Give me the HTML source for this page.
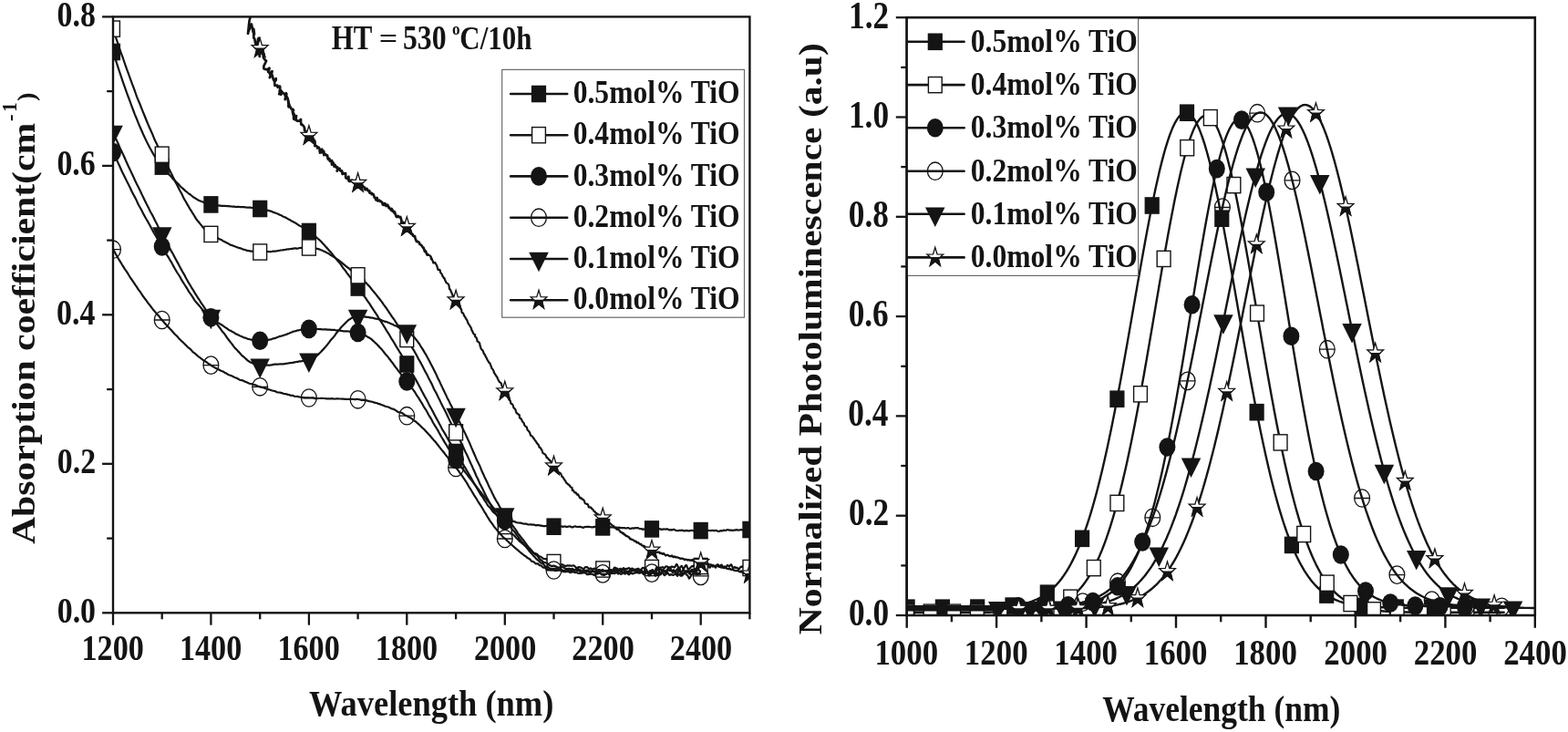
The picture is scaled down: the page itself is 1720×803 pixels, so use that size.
<!DOCTYPE html>
<html><head><meta charset="utf-8"><title>Absorption and photoluminescence spectra</title>
<style>html,body{margin:0;padding:0;background:#fff;}svg{display:block;filter:blur(0.45px);}
text{font-family:"Liberation Serif","Times New Roman",serif;font-weight:bold;fill:#141414;}</style></head>
<body><svg width="1720" height="803" viewBox="0 0 1720 803">
<rect width="1720" height="803" fill="#fff"/>
<clipPath id="clipL"><rect x="124.0" y="18.4" width="698.4" height="653.9"/></clipPath>
<g clip-path="url(#clipL)">
<polyline points="124.0,57.0 125.0,60.1 126.0,63.1 127.0,66.2 128.0,69.2 129.0,72.3 130.0,75.4 131.0,78.5 132.0,81.4 133.0,84.3 134.0,87.4 135.0,90.3 136.0,93.1 137.0,95.9 138.0,98.8 139.0,101.7 140.0,104.4 141.0,107.0 142.0,109.7 143.0,112.4 144.0,115.1 145.0,117.8 146.0,120.5 147.0,123.2 148.0,125.8 149.0,128.2 150.0,130.5 151.0,133.1 152.0,135.6 153.0,138.0 154.0,140.2 155.0,142.5 156.0,144.8 157.0,147.1 158.0,149.3 159.0,151.4 160.0,153.5 161.0,155.6 162.0,157.6 163.0,159.5 164.0,161.5 165.0,163.3 166.0,165.0 167.0,166.9 168.0,168.7 169.0,170.3 170.0,171.9 171.0,173.5 172.0,175.0 173.0,176.7 174.0,178.0 175.0,179.1 176.0,180.5 177.0,181.8 178.0,183.0 179.0,184.1 180.0,185.3 181.0,186.5 182.0,187.7 183.0,188.7 184.0,189.8 185.0,190.9 186.0,192.0 187.0,193.0 188.0,194.1 189.0,195.3 190.0,196.5 191.0,197.5 192.0,198.3 193.0,199.4 194.0,200.4 195.0,201.3 196.0,202.3 197.0,203.5 198.0,204.6 199.0,205.5 200.0,206.3 201.0,207.1 202.0,208.1 203.0,209.1 204.0,209.8 205.0,210.6 206.0,211.5 207.0,212.3 208.0,213.0 209.0,213.7 210.0,214.5 211.0,215.3 212.0,216.1 213.0,216.8 214.0,217.3 215.0,218.0 216.0,218.6 217.0,219.2 218.0,219.7 219.0,220.2 220.0,220.6 221.0,221.0 222.0,221.3 223.0,221.7 224.0,222.2 225.0,222.7 226.0,223.2 227.0,223.6 228.0,223.7 229.0,223.8 230.0,224.2 231.0,224.4 232.0,224.5 233.0,224.6 234.0,224.9 235.0,224.9 236.0,224.9 237.0,225.1 238.0,225.2 239.0,225.3 240.0,225.4 241.0,225.6 242.0,225.7 243.0,225.8 244.0,225.8 245.0,225.9 246.0,225.9 247.0,225.8 248.0,226.0 249.0,226.1 250.0,226.1 251.0,226.2 252.0,226.3 253.0,226.4 254.0,226.5 255.0,226.6 256.0,226.6 257.0,226.6 258.0,226.9 259.0,227.0 260.0,226.9 261.0,226.9 262.0,226.9 263.0,227.0 264.0,227.1 265.0,227.1 266.0,227.1 267.0,227.1 268.0,227.2 269.0,227.3 270.0,227.5 271.0,227.6 272.0,227.7 273.0,227.7 274.0,227.7 275.0,227.7 276.0,227.9 277.0,228.0 278.0,228.1 279.0,228.1 280.0,228.1 281.0,228.4 282.0,228.7 283.0,228.7 284.0,228.7 285.0,229.0 286.0,229.2 287.0,229.2 288.0,229.3 289.0,229.5 290.0,229.7 291.0,230.1 292.0,230.4 293.0,230.6 294.0,230.8 295.0,231.2 296.0,231.4 297.0,231.7 298.0,231.9 299.0,232.4 300.0,232.9 301.0,233.2 302.0,233.6 303.0,234.0 304.0,234.3 305.0,234.7 306.0,235.2 307.0,235.7 308.0,236.1 309.0,236.6 310.0,237.2 311.0,237.7 312.0,238.1 313.0,238.4 314.0,238.9 315.0,239.6 316.0,240.2 317.0,240.7 318.0,241.2 319.0,241.9 320.0,242.4 321.0,242.9 322.0,243.5 323.0,244.1 324.0,244.6 325.0,245.2 326.0,245.9 327.0,246.6 328.0,247.3 329.0,247.8 330.0,248.1 331.0,248.7 332.0,249.5 333.0,250.1 334.0,250.8 335.0,251.4 336.0,251.9 337.0,252.5 338.0,253.3 339.0,254.1 340.0,254.7 341.0,255.4 342.0,256.0 343.0,256.8 344.0,257.6 345.0,258.4 346.0,259.2 347.0,260.2 348.0,261.2 349.0,262.1 350.0,262.9 351.0,263.8 352.0,264.8 353.0,265.8 354.0,266.9 355.0,268.0 356.0,269.1 357.0,270.3 358.0,271.4 359.0,272.4 360.0,273.5 361.0,274.7 362.0,275.7 363.0,276.8 364.0,278.1 365.0,279.4 366.0,280.7 367.0,281.8 368.0,283.1 369.0,284.4 370.0,285.6 371.0,286.6 372.0,287.9 373.0,289.1 374.0,290.3 375.0,291.9 376.0,293.5 377.0,294.7 378.0,295.8 379.0,297.2 380.0,298.7 381.0,300.1 382.0,301.3 383.0,302.7 384.0,304.0 385.0,305.5 386.0,306.8 387.0,308.0 388.0,309.3 389.0,310.7 390.0,312.0 391.0,313.4 392.0,314.6 393.0,315.9 394.0,317.3 395.0,318.6 396.0,320.2 397.0,321.6 398.0,322.9 399.0,324.3 400.0,325.6 401.0,326.8 402.0,328.4 403.0,329.9 404.0,331.3 405.0,332.7 406.0,334.2 407.0,335.8 408.0,337.4 409.0,338.9 410.0,340.4 411.0,342.0 412.0,343.4 413.0,344.8 414.0,346.4 415.0,348.2 416.0,349.9 417.0,351.4 418.0,352.9 419.0,354.4 420.0,356.0 421.0,357.6 422.0,359.2 423.0,360.9 424.0,362.6 425.0,364.2 426.0,365.7 427.0,367.2 428.0,369.0 429.0,370.8 430.0,372.4 431.0,373.9 432.0,375.5 433.0,377.1 434.0,378.9 435.0,380.6 436.0,382.2 437.0,383.8 438.0,385.5 439.0,387.1 440.0,388.7 441.0,390.4 442.0,392.2 443.0,393.9 444.0,395.6 445.0,397.4 446.0,399.1 447.0,400.6 448.0,402.2 449.0,404.0 450.0,405.7 451.0,407.4 452.0,409.3 453.0,411.2 454.0,412.8 455.0,414.5 456.0,416.3 457.0,418.1 458.0,419.9 459.0,421.8 460.0,423.7 461.0,425.6 462.0,427.6 463.0,429.5 464.0,431.3 465.0,433.2 466.0,435.1 467.0,436.8 468.0,438.5 469.0,440.4 470.0,442.5 471.0,444.6 472.0,446.4 473.0,448.0 474.0,449.9 475.0,451.8 476.0,453.8 477.0,455.7 478.0,457.6 479.0,459.4 480.0,461.2 481.0,463.1 482.0,465.0 483.0,466.8 484.0,468.7 485.0,470.7 486.0,472.4 487.0,474.0 488.0,475.6 489.0,477.4 490.0,479.1 491.0,480.9 492.0,482.8 493.0,484.6 494.0,486.1 495.0,487.6 496.0,489.3 497.0,491.1 498.0,492.9 499.0,494.6 500.0,496.0 501.0,497.3 502.0,498.9 503.0,500.6 504.0,502.3 505.0,503.9 506.0,505.6 507.0,507.3 508.0,509.2 509.0,511.0 510.0,512.7 511.0,514.3 512.0,516.1 513.0,517.8 514.0,519.5 515.0,521.2 516.0,522.9 517.0,524.7 518.0,526.6 519.0,528.4 520.0,530.2 521.0,531.8 522.0,533.4 523.0,535.1 524.0,536.9 525.0,538.6 526.0,540.3 527.0,542.1 528.0,543.5 529.0,544.6 530.0,546.2 531.0,548.2 532.0,549.5 533.0,550.7 534.0,552.6 535.0,554.3 536.0,555.5 537.0,556.4 538.0,557.4 539.0,558.9 540.0,560.5 541.0,561.6 542.0,562.5 543.0,563.2 544.0,563.8 545.0,564.5 546.0,565.6 547.0,566.6 548.0,567.2 549.0,568.1 550.0,568.6 551.0,568.7 552.0,569.1 553.0,569.6 554.0,569.9 555.0,570.0 556.0,570.2 557.0,570.5 558.0,570.6 559.0,570.8 560.0,571.5 561.0,571.8 562.0,571.7 563.0,571.9 564.0,572.1 565.0,572.4 566.0,572.9 567.0,573.2 568.0,573.5 569.0,573.5 570.0,573.6 571.0,573.7 572.0,573.9 573.0,574.2 574.0,574.5 575.0,574.7 576.0,574.6 577.0,574.6 578.0,574.9 579.0,575.3 580.0,575.5 581.0,575.4 582.0,575.3 583.0,575.4 584.0,575.7 585.0,575.6 586.0,575.5 587.0,576.1 588.0,576.5 589.0,576.1 590.0,576.0 591.0,576.2 592.0,576.4 593.0,576.7 594.0,576.7 595.0,576.8 596.0,577.1 597.0,577.1 598.0,577.1 599.0,577.0 600.0,576.7 601.0,577.0 602.0,577.7 603.0,577.7 604.0,577.6 605.0,577.7 606.0,577.7 607.0,578.0 608.0,578.1 609.0,577.5 610.0,577.0 611.0,577.1 612.0,577.4 613.0,578.0 614.0,578.0 615.0,577.5 616.0,577.3 617.0,577.8 618.0,577.8 619.0,577.4 620.0,577.5 621.0,577.9 622.0,577.9 623.0,577.8 624.0,577.5 625.0,577.4 626.0,577.7 627.0,578.4 628.0,578.4 629.0,577.9 630.0,577.5 631.0,577.4 632.0,577.7 633.0,578.0 634.0,578.0 635.0,577.9 636.0,577.8 637.0,577.9 638.0,578.3 639.0,578.7 640.0,578.8 641.0,578.3 642.0,577.9 643.0,578.0 644.0,577.9 645.0,577.9 646.0,577.9 647.0,578.0 648.0,578.2 649.0,578.3 650.0,578.3 651.0,578.1 652.0,577.9 653.0,577.9 654.0,578.0 655.0,578.1 656.0,578.3 657.0,578.2 658.0,578.0 659.0,578.0 660.0,577.9 661.0,578.0 662.0,578.0 663.0,577.8 664.0,578.2 665.0,578.5 666.0,578.4 667.0,578.3 668.0,578.3 669.0,578.2 670.0,578.3 671.0,578.5 672.0,578.5 673.0,578.4 674.0,578.7 675.0,578.8 676.0,578.7 677.0,578.8 678.0,578.8 679.0,578.6 680.0,578.9 681.0,579.2 682.0,579.2 683.0,579.1 684.0,579.0 685.0,579.1 686.0,579.4 687.0,579.5 688.0,579.2 689.0,579.0 690.0,579.5 691.0,580.0 692.0,579.9 693.0,579.5 694.0,579.3 695.0,579.6 696.0,579.4 697.0,579.0 698.0,579.3 699.0,579.2 700.0,579.2 701.0,579.7 702.0,580.1 703.0,580.0 704.0,580.2 705.0,580.8 706.0,580.7 707.0,580.3 708.0,579.9 709.0,579.7 710.0,579.9 711.0,580.3 712.0,580.5 713.0,580.6 714.0,580.5 715.0,580.3 716.0,580.4 717.0,580.7 718.0,580.9 719.0,581.0 720.0,580.8 721.0,580.6 722.0,580.6 723.0,580.3 724.0,580.2 725.0,580.7 726.0,580.9 727.0,580.7 728.0,580.4 729.0,580.5 730.0,580.7 731.0,580.4 732.0,580.3 733.0,580.8 734.0,581.4 735.0,581.3 736.0,581.1 737.0,581.3 738.0,581.2 739.0,580.7 740.0,581.1 741.0,581.7 742.0,582.0 743.0,582.2 744.0,582.2 745.0,581.9 746.0,581.9 747.0,581.9 748.0,581.7 749.0,581.8 750.0,582.3 751.0,582.4 752.0,582.1 753.0,581.9 754.0,582.1 755.0,582.3 756.0,582.3 757.0,582.2 758.0,581.9 759.0,581.8 760.0,582.0 761.0,582.4 762.0,582.2 763.0,581.7 764.0,581.7 765.0,582.0 766.0,581.7 767.0,581.7 768.0,582.2 769.0,582.4 770.0,582.2 771.0,582.2 772.0,582.3 773.0,582.3 774.0,582.2 775.0,581.9 776.0,581.8 777.0,581.9 778.0,582.0 779.0,582.2 780.0,582.1 781.0,581.8 782.0,581.9 783.0,582.1 784.0,582.1 785.0,581.9 786.0,582.0 787.0,582.6 788.0,583.0 789.0,582.8 790.0,582.3 791.0,582.2 792.0,582.4 793.0,582.0 794.0,581.6 795.0,581.8 796.0,581.9 797.0,581.4 798.0,581.0 799.0,581.3 800.0,581.6 801.0,581.6 802.0,581.6 803.0,581.8 804.0,581.8 805.0,581.7 806.0,581.6 807.0,581.4 808.0,581.2 809.0,581.3 810.0,581.7 811.0,581.5 812.0,581.2 813.0,581.2 814.0,581.3 815.0,581.3 816.0,580.8 817.0,580.7 818.0,581.3 819.0,581.9 820.0,581.7 821.0,581.3 822.0,581.2" fill="none" stroke="#141414" stroke-width="2.2" stroke-linejoin="round" stroke-linecap="round" />
<rect x="115.9" y="47.7" width="16.2" height="18.6" fill="#141414"/>
<rect x="169.6" y="173.3" width="16.2" height="18.6" fill="#141414"/>
<rect x="223.3" y="215.1" width="16.2" height="18.6" fill="#141414"/>
<rect x="277.1" y="219.7" width="16.2" height="18.6" fill="#141414"/>
<rect x="330.8" y="244.7" width="16.2" height="18.6" fill="#141414"/>
<rect x="384.5" y="306.2" width="16.2" height="18.6" fill="#141414"/>
<rect x="438.2" y="390.2" width="16.2" height="18.6" fill="#141414"/>
<rect x="492.0" y="486.7" width="16.2" height="18.6" fill="#141414"/>
<rect x="545.7" y="560.7" width="16.2" height="18.6" fill="#141414"/>
<rect x="599.4" y="568.4" width="16.2" height="18.6" fill="#141414"/>
<rect x="653.1" y="569.1" width="16.2" height="18.6" fill="#141414"/>
<rect x="706.9" y="571.1" width="16.2" height="18.6" fill="#141414"/>
<rect x="760.6" y="572.8" width="16.2" height="18.6" fill="#141414"/>
<rect x="814.3" y="571.7" width="16.2" height="18.6" fill="#141414"/>
<polyline points="124.0,31.8 125.0,34.7 126.0,37.7 127.0,40.8 128.0,43.8 129.0,46.7 130.0,49.7 131.0,52.9 132.0,55.9 133.0,58.6 134.0,61.3 135.0,64.0 136.0,67.0 137.0,70.0 138.0,72.9 139.0,75.7 140.0,78.3 141.0,81.0 142.0,83.9 143.0,86.6 144.0,89.3 145.0,92.1 146.0,94.7 147.0,97.3 148.0,100.2 149.0,103.0 150.0,105.8 151.0,108.4 152.0,110.7 153.0,113.0 154.0,115.5 155.0,118.1 156.0,120.7 157.0,123.1 158.0,125.5 159.0,128.0 160.0,130.5 161.0,133.0 162.0,135.4 163.0,137.7 164.0,140.0 165.0,142.3 166.0,144.5 167.0,146.7 168.0,149.2 169.0,151.7 170.0,154.0 171.0,156.1 172.0,158.0 173.0,160.1 174.0,162.3 175.0,164.3 176.0,166.2 177.0,168.2 178.0,170.2 179.0,172.2 180.0,174.2 181.0,176.1 182.0,178.3 183.0,180.6 184.0,182.5 185.0,184.4 186.0,186.5 187.0,188.5 188.0,190.4 189.0,192.5 190.0,194.6 191.0,196.6 192.0,198.7 193.0,200.7 194.0,202.6 195.0,204.5 196.0,206.5 197.0,208.5 198.0,210.2 199.0,212.1 200.0,214.1 201.0,216.2 202.0,218.2 203.0,219.9 204.0,221.5 205.0,223.4 206.0,225.1 207.0,226.8 208.0,228.6 209.0,230.1 210.0,231.6 211.0,233.3 212.0,234.9 213.0,236.5 214.0,238.2 215.0,239.8 216.0,241.3 217.0,242.4 218.0,243.5 219.0,244.8 220.0,246.1 221.0,247.3 222.0,248.6 223.0,249.6 224.0,250.6 225.0,251.8 226.0,252.8 227.0,253.7 228.0,254.6 229.0,255.3 230.0,256.1 231.0,256.8 232.0,257.4 233.0,257.9 234.0,258.4 235.0,258.8 236.0,259.4 237.0,260.1 238.0,260.6 239.0,261.2 240.0,262.0 241.0,262.4 242.0,262.7 243.0,263.2 244.0,263.9 245.0,264.5 246.0,265.0 247.0,265.5 248.0,266.0 249.0,266.5 250.0,267.0 251.0,267.5 252.0,268.3 253.0,268.8 254.0,268.9 255.0,269.2 256.0,269.7 257.0,270.1 258.0,270.5 259.0,270.8 260.0,271.3 261.0,271.5 262.0,271.9 263.0,272.2 264.0,272.4 265.0,272.8 266.0,273.3 267.0,273.7 268.0,273.9 269.0,274.0 270.0,274.4 271.0,274.9 272.0,275.1 273.0,275.2 274.0,275.3 275.0,275.6 276.0,275.6 277.0,275.7 278.0,276.0 279.0,276.3 280.0,276.4 281.0,276.5 282.0,276.5 283.0,276.5 284.0,276.5 285.0,276.6 286.0,276.8 287.0,276.7 288.0,276.4 289.0,276.4 290.0,276.5 291.0,276.5 292.0,276.2 293.0,275.9 294.0,276.0 295.0,276.1 296.0,276.1 297.0,276.1 298.0,276.0 299.0,275.7 300.0,275.5 301.0,275.6 302.0,275.7 303.0,275.5 304.0,275.2 305.0,275.1 306.0,275.0 307.0,274.7 308.0,274.5 309.0,274.5 310.0,274.4 311.0,274.2 312.0,274.0 313.0,273.9 314.0,273.7 315.0,273.5 316.0,273.3 317.0,273.3 318.0,273.2 319.0,273.0 320.0,272.9 321.0,272.8 322.0,272.6 323.0,272.4 324.0,272.4 325.0,272.6 326.0,272.7 327.0,272.5 328.0,272.2 329.0,272.0 330.0,271.9 331.0,271.9 332.0,271.8 333.0,271.7 334.0,271.7 335.0,271.7 336.0,271.7 337.0,271.6 338.0,271.4 339.0,271.5 340.0,271.6 341.0,271.7 342.0,271.7 343.0,271.6 344.0,271.7 345.0,272.1 346.0,272.5 347.0,272.6 348.0,272.9 349.0,273.2 350.0,273.4 351.0,273.7 352.0,274.2 353.0,274.6 354.0,275.0 355.0,275.5 356.0,275.9 357.0,276.3 358.0,277.0 359.0,277.5 360.0,277.8 361.0,278.5 362.0,279.4 363.0,280.0 364.0,280.5 365.0,281.1 366.0,281.8 367.0,282.4 368.0,283.1 369.0,283.8 370.0,284.4 371.0,285.1 372.0,285.9 373.0,286.7 374.0,287.4 375.0,288.2 376.0,289.1 377.0,289.9 378.0,290.7 379.0,291.6 380.0,292.4 381.0,293.2 382.0,293.8 383.0,294.6 384.0,295.5 385.0,296.5 386.0,297.2 387.0,297.6 388.0,298.4 389.0,299.5 390.0,300.4 391.0,301.1 392.0,301.9 393.0,302.7 394.0,303.5 395.0,304.4 396.0,305.1 397.0,305.9 398.0,306.9 399.0,307.9 400.0,308.9 401.0,309.9 402.0,310.8 403.0,311.9 404.0,312.9 405.0,313.9 406.0,315.0 407.0,316.3 408.0,317.7 409.0,318.9 410.0,320.0 411.0,321.3 412.0,322.4 413.0,323.6 414.0,325.0 415.0,326.3 416.0,327.5 417.0,328.7 418.0,330.1 419.0,331.4 420.0,332.8 421.0,334.3 422.0,335.6 423.0,337.0 424.0,338.4 425.0,339.9 426.0,341.3 427.0,342.8 428.0,344.4 429.0,345.9 430.0,347.4 431.0,348.8 432.0,350.0 433.0,351.5 434.0,353.1 435.0,354.6 436.0,356.1 437.0,357.5 438.0,358.9 439.0,360.4 440.0,362.0 441.0,363.6 442.0,365.2 443.0,366.7 444.0,368.3 445.0,369.9 446.0,371.2 447.0,372.7 448.0,374.2 449.0,375.8 450.0,377.7 451.0,379.5 452.0,381.2 453.0,382.8 454.0,384.4 455.0,386.2 456.0,388.0 457.0,389.8 458.0,391.8 459.0,393.7 460.0,395.4 461.0,397.1 462.0,398.9 463.0,400.8 464.0,402.8 465.0,404.7 466.0,406.7 467.0,408.6 468.0,410.3 469.0,412.3 470.0,414.4 471.0,416.3 472.0,418.2 473.0,420.1 474.0,422.1 475.0,424.4 476.0,426.7 477.0,428.5 478.0,430.2 479.0,432.1 480.0,434.3 481.0,436.4 482.0,438.3 483.0,440.4 484.0,442.6 485.0,444.6 486.0,446.5 487.0,448.3 488.0,450.2 489.0,452.2 490.0,454.3 491.0,456.5 492.0,458.6 493.0,460.7 494.0,462.9 495.0,464.7 496.0,466.4 497.0,468.5 498.0,470.5 499.0,472.2 500.0,474.0 501.0,475.9 502.0,477.9 503.0,480.0 504.0,481.8 505.0,483.8 506.0,486.0 507.0,488.2 508.0,490.3 509.0,492.4 510.0,494.6 511.0,496.7 512.0,498.6 513.0,500.8 514.0,503.1 515.0,505.3 516.0,507.5 517.0,509.6 518.0,511.8 519.0,514.2 520.0,516.3 521.0,518.5 522.0,521.0 523.0,523.2 524.0,525.0 525.0,527.3 526.0,529.7 527.0,531.7 528.0,533.6 529.0,535.6 530.0,537.6 531.0,539.7 532.0,541.8 533.0,543.8 534.0,545.8 535.0,547.6 536.0,549.5 537.0,551.4 538.0,553.3 539.0,555.2 540.0,557.2 541.0,558.9 542.0,560.6 543.0,562.2 544.0,563.8 545.0,565.3 546.0,566.9 547.0,568.4 548.0,569.8 549.0,571.3 550.0,572.6 551.0,573.7 552.0,574.8 553.0,576.0 554.0,577.2 555.0,578.3 556.0,579.4 557.0,580.2 558.0,581.1 559.0,582.1 560.0,583.2 561.0,584.5 562.0,585.8 563.0,586.7 564.0,587.4 565.0,588.5 566.0,589.8 567.0,590.7 568.0,591.6 569.0,592.7 570.0,593.9 571.0,594.7 572.0,595.4 573.0,596.2 574.0,597.1 575.0,597.8 576.0,598.6 577.0,599.5 578.0,600.4 579.0,601.2 580.0,602.3 581.0,603.5 582.0,603.8 583.0,604.2 584.0,605.2 585.0,606.2 586.0,606.9 587.0,607.2 588.0,607.4 589.0,607.8 590.0,608.8 591.0,609.9 592.0,610.4 593.0,610.7 594.0,611.3 595.0,612.2 596.0,612.8 597.0,613.0 598.0,613.1 599.0,613.1 600.0,614.1 601.0,614.9 602.0,614.7 603.0,615.2 604.0,616.0 605.0,616.1 606.0,616.2 607.0,616.7 608.0,617.1 609.0,616.9 610.0,616.7 611.0,617.2 612.0,617.5 613.0,617.9 614.0,618.6 615.0,619.2 616.0,619.4 617.0,619.3 618.0,619.9 619.0,620.6 620.0,620.9 621.0,620.9 622.0,620.4 623.0,620.4 624.0,620.6 625.0,620.3 626.0,620.6 627.0,620.8 628.0,620.5 629.0,620.3 630.0,620.7 631.0,621.8 632.0,622.7 633.0,622.9 634.0,622.4 635.0,622.1 636.0,622.2 637.0,622.6 638.0,623.0 639.0,623.7 640.0,624.2 641.0,623.3 642.0,622.2 643.0,622.1 644.0,622.1 645.0,622.9 646.0,624.2 647.0,623.9 648.0,623.3 649.0,624.3 650.0,624.9 651.0,624.1 652.0,623.6 653.0,623.9 654.0,624.6 655.0,625.2 656.0,625.7 657.0,626.0 658.0,626.0 659.0,625.9 660.0,624.9 661.0,623.7 662.0,624.0 663.0,624.5 664.0,624.6 665.0,624.8 666.0,624.2 667.0,624.2 668.0,625.4 669.0,625.5 670.0,625.1 671.0,625.5 672.0,625.6 673.0,624.1 674.0,622.5 675.0,622.8 676.0,623.4 677.0,623.5 678.0,624.5 679.0,625.0 680.0,623.9 681.0,623.9 682.0,625.1 683.0,624.1 684.0,623.1 685.0,623.9 686.0,624.2 687.0,623.9 688.0,624.1 689.0,623.5 690.0,623.1 691.0,623.9 692.0,624.3 693.0,623.7 694.0,623.7 695.0,624.9 696.0,625.6 697.0,624.8 698.0,624.4 699.0,624.0 700.0,623.7 701.0,624.4 702.0,625.0 703.0,625.0 704.0,623.9 705.0,622.8 706.0,622.8 707.0,623.7 708.0,624.5 709.0,624.8 710.0,624.6 711.0,624.9 712.0,625.0 713.0,623.2 714.0,621.3 715.0,620.7 716.0,621.9 717.0,623.3 718.0,623.4 719.0,623.8 720.0,624.7 721.0,625.1 722.0,624.4 723.0,623.0 724.0,622.5 725.0,622.7 726.0,622.5 727.0,622.1 728.0,622.9 729.0,623.1 730.0,621.6 731.0,621.3 732.0,621.6 733.0,622.4 734.0,623.0 735.0,622.8 736.0,622.0 737.0,621.4 738.0,622.0 739.0,622.2 740.0,622.3 741.0,621.0 742.0,618.9 743.0,619.8 744.0,622.3 745.0,623.4 746.0,622.8 747.0,621.2 748.0,620.9 749.0,623.1 750.0,624.0 751.0,622.2 752.0,620.3 753.0,620.0 754.0,622.7 755.0,624.7 756.0,623.9 757.0,623.1 758.0,621.8 759.0,621.1 760.0,621.3 761.0,620.4 762.0,620.4 763.0,621.7 764.0,622.3 765.0,622.1 766.0,621.2 767.0,619.8 768.0,619.4 769.0,620.1 770.0,619.7 771.0,618.7 772.0,618.8 773.0,619.0 774.0,618.2 775.0,617.9 776.0,618.8 777.0,620.6 778.0,622.6 779.0,622.5 780.0,620.3 781.0,620.1 782.0,621.6 783.0,621.2 784.0,621.6 785.0,622.6 786.0,621.1 787.0,619.2 788.0,619.5 789.0,621.1 790.0,621.1 791.0,619.6 792.0,620.0 793.0,621.7 794.0,622.0 795.0,621.4 796.0,622.1 797.0,621.5 798.0,619.9 799.0,620.6 800.0,621.7 801.0,620.3 802.0,619.2 803.0,620.8 804.0,623.3 805.0,622.8 806.0,621.9 807.0,623.0 808.0,622.7 809.0,623.1 810.0,624.4 811.0,623.9 812.0,622.4 813.0,621.6 814.0,622.1 815.0,620.8 816.0,621.1 817.0,624.5 818.0,625.7 819.0,624.5 820.0,623.6 821.0,624.7 822.0,625.3" fill="none" stroke="#141414" stroke-width="2.2" stroke-linejoin="round" stroke-linecap="round" />
<rect x="116.6" y="23.0" width="14.8" height="17.2" fill="#fff" stroke="#141414" stroke-width="1.4"/>
<rect x="170.3" y="161.1" width="14.8" height="17.2" fill="#fff" stroke="#141414" stroke-width="1.4"/>
<rect x="224.0" y="248.3" width="14.8" height="17.2" fill="#fff" stroke="#141414" stroke-width="1.4"/>
<rect x="277.8" y="267.9" width="14.8" height="17.2" fill="#fff" stroke="#141414" stroke-width="1.4"/>
<rect x="331.5" y="262.9" width="14.8" height="17.2" fill="#fff" stroke="#141414" stroke-width="1.4"/>
<rect x="385.2" y="293.7" width="14.8" height="17.2" fill="#fff" stroke="#141414" stroke-width="1.4"/>
<rect x="438.9" y="363.4" width="14.8" height="17.2" fill="#fff" stroke="#141414" stroke-width="1.4"/>
<rect x="492.7" y="465.7" width="14.8" height="17.2" fill="#fff" stroke="#141414" stroke-width="1.4"/>
<rect x="546.4" y="568.4" width="14.8" height="17.2" fill="#fff" stroke="#141414" stroke-width="1.4"/>
<rect x="600.1" y="608.4" width="14.8" height="17.2" fill="#fff" stroke="#141414" stroke-width="1.4"/>
<rect x="653.8" y="615.9" width="14.8" height="17.2" fill="#fff" stroke="#141414" stroke-width="1.4"/>
<rect x="707.6" y="614.4" width="14.8" height="17.2" fill="#fff" stroke="#141414" stroke-width="1.4"/>
<rect x="761.3" y="612.4" width="14.8" height="17.2" fill="#fff" stroke="#141414" stroke-width="1.4"/>
<rect x="815.0" y="614.4" width="14.8" height="17.2" fill="#fff" stroke="#141414" stroke-width="1.4"/>
<polyline points="124.0,167.2 125.0,169.2 126.0,171.2 127.0,173.2 128.0,175.2 129.0,177.4 130.0,179.7 131.0,181.8 132.0,184.0 133.0,186.3 134.0,188.6 135.0,190.6 136.0,192.6 137.0,194.6 138.0,196.5 139.0,198.6 140.0,200.6 141.0,202.5 142.0,204.5 143.0,206.5 144.0,208.7 145.0,210.9 146.0,212.7 147.0,214.6 148.0,216.4 149.0,218.3 150.0,220.4 151.0,222.7 152.0,224.8 153.0,226.5 154.0,228.2 155.0,230.1 156.0,232.1 157.0,234.0 158.0,235.9 159.0,237.7 160.0,239.5 161.0,241.2 162.0,242.9 163.0,244.7 164.0,246.5 165.0,248.3 166.0,250.2 167.0,252.0 168.0,253.9 169.0,255.6 170.0,257.2 171.0,258.9 172.0,260.7 173.0,262.7 174.0,264.6 175.0,266.1 176.0,267.7 177.0,269.4 178.0,271.0 179.0,272.7 180.0,274.1 181.0,275.8 182.0,277.9 183.0,279.7 184.0,281.1 185.0,282.7 186.0,284.5 187.0,286.1 188.0,287.7 189.0,289.5 190.0,291.4 191.0,293.2 192.0,295.0 193.0,296.7 194.0,298.5 195.0,300.0 196.0,301.5 197.0,303.0 198.0,304.8 199.0,306.7 200.0,308.3 201.0,309.9 202.0,311.5 203.0,313.0 204.0,314.6 205.0,316.2 206.0,317.9 207.0,319.6 208.0,321.1 209.0,322.4 210.0,323.8 211.0,325.4 212.0,326.9 213.0,328.6 214.0,330.1 215.0,331.3 216.0,332.4 217.0,333.5 218.0,334.7 219.0,335.9 220.0,337.1 221.0,338.3 222.0,339.6 223.0,340.7 224.0,341.7 225.0,342.6 226.0,343.7 227.0,344.8 228.0,345.8 229.0,346.7 230.0,347.5 231.0,348.2 232.0,348.8 233.0,349.7 234.0,350.4 235.0,350.9 236.0,351.7 237.0,352.6 238.0,353.2 239.0,353.9 240.0,354.5 241.0,355.1 242.0,355.7 243.0,356.3 244.0,356.9 245.0,357.6 246.0,358.4 247.0,359.1 248.0,359.7 249.0,360.4 250.0,361.2 251.0,362.0 252.0,362.4 253.0,362.8 254.0,363.4 255.0,364.1 256.0,364.6 257.0,365.0 258.0,365.9 259.0,366.5 260.0,366.7 261.0,367.3 262.0,367.8 263.0,368.3 264.0,368.7 265.0,369.0 266.0,369.6 267.0,370.1 268.0,370.4 269.0,370.6 270.0,371.0 271.0,371.4 272.0,371.8 273.0,372.0 274.0,372.2 275.0,372.5 276.0,372.8 277.0,372.8 278.0,372.8 279.0,373.1 280.0,373.3 281.0,373.5 282.0,373.8 283.0,373.6 284.0,373.7 285.0,373.9 286.0,374.0 287.0,374.0 288.0,373.8 289.0,373.5 290.0,373.5 291.0,373.6 292.0,373.4 293.0,373.1 294.0,372.9 295.0,372.6 296.0,372.5 297.0,372.4 298.0,372.0 299.0,371.5 300.0,371.3 301.0,371.2 302.0,370.9 303.0,370.5 304.0,370.1 305.0,369.7 306.0,369.2 307.0,368.9 308.0,368.8 309.0,368.5 310.0,368.2 311.0,367.9 312.0,367.5 313.0,367.2 314.0,367.0 315.0,366.5 316.0,366.0 317.0,365.7 318.0,365.3 319.0,364.8 320.0,364.5 321.0,364.1 322.0,363.6 323.0,363.5 324.0,363.2 325.0,362.9 326.0,362.5 327.0,362.4 328.0,362.3 329.0,362.0 330.0,361.7 331.0,361.6 332.0,361.4 333.0,361.3 334.0,361.3 335.0,361.1 336.0,361.0 337.0,361.0 338.0,360.9 339.0,360.9 340.0,361.0 341.0,360.9 342.0,360.6 343.0,360.6 344.0,360.7 345.0,360.7 346.0,360.7 347.0,360.9 348.0,361.0 349.0,361.0 350.0,361.1 351.0,361.1 352.0,361.1 353.0,361.3 354.0,361.5 355.0,361.4 356.0,361.3 357.0,361.3 358.0,361.4 359.0,361.6 360.0,361.7 361.0,361.6 362.0,361.7 363.0,361.9 364.0,361.9 365.0,361.9 366.0,361.8 367.0,361.9 368.0,362.2 369.0,362.5 370.0,362.4 371.0,362.3 372.0,362.4 373.0,362.6 374.0,362.8 375.0,363.0 376.0,363.2 377.0,363.3 378.0,363.4 379.0,363.4 380.0,363.4 381.0,363.3 382.0,363.5 383.0,363.7 384.0,363.7 385.0,363.8 386.0,364.1 387.0,364.2 388.0,364.3 389.0,364.4 390.0,364.6 391.0,364.7 392.0,364.7 393.0,364.9 394.0,365.2 395.0,365.5 396.0,365.7 397.0,366.0 398.0,366.4 399.0,367.0 400.0,367.5 401.0,368.0 402.0,368.8 403.0,369.4 404.0,369.9 405.0,370.5 406.0,371.1 407.0,371.7 408.0,372.6 409.0,373.6 410.0,374.5 411.0,375.5 412.0,376.4 413.0,377.3 414.0,378.3 415.0,379.4 416.0,380.4 417.0,381.5 418.0,382.5 419.0,383.6 420.0,384.9 421.0,386.2 422.0,387.6 423.0,388.7 424.0,389.7 425.0,390.9 426.0,392.2 427.0,393.5 428.0,394.7 429.0,396.2 430.0,397.4 431.0,398.7 432.0,400.1 433.0,401.5 434.0,402.8 435.0,404.1 436.0,405.4 437.0,406.8 438.0,408.1 439.0,409.4 440.0,410.7 441.0,411.9 442.0,413.0 443.0,414.2 444.0,415.6 445.0,416.8 446.0,418.0 447.0,419.3 448.0,420.7 449.0,421.8 450.0,422.9 451.0,424.5 452.0,426.0 453.0,427.3 454.0,428.6 455.0,430.0 456.0,431.7 457.0,433.3 458.0,434.8 459.0,436.2 460.0,437.9 461.0,439.6 462.0,441.2 463.0,442.7 464.0,444.5 465.0,446.3 466.0,447.8 467.0,449.3 468.0,451.0 469.0,452.8 470.0,454.8 471.0,456.5 472.0,457.9 473.0,459.6 474.0,461.6 475.0,463.5 476.0,465.2 477.0,466.8 478.0,468.4 479.0,470.0 480.0,471.6 481.0,473.4 482.0,475.3 483.0,477.1 484.0,479.0 485.0,480.5 486.0,482.1 487.0,483.9 488.0,485.7 489.0,487.2 490.0,488.6 491.0,490.4 492.0,492.1 493.0,493.5 494.0,495.0 495.0,496.7 496.0,498.1 497.0,499.4 498.0,500.9 499.0,502.4 500.0,503.9 501.0,505.4 502.0,506.9 503.0,508.1 504.0,509.3 505.0,510.8 506.0,512.4 507.0,513.7 508.0,515.0 509.0,516.2 510.0,517.5 511.0,518.9 512.0,520.1 513.0,521.3 514.0,522.9 515.0,524.2 516.0,525.4 517.0,526.6 518.0,527.8 519.0,529.2 520.0,530.6 521.0,531.9 522.0,533.1 523.0,534.4 524.0,535.7 525.0,536.9 526.0,538.4 527.0,539.5 528.0,540.7 529.0,542.1 530.0,543.3 531.0,544.5 532.0,545.9 533.0,547.1 534.0,548.3 535.0,549.4 536.0,550.6 537.0,551.8 538.0,552.9 539.0,554.2 540.0,555.5 541.0,556.7 542.0,557.8 543.0,559.1 544.0,560.1 545.0,561.1 546.0,562.2 547.0,563.4 548.0,564.7 549.0,565.9 550.0,566.8 551.0,567.8 552.0,569.0 553.0,570.1 554.0,571.2 555.0,572.2 556.0,573.3 557.0,574.5 558.0,575.7 559.0,577.0 560.0,578.2 561.0,579.4 562.0,580.7 563.0,581.9 564.0,583.1 565.0,584.2 566.0,585.6 567.0,587.0 568.0,588.3 569.0,589.6 570.0,591.1 571.0,592.5 572.0,593.7 573.0,594.8 574.0,595.9 575.0,597.4 576.0,598.7 577.0,599.9 578.0,601.2 579.0,602.4 580.0,603.6 581.0,605.0 582.0,606.1 583.0,607.1 584.0,608.2 585.0,609.4 586.0,610.5 587.0,611.5 588.0,612.7 589.0,613.6 590.0,614.5 591.0,615.2 592.0,616.2 593.0,617.4 594.0,617.7 595.0,617.8 596.0,618.6 597.0,620.0 598.0,621.2 599.0,621.7 600.0,621.8 601.0,621.9 602.0,622.6 603.0,623.6 604.0,624.0 605.0,623.8 606.0,623.9 607.0,624.0 608.0,623.7 609.0,623.9 610.0,623.6 611.0,623.4 612.0,624.3 613.0,624.8 614.0,624.3 615.0,624.4 616.0,625.3 617.0,625.6 618.0,625.9 619.0,625.9 620.0,625.5 621.0,625.5 622.0,625.4 623.0,625.3 624.0,625.5 625.0,625.8 626.0,626.2 627.0,626.0 628.0,625.7 629.0,625.8 630.0,625.8 631.0,625.5 632.0,625.6 633.0,625.8 634.0,625.8 635.0,625.9 636.0,626.5 637.0,627.6 638.0,627.8 639.0,627.1 640.0,627.2 641.0,627.9 642.0,627.4 643.0,626.8 644.0,626.9 645.0,627.4 646.0,627.6 647.0,627.8 648.0,627.8 649.0,627.1 650.0,626.7 651.0,627.0 652.0,627.6 653.0,627.3 654.0,627.1 655.0,627.9 656.0,627.7 657.0,626.6 658.0,626.0 659.0,626.0 660.0,626.6 661.0,626.9 662.0,626.5 663.0,626.3 664.0,626.3 665.0,626.6 666.0,627.6 667.0,627.6 668.0,626.2 669.0,626.1 670.0,626.8 671.0,626.9 672.0,626.5 673.0,626.2 674.0,626.5 675.0,627.2 676.0,627.3 677.0,627.1 678.0,627.1 679.0,626.4 680.0,626.0 681.0,627.0 682.0,627.4 683.0,627.4 684.0,628.1 685.0,627.9 686.0,626.3 687.0,626.6 688.0,628.4 689.0,628.4 690.0,626.5 691.0,625.5 692.0,625.8 693.0,625.7 694.0,625.6 695.0,625.9 696.0,625.5 697.0,625.9 698.0,627.0 699.0,626.8 700.0,626.9 701.0,627.8 702.0,627.8 703.0,627.1 704.0,626.6 705.0,627.1 706.0,629.6 707.0,628.6 708.0,625.8 709.0,626.7 710.0,628.5 711.0,629.8 712.0,631.5 713.0,630.3 714.0,627.2 715.0,625.4 716.0,625.0 717.0,626.5 718.0,629.7 719.0,631.7 720.0,627.7 721.0,623.1 722.0,624.3 723.0,625.6 724.0,624.3 725.0,624.2 726.0,626.0 727.0,627.2 728.0,626.3 729.0,626.1 730.0,627.2 731.0,626.4 732.0,624.6 733.0,623.7 734.0,625.2 735.0,626.2 736.0,624.9 737.0,626.3 738.0,628.1 739.0,627.4 740.0,626.4 741.0,626.7 742.0,629.6 743.0,630.6 744.0,627.2 745.0,623.6 746.0,624.9 747.0,629.7 748.0,631.6 749.0,630.6 750.0,629.4 751.0,627.4 752.0,626.7 753.0,627.8 754.0,627.0 755.0,626.1 756.0,629.1 757.0,629.8 758.0,625.7 759.0,624.7 760.0,626.6 761.0,624.9 762.0,623.8 763.0,627.3 764.0,628.2 765.0,628.6 766.0,629.9 767.0,628.8 768.0,627.3" fill="none" stroke="#141414" stroke-width="2.2" stroke-linejoin="round" stroke-linecap="round" />
<ellipse cx="124.0" cy="167.0" rx="9" ry="10.3" fill="#141414"/>
<ellipse cx="177.7" cy="270.5" rx="9" ry="10.3" fill="#141414"/>
<ellipse cx="231.4" cy="348.3" rx="9" ry="10.3" fill="#141414"/>
<ellipse cx="285.2" cy="373.8" rx="9" ry="10.3" fill="#141414"/>
<ellipse cx="338.9" cy="360.9" rx="9" ry="10.3" fill="#141414"/>
<ellipse cx="392.6" cy="365.0" rx="9" ry="10.3" fill="#141414"/>
<ellipse cx="446.3" cy="418.5" rx="9" ry="10.3" fill="#141414"/>
<ellipse cx="500.1" cy="504.0" rx="9" ry="10.3" fill="#141414"/>
<ellipse cx="553.8" cy="571.0" rx="9" ry="10.3" fill="#141414"/>
<polyline points="124.0,273.6 125.0,275.2 126.0,276.9 127.0,278.7 128.0,280.4 129.0,282.1 130.0,284.0 131.0,285.6 132.0,287.2 133.0,288.8 134.0,290.5 135.0,292.1 136.0,293.7 137.0,295.3 138.0,296.6 139.0,298.1 140.0,299.6 141.0,301.3 142.0,303.0 143.0,304.6 144.0,306.0 145.0,307.4 146.0,308.9 147.0,310.3 148.0,311.8 149.0,313.3 150.0,314.7 151.0,316.3 152.0,317.8 153.0,319.1 154.0,320.4 155.0,322.0 156.0,323.6 157.0,325.0 158.0,326.4 159.0,327.8 160.0,328.9 161.0,330.3 162.0,331.9 163.0,333.2 164.0,334.3 165.0,335.6 166.0,337.0 167.0,338.4 168.0,339.7 169.0,340.8 170.0,341.9 171.0,343.1 172.0,344.5 173.0,345.4 174.0,346.4 175.0,347.7 176.0,349.1 177.0,350.4 178.0,351.4 179.0,352.4 180.0,353.7 181.0,354.9 182.0,355.9 183.0,357.0 184.0,358.1 185.0,359.1 186.0,360.2 187.0,361.2 188.0,362.3 189.0,363.4 190.0,364.5 191.0,365.7 192.0,366.8 193.0,367.7 194.0,368.6 195.0,369.7 196.0,370.9 197.0,372.0 198.0,373.0 199.0,374.0 200.0,374.9 201.0,375.8 202.0,376.7 203.0,377.8 204.0,378.8 205.0,379.8 206.0,380.8 207.0,381.6 208.0,382.2 209.0,383.2 210.0,384.2 211.0,385.5 212.0,386.5 213.0,387.1 214.0,387.8 215.0,388.7 216.0,389.6 217.0,390.5 218.0,391.3 219.0,392.0 220.0,392.8 221.0,393.5 222.0,394.3 223.0,395.2 224.0,395.8 225.0,396.3 226.0,396.9 227.0,397.7 228.0,398.5 229.0,399.1 230.0,399.7 231.0,400.3 232.0,401.1 233.0,401.7 234.0,402.3 235.0,402.9 236.0,403.5 237.0,404.0 238.0,404.6 239.0,405.1 240.0,405.4 241.0,406.0 242.0,406.6 243.0,407.0 244.0,407.3 245.0,407.8 246.0,408.4 247.0,409.1 248.0,409.6 249.0,410.1 250.0,410.7 251.0,411.2 252.0,411.5 253.0,411.9 254.0,412.3 255.0,412.7 256.0,413.3 257.0,413.8 258.0,414.2 259.0,414.5 260.0,415.0 261.0,415.5 262.0,416.1 263.0,416.7 264.0,417.0 265.0,417.1 266.0,417.3 267.0,417.7 268.0,418.2 269.0,418.8 270.0,419.1 271.0,419.5 272.0,419.9 273.0,420.4 274.0,420.8 275.0,421.0 276.0,421.2 277.0,421.6 278.0,422.0 279.0,422.2 280.0,422.4 281.0,422.7 282.0,423.1 283.0,423.8 284.0,424.2 285.0,424.3 286.0,424.6 287.0,424.9 288.0,425.0 289.0,425.3 290.0,425.7 291.0,426.1 292.0,426.4 293.0,426.6 294.0,426.9 295.0,427.3 296.0,427.5 297.0,427.9 298.0,428.3 299.0,428.5 300.0,428.8 301.0,429.0 302.0,429.2 303.0,429.8 304.0,430.3 305.0,430.5 306.0,430.5 307.0,430.6 308.0,430.8 309.0,431.1 310.0,431.4 311.0,431.8 312.0,432.0 313.0,432.1 314.0,432.3 315.0,432.6 316.0,432.9 317.0,433.1 318.0,433.4 319.0,433.8 320.0,433.8 321.0,433.8 322.0,434.2 323.0,434.7 324.0,435.0 325.0,435.0 326.0,434.9 327.0,435.1 328.0,435.4 329.0,435.5 330.0,435.8 331.0,436.0 332.0,436.0 333.0,436.1 334.0,436.3 335.0,436.4 336.0,436.3 337.0,436.4 338.0,436.4 339.0,436.4 340.0,436.5 341.0,436.5 342.0,436.4 343.0,436.4 344.0,436.6 345.0,437.1 346.0,437.2 347.0,437.2 348.0,437.1 349.0,437.0 350.0,437.0 351.0,437.0 352.0,436.9 353.0,436.9 354.0,437.0 355.0,437.0 356.0,437.0 357.0,437.2 358.0,437.3 359.0,437.4 360.0,437.3 361.0,437.3 362.0,437.3 363.0,437.3 364.0,437.2 365.0,437.3 366.0,437.5 367.0,437.6 368.0,437.5 369.0,437.3 370.0,437.3 371.0,437.4 372.0,437.5 373.0,437.5 374.0,437.5 375.0,437.7 376.0,437.6 377.0,437.6 378.0,437.8 379.0,437.9 380.0,437.8 381.0,437.8 382.0,437.8 383.0,437.9 384.0,437.9 385.0,437.8 386.0,437.8 387.0,437.9 388.0,438.0 389.0,438.1 390.0,438.1 391.0,437.9 392.0,437.8 393.0,438.0 394.0,438.2 395.0,438.5 396.0,438.8 397.0,438.8 398.0,438.8 399.0,438.9 400.0,439.1 401.0,439.2 402.0,439.3 403.0,439.6 404.0,439.9 405.0,440.2 406.0,440.4 407.0,440.5 408.0,440.7 409.0,441.0 410.0,441.4 411.0,441.7 412.0,441.9 413.0,442.0 414.0,442.4 415.0,442.9 416.0,443.1 417.0,443.4 418.0,444.0 419.0,444.3 420.0,444.6 421.0,444.9 422.0,445.5 423.0,445.8 424.0,446.0 425.0,446.3 426.0,446.5 427.0,446.9 428.0,447.6 429.0,448.1 430.0,448.4 431.0,448.6 432.0,449.0 433.0,449.5 434.0,450.1 435.0,450.8 436.0,451.5 437.0,452.1 438.0,452.3 439.0,452.5 440.0,452.7 441.0,453.0 442.0,453.7 443.0,454.5 444.0,455.2 445.0,455.7 446.0,456.2 447.0,456.6 448.0,457.3 449.0,457.8 450.0,458.2 451.0,458.7 452.0,459.5 453.0,460.5 454.0,461.4 455.0,461.9 456.0,462.5 457.0,463.4 458.0,464.3 459.0,465.1 460.0,466.0 461.0,467.0 462.0,467.9 463.0,469.0 464.0,469.9 465.0,470.8 466.0,471.8 467.0,472.9 468.0,474.0 469.0,475.1 470.0,476.2 471.0,477.2 472.0,478.3 473.0,479.5 474.0,480.7 475.0,481.9 476.0,483.1 477.0,484.0 478.0,485.2 479.0,486.5 480.0,487.7 481.0,489.0 482.0,490.4 483.0,491.6 484.0,492.9 485.0,494.1 486.0,495.3 487.0,496.5 488.0,497.9 489.0,499.2 490.0,500.4 491.0,501.6 492.0,502.8 493.0,504.2 494.0,505.5 495.0,506.7 496.0,507.9 497.0,509.4 498.0,510.8 499.0,511.8 500.0,513.0 501.0,514.1 502.0,515.2 503.0,516.6 504.0,518.1 505.0,519.6 506.0,520.9 507.0,522.2 508.0,523.7 509.0,525.2 510.0,526.7 511.0,528.2 512.0,529.7 513.0,531.3 514.0,533.2 515.0,534.9 516.0,536.4 517.0,538.0 518.0,539.7 519.0,541.4 520.0,543.1 521.0,544.6 522.0,546.1 523.0,547.8 524.0,549.5 525.0,551.1 526.0,552.7 527.0,554.1 528.0,555.7 529.0,557.3 530.0,559.0 531.0,560.8 532.0,562.4 533.0,563.9 534.0,565.7 535.0,567.4 536.0,568.9 537.0,570.6 538.0,572.0 539.0,573.3 540.0,574.7 541.0,576.2 542.0,577.6 543.0,578.9 544.0,580.1 545.0,581.3 546.0,582.5 547.0,583.7 548.0,584.9 549.0,585.9 550.0,587.1 551.0,588.3 552.0,589.4 553.0,590.2 554.0,590.9 555.0,591.8 556.0,592.9 557.0,593.8 558.0,594.7 559.0,595.7 560.0,596.6 561.0,597.4 562.0,598.3 563.0,599.2 564.0,600.1 565.0,601.0 566.0,601.9 567.0,602.7 568.0,603.5 569.0,604.4 570.0,605.3 571.0,606.2 572.0,606.9 573.0,607.7 574.0,608.5 575.0,609.3 576.0,609.9 577.0,610.5 578.0,611.5 579.0,612.2 580.0,612.7 581.0,613.2 582.0,614.3 583.0,615.6 584.0,615.9 585.0,616.0 586.0,616.8 587.0,617.8 588.0,618.5 589.0,618.3 590.0,618.3 591.0,619.4 592.0,620.2 593.0,620.3 594.0,620.6 595.0,621.9 596.0,622.6 597.0,622.5 598.0,623.0 599.0,623.9 600.0,624.6 601.0,624.7 602.0,624.6 603.0,625.1 604.0,625.2 605.0,625.1 606.0,625.3 607.0,625.0 608.0,625.1 609.0,626.1 610.0,626.0 611.0,625.7 612.0,625.7 613.0,625.3 614.0,625.3 615.0,625.8 616.0,626.2 617.0,626.8 618.0,627.2 619.0,627.0 620.0,627.3 621.0,627.2 622.0,626.9 623.0,626.9 624.0,627.3 625.0,627.9 626.0,628.1 627.0,627.5 628.0,627.1 629.0,627.4 630.0,627.8 631.0,628.2 632.0,628.0 633.0,628.0 634.0,628.8 635.0,628.8 636.0,628.6 637.0,628.9 638.0,628.7 639.0,628.4 640.0,628.5 641.0,628.3 642.0,628.3 643.0,629.1 644.0,630.2 645.0,630.2 646.0,629.8 647.0,629.9 648.0,629.7 649.0,629.6 650.0,629.9 651.0,630.4 652.0,630.9 653.0,629.8 654.0,629.1 655.0,629.6 656.0,629.4 657.0,628.1 658.0,627.7 659.0,629.3 660.0,630.5 661.0,630.5 662.0,630.9 663.0,630.8 664.0,630.2 665.0,629.8 666.0,629.1 667.0,629.2 668.0,630.1 669.0,629.5 670.0,628.7 671.0,629.1 672.0,629.0 673.0,628.8 674.0,629.2 675.0,628.6 676.0,627.6 677.0,628.5 678.0,629.5 679.0,628.8 680.0,629.0 681.0,629.9 682.0,629.4 683.0,628.3 684.0,628.4 685.0,629.4 686.0,629.5 687.0,628.4 688.0,628.2 689.0,629.7 690.0,630.3 691.0,629.4 692.0,628.7 693.0,629.0 694.0,629.4 695.0,629.1 696.0,628.2 697.0,628.3 698.0,628.3 699.0,627.9 700.0,628.5 701.0,628.7 702.0,628.6 703.0,628.3 704.0,627.6 705.0,628.2 706.0,629.1 707.0,629.5 708.0,629.2 709.0,627.4 710.0,626.9 711.0,628.4 712.0,630.0 713.0,630.9 714.0,629.7 715.0,628.5 716.0,628.6 717.0,627.5 718.0,628.1 719.0,630.5 720.0,630.4 721.0,629.7 722.0,630.3 723.0,630.8 724.0,630.4 725.0,629.5 726.0,627.7 727.0,627.7 728.0,630.2 729.0,631.2 730.0,630.2 731.0,629.5 732.0,629.0 733.0,629.2 734.0,630.6 735.0,630.8 736.0,630.2 737.0,630.4 738.0,630.8 739.0,630.8 740.0,629.9 741.0,629.0 742.0,630.6 743.0,631.8 744.0,630.2 745.0,629.9 746.0,631.2 747.0,631.7 748.0,630.3 749.0,629.1 750.0,629.3 751.0,628.9 752.0,629.2 753.0,630.4 754.0,630.9 755.0,632.8 756.0,634.6 757.0,633.5 758.0,631.5 759.0,630.1 760.0,629.4 761.0,629.5 762.0,629.6 763.0,629.7 764.0,630.1 765.0,630.5 766.0,629.8 767.0,629.1 768.0,629.8" fill="none" stroke="#141414" stroke-width="2.2" stroke-linejoin="round" stroke-linecap="round" />
<ellipse cx="124.0" cy="273.7" rx="8.4" ry="9.7" fill="none" stroke="#141414" stroke-width="1.3"/>
<line x1="115.6" y1="273.7" x2="132.4" y2="273.7" stroke="#141414" stroke-width="1.3"/>
<ellipse cx="177.7" cy="351.0" rx="8.4" ry="9.7" fill="none" stroke="#141414" stroke-width="1.3"/>
<line x1="169.3" y1="351.0" x2="186.1" y2="351.0" stroke="#141414" stroke-width="1.3"/>
<ellipse cx="231.4" cy="400.6" rx="8.4" ry="9.7" fill="none" stroke="#141414" stroke-width="1.3"/>
<line x1="223.0" y1="400.6" x2="239.8" y2="400.6" stroke="#141414" stroke-width="1.3"/>
<ellipse cx="285.2" cy="424.3" rx="8.4" ry="9.7" fill="none" stroke="#141414" stroke-width="1.3"/>
<line x1="276.8" y1="424.3" x2="293.6" y2="424.3" stroke="#141414" stroke-width="1.3"/>
<ellipse cx="338.9" cy="436.5" rx="8.4" ry="9.7" fill="none" stroke="#141414" stroke-width="1.3"/>
<line x1="330.5" y1="436.5" x2="347.3" y2="436.5" stroke="#141414" stroke-width="1.3"/>
<ellipse cx="392.6" cy="438.3" rx="8.4" ry="9.7" fill="none" stroke="#141414" stroke-width="1.3"/>
<line x1="384.2" y1="438.3" x2="401.0" y2="438.3" stroke="#141414" stroke-width="1.3"/>
<ellipse cx="446.3" cy="456.2" rx="8.4" ry="9.7" fill="none" stroke="#141414" stroke-width="1.3"/>
<line x1="437.9" y1="456.2" x2="454.7" y2="456.2" stroke="#141414" stroke-width="1.3"/>
<ellipse cx="500.1" cy="513.0" rx="8.4" ry="9.7" fill="none" stroke="#141414" stroke-width="1.3"/>
<line x1="491.7" y1="513.0" x2="508.5" y2="513.0" stroke="#141414" stroke-width="1.3"/>
<ellipse cx="553.8" cy="591.0" rx="8.4" ry="9.7" fill="none" stroke="#141414" stroke-width="1.3"/>
<line x1="545.4" y1="591.0" x2="562.2" y2="591.0" stroke="#141414" stroke-width="1.3"/>
<ellipse cx="607.5" cy="625.5" rx="8.4" ry="9.7" fill="none" stroke="#141414" stroke-width="1.3"/>
<line x1="599.1" y1="625.5" x2="615.9" y2="625.5" stroke="#141414" stroke-width="1.3"/>
<ellipse cx="661.2" cy="629.4" rx="8.4" ry="9.7" fill="none" stroke="#141414" stroke-width="1.3"/>
<line x1="652.8" y1="629.4" x2="669.6" y2="629.4" stroke="#141414" stroke-width="1.3"/>
<ellipse cx="715.0" cy="628.6" rx="8.4" ry="9.7" fill="none" stroke="#141414" stroke-width="1.3"/>
<line x1="706.6" y1="628.6" x2="723.4" y2="628.6" stroke="#141414" stroke-width="1.3"/>
<ellipse cx="768.7" cy="631.9" rx="8.4" ry="9.7" fill="none" stroke="#141414" stroke-width="1.3"/>
<line x1="760.3" y1="631.9" x2="777.1" y2="631.9" stroke="#141414" stroke-width="1.3"/>
<polyline points="124.0,145.1 125.0,147.4 126.0,149.7 127.0,152.0 128.0,154.1 129.0,156.2 130.0,158.5 131.0,161.0 132.0,163.2 133.0,165.1 134.0,167.2 135.0,169.4 136.0,171.5 137.0,173.8 138.0,176.2 139.0,178.3 140.0,180.5 141.0,182.7 142.0,184.7 143.0,186.9 144.0,189.0 145.0,191.1 146.0,193.3 147.0,195.4 148.0,197.7 149.0,199.8 150.0,201.9 151.0,203.8 152.0,205.8 153.0,207.7 154.0,209.8 155.0,212.0 156.0,214.1 157.0,216.1 158.0,218.2 159.0,220.2 160.0,222.2 161.0,224.3 162.0,226.2 163.0,228.1 164.0,230.3 165.0,232.3 166.0,234.0 167.0,235.8 168.0,237.6 169.0,239.7 170.0,241.8 171.0,243.7 172.0,245.5 173.0,247.6 174.0,249.7 175.0,251.4 176.0,253.3 177.0,255.3 178.0,257.2 179.0,258.9 180.0,260.6 181.0,262.3 182.0,264.2 183.0,266.2 184.0,268.2 185.0,270.1 186.0,272.1 187.0,273.9 188.0,275.7 189.0,277.3 190.0,279.0 191.0,281.0 192.0,282.9 193.0,284.8 194.0,286.6 195.0,288.4 196.0,290.2 197.0,292.2 198.0,294.1 199.0,295.9 200.0,297.7 201.0,299.4 202.0,301.1 203.0,303.1 204.0,305.0 205.0,306.7 206.0,308.5 207.0,310.4 208.0,311.9 209.0,313.5 210.0,315.3 211.0,316.9 212.0,318.4 213.0,320.1 214.0,321.8 215.0,323.4 216.0,325.0 217.0,326.6 218.0,328.0 219.0,329.5 220.0,331.2 221.0,332.8 222.0,334.2 223.0,335.6 224.0,337.1 225.0,338.7 226.0,340.0 227.0,341.2 228.0,342.5 229.0,343.7 230.0,344.9 231.0,346.3 232.0,347.8 233.0,348.9 234.0,350.2 235.0,351.7 236.0,353.1 237.0,354.3 238.0,355.5 239.0,356.9 240.0,358.3 241.0,359.5 242.0,360.8 243.0,362.4 244.0,363.8 245.0,364.8 246.0,365.9 247.0,367.3 248.0,368.8 249.0,370.4 250.0,371.8 251.0,373.0 252.0,374.3 253.0,375.6 254.0,376.8 255.0,378.1 256.0,379.5 257.0,381.0 258.0,382.1 259.0,382.9 260.0,384.0 261.0,385.1 262.0,386.1 263.0,387.2 264.0,388.4 265.0,389.6 266.0,390.5 267.0,391.2 268.0,392.1 269.0,393.0 270.0,393.9 271.0,394.9 272.0,395.7 273.0,396.3 274.0,397.0 275.0,397.6 276.0,398.0 277.0,398.2 278.0,398.8 279.0,399.5 280.0,400.0 281.0,400.2 282.0,400.4 283.0,400.4 284.0,400.4 285.0,400.6 286.0,400.7 287.0,400.7 288.0,400.6 289.0,400.5 290.0,400.6 291.0,400.5 292.0,400.5 293.0,400.6 294.0,400.6 295.0,400.5 296.0,400.6 297.0,400.5 298.0,400.3 299.0,400.1 300.0,399.9 301.0,399.7 302.0,399.7 303.0,399.7 304.0,399.7 305.0,399.6 306.0,399.5 307.0,399.3 308.0,399.3 309.0,399.4 310.0,399.4 311.0,399.4 312.0,399.2 313.0,398.9 314.0,398.8 315.0,398.7 316.0,398.5 317.0,398.3 318.0,398.2 319.0,398.1 320.0,398.0 321.0,397.8 322.0,397.6 323.0,397.4 324.0,397.3 325.0,397.0 326.0,396.9 327.0,396.8 328.0,396.4 329.0,396.3 330.0,396.3 331.0,396.2 332.0,396.0 333.0,395.7 334.0,395.7 335.0,395.8 336.0,395.5 337.0,395.1 338.0,394.8 339.0,394.6 340.0,394.4 341.0,394.0 342.0,393.7 343.0,393.3 344.0,392.6 345.0,391.9 346.0,391.3 347.0,390.5 348.0,389.9 349.0,389.0 350.0,387.9 351.0,387.0 352.0,386.0 353.0,384.9 354.0,383.9 355.0,382.8 356.0,381.7 357.0,380.6 358.0,379.4 359.0,378.2 360.0,376.9 361.0,375.6 362.0,374.2 363.0,372.9 364.0,371.8 365.0,370.8 366.0,369.6 367.0,368.3 368.0,366.8 369.0,365.4 370.0,364.2 371.0,363.0 372.0,362.0 373.0,360.7 374.0,359.3 375.0,358.2 376.0,357.3 377.0,356.2 378.0,355.2 379.0,354.2 380.0,353.2 381.0,352.3 382.0,351.3 383.0,350.5 384.0,350.0 385.0,349.3 386.0,348.7 387.0,348.3 388.0,348.0 389.0,347.6 390.0,347.2 391.0,346.9 392.0,346.8 393.0,346.8 394.0,347.0 395.0,347.1 396.0,347.2 397.0,347.4 398.0,347.4 399.0,347.4 400.0,347.4 401.0,347.6 402.0,347.8 403.0,347.9 404.0,347.9 405.0,348.2 406.0,348.4 407.0,348.6 408.0,348.7 409.0,348.7 410.0,349.0 411.0,349.5 412.0,349.6 413.0,349.7 414.0,350.0 415.0,350.2 416.0,350.3 417.0,350.5 418.0,351.0 419.0,351.5 420.0,351.9 421.0,352.3 422.0,352.7 423.0,352.9 424.0,353.1 425.0,353.5 426.0,353.9 427.0,354.3 428.0,354.8 429.0,355.2 430.0,355.6 431.0,355.9 432.0,356.6 433.0,357.2 434.0,357.4 435.0,357.7 436.0,358.4 437.0,359.0 438.0,359.4 439.0,359.8 440.0,360.3 441.0,360.7 442.0,361.1 443.0,361.6 444.0,362.3 445.0,362.9 446.0,363.4 447.0,364.0 448.0,364.6 449.0,365.3 450.0,366.0 451.0,366.6 452.0,367.5 453.0,368.6 454.0,369.6 455.0,370.7 456.0,372.0 457.0,373.2 458.0,374.6 459.0,376.0 460.0,377.2 461.0,379.0 462.0,380.7 463.0,382.1 464.0,383.6 465.0,385.4 466.0,387.1 467.0,388.7 468.0,390.4 469.0,392.3 470.0,394.2 471.0,396.1 472.0,398.0 473.0,399.9 474.0,401.8 475.0,403.7 476.0,405.7 477.0,407.8 478.0,409.8 479.0,411.9 480.0,414.2 481.0,416.2 482.0,418.1 483.0,420.4 484.0,422.5 485.0,424.6 486.0,426.7 487.0,428.8 488.0,430.9 489.0,432.9 490.0,435.1 491.0,437.2 492.0,439.0 493.0,441.1 494.0,443.2 495.0,445.0 496.0,447.1 497.0,449.3 498.0,451.3 499.0,453.3 500.0,455.1 501.0,456.8 502.0,458.8 503.0,460.8 504.0,462.8 505.0,464.7 506.0,466.7 507.0,468.8 508.0,471.0 509.0,473.0 510.0,474.9 511.0,477.1 512.0,479.3 513.0,481.5 514.0,483.6 515.0,485.8 516.0,488.1 517.0,490.6 518.0,492.9 519.0,495.2 520.0,497.5 521.0,499.8 522.0,502.2 523.0,504.4 524.0,506.4 525.0,508.4 526.0,510.4 527.0,512.9 528.0,515.4 529.0,517.7 530.0,519.8 531.0,522.1 532.0,524.3 533.0,526.2 534.0,528.2 535.0,530.4 536.0,532.7 537.0,534.9 538.0,536.8 539.0,538.8 540.0,541.0 541.0,543.0 542.0,545.0 543.0,546.9 544.0,548.7 545.0,550.4 546.0,551.9 547.0,553.7 548.0,555.7 549.0,557.4 550.0,558.9 551.0,560.4 552.0,561.9 553.0,563.4 554.0,564.7 555.0,566.2 556.0,567.8 557.0,569.1 558.0,570.3 559.0,571.6 560.0,573.1 561.0,574.7 562.0,576.2 563.0,577.5 564.0,578.9 565.0,580.2 566.0,581.6 567.0,583.2 568.0,584.8 569.0,586.1 570.0,587.3 571.0,588.6 572.0,590.0 573.0,591.2 574.0,592.3 575.0,593.7 576.0,595.1 577.0,596.5 578.0,597.8 579.0,599.1 580.0,600.4 581.0,601.6 582.0,602.5 583.0,603.7 584.0,605.0 585.0,606.3 586.0,607.2 587.0,608.1 588.0,608.7 589.0,609.2 590.0,610.4 591.0,612.0 592.0,613.2 593.0,614.2 594.0,614.8 595.0,615.6 596.0,616.6 597.0,617.0 598.0,617.1 599.0,617.6 600.0,618.1 601.0,618.5 602.0,619.5 603.0,620.1 604.0,620.5 605.0,621.1 606.0,620.9 607.0,620.7 608.0,620.8 609.0,621.0 610.0,621.4 611.0,622.0 612.0,622.6 613.0,622.6 614.0,622.4 615.0,621.9 616.0,621.6 617.0,621.9 618.0,622.4 619.0,623.0 620.0,623.5 621.0,624.0 622.0,624.1 623.0,623.9 624.0,623.8 625.0,623.9 626.0,624.3 627.0,624.2 628.0,623.9 629.0,624.7 630.0,625.6 631.0,624.8 632.0,624.0 633.0,623.6 634.0,623.9 635.0,624.9 636.0,625.1 637.0,625.5 638.0,626.6 639.0,626.6 640.0,625.5 641.0,625.6 642.0,625.9 643.0,625.8 644.0,625.7 645.0,625.9 646.0,626.5 647.0,626.4 648.0,626.3 649.0,626.7 650.0,626.7 651.0,626.3 652.0,626.6 653.0,627.1 654.0,626.6 655.0,625.7 656.0,625.2 657.0,625.1 658.0,625.2 659.0,625.8 660.0,625.5 661.0,624.8 662.0,625.6 663.0,626.5 664.0,626.1 665.0,625.9 666.0,626.4 667.0,625.6 668.0,624.7 669.0,625.0 670.0,626.1 671.0,627.2 672.0,627.4 673.0,626.3 674.0,625.2 675.0,625.0 676.0,625.3 677.0,625.1 678.0,624.9 679.0,625.9 680.0,626.7 681.0,626.5 682.0,626.2 683.0,625.2 684.0,624.6 685.0,625.7 686.0,627.3 687.0,627.3 688.0,626.8 689.0,626.9 690.0,627.1 691.0,627.6 692.0,627.1 693.0,626.5 694.0,626.5 695.0,625.7 696.0,624.7 697.0,624.9 698.0,626.0 699.0,626.4 700.0,626.1 701.0,626.6 702.0,627.2 703.0,626.3 704.0,626.2 705.0,629.0 706.0,630.0 707.0,626.7 708.0,623.4 709.0,624.6 710.0,627.0 711.0,628.2 712.0,627.9 713.0,626.1 714.0,626.0 715.0,627.1 716.0,628.1 717.0,628.3 718.0,627.6 719.0,625.2 720.0,622.8 721.0,623.0 722.0,623.8 723.0,625.4 724.0,628.9 725.0,630.1 726.0,627.3 727.0,625.0 728.0,625.0 729.0,626.6 730.0,628.8 731.0,628.8 732.0,627.4 733.0,624.7 734.0,622.2 735.0,622.7 736.0,624.4 737.0,626.5 738.0,626.5 739.0,625.1 740.0,626.7 741.0,628.3 742.0,625.6 743.0,624.1 744.0,625.0 745.0,625.0 746.0,625.9 747.0,628.9 748.0,628.7 749.0,625.2 750.0,625.3 751.0,626.8 752.0,626.6 753.0,626.2 754.0,627.0 755.0,627.9 756.0,626.8 757.0,626.3 758.0,626.9 759.0,626.9 760.0,627.6 761.0,628.5 762.0,627.9 763.0,627.2 764.0,626.5 765.0,625.5 766.0,625.1 767.0,625.6 768.0,626.7" fill="none" stroke="#141414" stroke-width="2.2" stroke-linejoin="round" stroke-linecap="round" />
<polygon points="113.2,137.8 134.8,137.8 124.0,159.3" fill="#141414"/>
<polygon points="167.0,249.3 188.5,249.3 177.7,270.8" fill="#141414"/>
<polygon points="220.7,339.8 242.2,339.8 231.4,361.3" fill="#141414"/>
<polygon points="274.4,393.4 295.9,393.4 285.2,414.9" fill="#141414"/>
<polygon points="328.1,387.5 349.6,387.5 338.9,409.0" fill="#141414"/>
<polygon points="381.9,339.8 403.4,339.8 392.6,361.3" fill="#141414"/>
<polygon points="435.6,356.3 457.1,356.3 446.3,377.8" fill="#141414"/>
<polygon points="489.3,447.8 510.8,447.8 500.1,469.3" fill="#141414"/>
<polygon points="543.0,557.3 564.5,557.3 553.8,578.8" fill="#141414"/>
<polyline points="265.5,-15.4 265.4,-18.7 266.2,-12.1 267.4,-2.7 267.1,-10.3 267.2,-2.6 268.7,7.5 270.7,0.5 271.2,7.2 273.2,9.5 273.3,3.8 272.6,15.7 272.6,15.5 274.0,7.0 274.6,17.5 275.7,15.2 275.8,13.5 273.5,23.0 272.0,36.9 272.6,34.4 275.9,26.5 277.7,35.3 279.0,37.5 278.3,31.8 278.3,34.8 278.3,41.5 279.3,42.6 280.1,47.4 281.7,49.8 282.0,48.1 282.4,46.6 283.2,42.4 284.2,41.7 284.0,47.1 283.8,47.7 283.2,48.9 282.9,49.1 283.7,53.8 284.8,62.0 284.9,58.4 286.5,54.8 287.5,56.3 288.6,59.5 289.0,62.5 289.8,60.9 289.6,61.0 289.1,62.9 288.7,62.8 290.2,65.1 292.1,66.7 291.4,68.2 289.4,72.4 289.3,75.3 290.8,75.9 293.0,76.3 295.5,74.7 295.5,75.2 294.1,78.7 294.3,79.0 295.8,80.1 296.6,82.5 297.5,78.8 298.6,78.2 298.0,80.8 295.8,85.0 296.1,85.1 297.0,81.2 298.5,82.1 300.0,87.7 302.7,87.9 302.7,86.0 302.2,88.8 300.7,87.2 300.9,88.6 301.6,94.0 304.2,93.7 304.6,95.1 304.6,95.8 304.7,95.1 307.0,94.6 307.3,96.2 306.5,102.0 306.2,103.3 307.5,100.4 308.1,99.3 307.8,98.9 308.2,103.4 308.3,103.8 309.0,100.1 310.2,102.1 311.8,102.8 313.4,106.3 314.4,103.3 313.8,102.1 312.7,109.1 313.3,107.3 314.3,105.4 315.7,108.2 316.4,112.6 316.5,111.4 315.5,108.0 316.2,111.8 316.8,117.5 316.4,116.8 316.5,112.1 317.6,115.8 319.6,119.5 321.3,119.8 322.0,121.3 321.1,120.9 320.7,122.0 321.7,125.8 322.5,129.6 322.7,125.6 321.9,123.9 322.2,130.6 324.2,131.2 325.1,127.1 324.8,128.8 324.6,131.8 325.5,131.8 325.5,132.3 326.0,132.6 326.7,132.8 328.4,132.4 329.3,131.6 330.0,130.9 330.0,132.9 330.2,135.8 330.6,136.9 330.7,136.0 331.3,136.6 332.2,137.4 333.1,138.4 333.6,139.2 334.0,141.0 334.0,143.0 334.1,142.1 334.2,141.2 334.5,143.4 335.1,145.4 336.8,144.7 338.2,143.1 339.2,142.0 339.2,145.1 339.2,149.0 339.1,150.5 340.2,148.8 341.4,149.2 342.7,150.2 341.9,151.1 341.7,153.2 342.1,152.8 343.4,151.9 343.5,151.6 343.6,152.2 343.9,153.3 345.3,154.6 345.6,157.2 345.5,158.7 345.3,160.1 345.8,159.3 346.4,159.8 347.3,160.2 348.0,160.9 348.2,162.5 348.7,161.4 349.5,161.5 350.3,162.8 350.5,163.3 350.6,165.0 351.0,167.7 351.2,167.2 352.2,165.4 353.2,163.7 353.6,164.6 353.5,167.4 354.7,165.5 355.4,166.5 355.3,170.2 355.8,169.8 356.7,169.2 357.3,169.3 358.1,170.7 358.9,170.5 359.1,170.4 359.6,174.1 360.2,174.9 360.7,174.1 361.0,174.6 361.3,173.9 361.3,174.9 361.9,176.9 362.9,176.1 364.0,176.0 364.4,178.6 364.1,180.6 363.8,179.2 364.5,177.8 365.3,178.0 366.2,180.0 366.5,182.7 367.1,182.7 367.2,182.2 367.7,181.1 368.2,182.5 368.9,183.9 369.7,183.2 370.3,183.6 370.6,185.7 369.7,187.6 369.8,187.1 370.8,185.0 372.6,184.9 373.1,187.3 373.8,187.6 374.5,187.4 375.1,187.4 375.4,189.1 375.5,190.6 375.6,191.0 376.0,190.8 377.1,190.0 378.1,190.8 378.9,190.7 379.1,190.1 379.1,191.8 379.2,194.8 379.7,195.5 380.5,195.9 381.1,195.9 381.8,194.5 382.4,193.8 382.5,194.3 382.4,197.9 383.0,198.8 384.0,197.9 384.5,198.5 384.5,199.0 385.2,198.3 386.1,197.7 386.7,198.3 386.9,199.7 387.4,199.7 387.9,199.5 388.5,198.5 388.7,199.1 389.1,199.4 389.7,200.4 390.5,198.9 391.0,198.3 391.3,202.4 391.9,202.3 392.6,199.4 393.3,199.5 393.9,201.6 394.6,201.5 395.2,201.3 395.7,201.9 396.1,201.7 396.3,204.8 396.4,206.0 396.8,203.8 397.7,203.4 398.2,204.5 398.9,205.4 399.8,205.7 400.3,206.0 400.1,205.6 400.0,207.0 400.7,208.2 401.7,207.6 402.5,206.9 402.8,207.4 403.1,208.6 403.8,209.4 404.7,209.0 405.3,209.4 405.5,211.4 405.4,211.6 406.0,211.5 407.0,211.6 407.6,213.0 407.8,212.7 408.2,212.3 408.8,213.3 409.6,213.2 410.3,215.1 410.6,215.6 410.5,216.3 410.9,216.6 411.8,217.7 412.3,219.3 412.5,219.4 413.1,218.2 413.6,216.9 414.0,219.1 414.2,220.4 414.7,220.0 415.3,220.4 416.0,219.7 416.6,220.1 417.2,221.1 417.9,220.9 418.3,221.1 418.7,221.5 419.1,222.0 419.5,222.7 419.8,224.4 420.4,224.6 420.9,224.6 421.2,225.0 421.8,223.1 422.5,223.3 423.2,224.9 423.3,225.2 423.5,226.0 424.2,225.1 425.1,224.7 425.8,226.1 426.2,227.8 426.6,227.5 426.6,227.1 427.3,228.6 427.9,228.8 428.5,229.4 428.9,230.6 429.6,228.9 430.2,229.8 430.7,231.9 430.9,231.1 431.5,231.4 432.0,232.6 432.5,233.0 432.6,233.8 433.1,232.6 433.4,233.8 434.0,235.7 434.5,237.2 435.1,238.1 436.0,237.5 436.6,236.9 436.9,237.0 436.9,237.9 437.7,238.1 438.7,238.3 439.2,237.9 439.5,239.0 440.2,240.8 440.4,243.0 440.3,244.5 441.0,243.3 441.7,243.6 442.1,244.0 442.3,244.2 443.1,244.3 443.8,245.9 444.5,247.5 445.3,246.6 445.7,247.0 445.9,248.9 446.1,250.1 446.6,250.4 447.7,249.8 448.7,249.6 449.0,250.9 448.9,252.7 449.4,252.9 450.1,252.4 450.5,254.1 450.9,254.9 451.3,255.6 452.0,256.7 452.7,257.2 453.1,258.6 453.8,259.1 454.5,259.1 455.1,259.0 455.1,259.3 455.4,260.8 455.9,262.6 456.5,263.6 456.8,264.8 457.1,265.1 457.7,264.6 458.8,265.3 459.4,265.7 459.8,266.0 459.9,266.5 460.3,267.7 461.0,268.2 461.6,268.6 462.2,269.0 462.9,269.9 463.4,270.7 463.8,271.3 464.2,271.8 464.7,271.9 465.3,273.7 465.5,274.4 465.6,274.9 465.9,275.8 466.6,275.2 467.2,276.1 467.7,278.0 468.0,278.1 468.2,279.0 468.8,279.7 469.6,279.3" fill="none" stroke="#141414" stroke-width="2.7" stroke-linejoin="round" stroke-linecap="round" />
<polyline points="469.6,279.3 470.5,280.0 471.5,280.3 472.5,281.5 472.9,281.8 472.6,282.4 472.9,284.2 473.4,283.8 473.6,283.5 474.1,285.2 474.7,286.3 475.0,287.0 475.3,288.4 476.3,288.4 476.9,288.1 477.3,287.9 477.9,289.1 478.6,290.3 479.1,291.1 479.4,292.4 479.7,292.6 479.9,294.2 480.5,295.9 481.3,296.1 482.1,295.8 482.5,296.2 482.9,297.4 482.9,298.5 483.4,299.1 484.2,300.2 485.0,301.4 485.2,302.4 485.6,303.0 486.4,304.1 487.0,305.2 487.3,304.8 487.6,305.5 488.2,307.3 488.9,308.7 489.3,309.6 489.6,310.3 490.7,310.7 491.8,311.7 492.4,312.7 492.4,313.5 492.7,314.4 492.8,316.0 493.1,317.1 493.7,317.3 494.4,318.5 494.7,319.9 495.2,320.8 495.8,322.0 496.3,323.3 496.5,324.6 497.5,324.7 498.4,325.0 498.8,325.8 499.1,327.5 499.4,329.0 499.7,330.0 500.2,330.6 500.8,330.4 501.3,332.0 501.7,333.6 502.3,334.0 502.9,334.9 503.4,335.9 504.1,336.9 504.7,337.1 505.2,338.2 505.9,339.4 506.2,339.9 506.4,341.7 506.8,343.1 507.6,343.3 508.0,343.5 508.5,344.6 509.0,346.2 509.6,347.0 510.0,347.5 510.5,348.2 510.8,349.3 511.7,350.3 512.5,351.7 512.9,352.9 513.0,353.6 513.5,354.4 514.1,355.6 514.7,356.3 515.2,357.1 516.0,358.5 516.6,359.5 517.1,360.1 517.1,361.1 517.3,362.0 517.8,362.6 518.3,363.6 518.9,365.2 519.7,366.5 521.0,367.1 521.2,367.8 521.0,368.8 521.4,369.5 522.3,370.2 523.0,371.3 523.2,372.3 523.4,373.4 523.5,374.5 524.1,374.7 525.1,375.4 526.0,376.2 526.3,377.1 526.5,378.9 526.9,380.2 527.2,381.0 527.6,382.3 528.3,383.4 528.9,383.8 529.6,384.7 530.1,385.8 530.4,386.6 530.7,387.6 531.1,388.3 531.7,388.8 532.3,390.1 532.8,391.3 533.3,392.2 533.9,392.9 534.3,394.2 535.0,395.4 535.6,396.3 536.1,397.2 536.5,397.9 537.2,398.3 537.8,399.4 538.1,400.4 538.5,401.2 539.0,402.6 539.3,403.7 539.5,404.2 540.4,405.0 541.3,406.5 541.6,407.4 541.8,408.3 542.2,409.2 542.7,409.7 543.1,410.6 543.8,411.5 544.6,412.9 545.2,413.5 545.6,414.4 545.9,415.4 546.3,416.0 546.9,417.3 547.5,418.4 548.0,419.1 548.7,419.4 549.4,420.2 550.1,421.1 550.3,422.7 550.7,423.8 551.1,424.2 551.7,424.8 552.1,425.6 552.4,426.5 553.1,427.7 553.8,428.7 554.4,429.4 554.5,430.4 554.9,431.1 555.4,432.5 556.1,433.1 556.6,433.2 557.0,434.5 557.3,435.6 557.6,436.4 558.1,437.8 558.6,438.6 559.3,439.3 559.8,440.2 560.2,441.3 560.4,442.8 561.3,443.0 561.9,443.4 562.4,444.2 562.9,445.2 563.2,446.6 563.5,447.2 564.1,447.9 564.9,448.6 565.3,449.1 565.6,450.0 566.0,451.6 566.5,452.8 566.9,453.3 567.7,453.8 568.6,454.6 569.4,454.9 569.8,455.6 569.9,457.6 570.1,458.6 570.8,458.7 571.7,459.6 572.1,460.3 572.4,461.0 573.0,462.2 573.5,463.0 574.2,463.6 574.7,464.3 575.0,465.2 575.2,466.3 576.0,467.2 576.7,467.9 577.4,468.2 577.7,468.4 578.0,469.5 578.4,471.1 578.7,471.6 578.9,471.9 579.6,472.5 580.5,473.7 581.0,474.5 581.3,475.1 581.6,476.2 582.0,477.4 582.5,478.1 583.4,478.3 584.1,478.8 584.6,479.9 585.3,480.9 585.9,481.2 586.1,481.5 586.4,482.2 587.0,483.4 587.7,484.0 588.3,484.7 588.6,485.8 589.2,486.3 589.8,487.0 590.4,487.7 590.7,488.2 591.1,488.8 591.4,490.4 591.8,491.0 592.5,490.9 593.2,491.9 593.6,492.8 594.0,493.1 594.4,493.6 594.7,494.7 595.1,496.0 595.5,497.0 596.1,497.4 596.8,497.8 597.6,498.1 598.0,498.6 598.6,499.3 599.0,500.0 599.4,501.1 599.7,502.1 600.5,502.2 601.1,502.8 601.6,503.7 602.0,503.9 602.5,504.6 603.3,504.9 603.7,505.7 604.2,506.8 604.8,507.3 605.7,507.7 606.1,508.4 606.2,509.2 606.6,509.6 607.1,510.4 607.7,511.0 607.8,511.8 608.1,512.8 608.3,513.8 609.2,513.8 609.8,514.0 610.6,514.7 611.0,515.9 611.4,516.7 612.0,517.4 612.8,518.0 613.6,518.3 614.0,518.7 614.5,519.0 614.9,519.5 615.4,520.2 615.9,521.2 616.1,522.2 616.5,522.8 617.2,523.2 617.8,523.9 618.1,524.7 618.6,525.2 619.0,525.9 619.3,526.5 619.7,527.0 620.3,527.7 620.7,528.7 621.0,529.4 621.5,529.8 622.4,530.6 622.9,531.1 623.4,531.1 623.9,531.9 624.5,532.2 625.0,532.8 625.6,533.9 626.3,534.5 626.9,534.8 627.5,535.1 627.6,535.9 627.7,537.0 627.8,537.8 628.6,537.8 629.2,538.4 629.6,539.2 630.0,539.9 630.6,540.4 631.3,540.2 632.0,540.7 632.6,542.1 633.2,542.6 633.9,542.3 634.3,542.5 634.4,543.5 634.9,543.9 635.4,544.6 635.7,545.4 636.1,546.1 636.9,546.7 637.6,546.3 638.0,546.8 638.4,547.6 639.1,547.6 639.7,548.0 640.3,548.6 640.8,549.5 641.1,549.9 641.3,550.7 641.7,552.0 642.3,552.4 642.8,552.6 643.3,552.9 644.0,552.8 644.6,553.2 645.1,554.0 645.4,554.8 645.6,556.0 646.1,556.6 646.8,556.3 647.6,556.6 648.2,556.6 648.5,556.8 648.8,557.6 649.3,558.2 650.1,558.6 650.5,559.1 650.9,559.9 651.4,560.8 652.0,561.0 652.3,561.2 652.8,561.6 653.2,562.4 653.6,562.6 654.1,562.9 654.8,563.6 655.4,563.8 656.0,564.3 656.7,564.8 657.2,564.6 657.6,565.0 658.0,565.5 658.4,566.1 658.8,566.6 659.6,566.8 660.3,567.2 660.9,567.5 661.2,568.1 661.7,567.9 662.1,568.9 662.4,569.8 663.0,570.1 663.6,570.5 664.1,570.7 664.7,571.3 665.2,571.6 665.6,572.1 666.0,572.2 666.6,572.3 666.8,573.3 667.2,573.7 667.9,573.8 668.9,573.8 669.3,574.5 669.7,574.7 670.1,574.8 670.6,575.3 671.1,576.0 671.6,576.5 672.1,576.6 672.8,576.8 673.3,577.3 673.5,578.2 673.9,578.6 674.4,578.7 675.0,578.7 675.5,579.1 675.8,580.3 676.3,580.5 676.9,580.8 677.4,580.7 678.0,580.4 678.5,580.8 679.0,581.5 679.5,582.2 680.0,582.6 680.4,583.1 680.7,583.8 681.3,584.0 681.9,583.8 682.3,584.1 682.8,585.2 683.4,585.1 684.0,584.8 684.4,586.2 684.9,586.6 685.4,586.4 685.9,586.7 686.3,587.5 686.8,588.1 687.4,587.9 688.0,588.0 688.5,588.5 689.1,588.9 689.6,589.3 690.1,589.4 690.4,589.5 690.6,590.3 691.1,591.4 691.8,591.4 692.4,591.3 693.0,591.9 693.5,591.9 693.9,592.0 694.4,592.5 694.9,592.6 695.5,593.0 695.9,593.7 696.6,593.6 697.1,593.5 697.6,593.7 697.9,594.4 698.3,595.1 698.9,595.3 699.6,595.2 700.2,595.2 700.7,596.0 701.2,596.2 701.7,596.5 702.1,597.1 702.6,597.2 703.2,596.9 703.6,597.6 704.1,598.4 704.6,598.5 705.1,598.5 705.3,598.7 705.9,598.8 706.7,598.8 707.2,599.6 707.6,600.3 708.1,600.4 708.6,600.5 709.0,601.2 709.6,601.1 710.3,600.9 710.9,601.0 711.2,601.2 711.5,601.7 712.1,602.6 712.6,602.6 713.0,602.8 713.4,603.2 714.0,603.1 714.5,603.7 714.9,604.1 715.4,604.0 715.9,603.6 716.5,603.7 717.0,604.0 717.6,603.8 718.1,604.5 718.5,605.3 719.0,604.9 719.5,605.2 719.9,606.0 720.4,606.0 721.0,605.9 721.5,605.8 722.1,605.5 722.5,605.7 723.1,605.7 723.5,606.5 723.9,607.0 724.4,606.7 725.0,606.6 725.6,606.8 726.1,607.2 726.5,607.8 727.0,607.8 727.6,607.2 728.2,607.1 728.6,607.8 729.0,608.1 729.5,608.4 729.9,609.4 730.4,609.3 731.0,608.8 731.6,608.8 732.1,608.8 732.5,608.8 733.0,609.1 733.4,609.5 734.0,609.9 734.4,610.1 734.9,610.1 735.5,610.3 736.1,610.2 736.6,609.6 737.1,609.4 737.6,610.0 738.0,610.6 738.4,611.2 738.9,611.1 739.5,610.9 740.0,610.4 740.5,610.7 741.0,611.2 741.5,611.5 742.0,611.4 742.5,611.4 743.0,611.4 743.5,611.3 744.0,611.8 744.5,612.2 745.0,612.1 745.5,612.3 745.9,612.6 746.3,612.9 746.9,612.6 747.5,612.5 748.0,612.7 748.5,613.0 749.0,612.8 749.6,612.8 750.0,613.3 750.5,613.7 750.9,614.2 751.5,613.9 752.0,613.6 752.5,613.7 753.0,613.8 753.5,613.9 754.0,614.4 754.5,614.6 755.0,614.3 755.5,614.0 756.0,614.3 756.5,614.7 757.0,614.8 757.6,614.6 758.1,614.3 758.6,614.7 759.0,615.0 759.5,614.8 760.1,615.1 760.6,615.4 761.0,615.7 761.5,615.8 762.0,615.4 762.5,615.5 763.0,615.8 763.5,615.8 764.1,615.6 764.5,615.8 765.0,616.1 765.5,616.4 766.0,616.8 766.5,617.0 767.0,616.4 767.6,615.9 768.1,615.9 768.6,616.2 769.0,616.9 769.6,617.1 770.0,617.0 770.5,617.3 771.0,617.6 771.5,617.1 772.1,616.9 772.5,617.2 773.0,618.0 773.5,618.1 774.0,618.3 774.5,618.8 775.0,618.8 775.5,618.4 776.1,618.1 776.6,618.2 777.0,618.7 777.5,619.0 778.0,619.0 778.5,619.5 779.1,619.3 779.5,619.3 780.0,619.4 780.5,619.6 781.0,619.6 781.5,619.9 781.9,620.4 782.5,620.1 783.0,620.4 783.5,620.7 783.9,620.5 784.4,620.9 784.9,620.7 785.5,620.4 786.0,620.7 786.4,620.8 787.0,621.1 787.6,621.0 788.1,621.1 788.6,621.6 789.0,622.0 789.5,621.9 790.1,621.6 790.5,622.1 790.9,622.5 791.5,622.1 792.0,622.4 792.5,622.7 793.0,622.7 793.5,622.7 794.0,623.1 794.4,623.2 794.9,623.2 795.5,622.8 796.1,622.7 796.6,623.0 797.0,623.6 797.5,623.9 797.9,623.9 798.4,624.1 799.0,623.9 799.5,623.7 800.0,624.2 800.5,624.4 801.0,624.0 801.5,624.1 802.0,624.8 802.5,624.9 803.0,624.9 803.5,624.8 804.0,625.0 804.5,625.3 805.0,625.4 805.5,625.7 806.0,625.7 806.5,625.9 806.9,626.2 807.4,626.2 807.9,625.8 808.5,626.1 809.0,626.2 809.6,625.9 810.0,626.0 810.5,626.6 811.0,627.1 811.5,627.4 812.0,627.3 812.5,626.9 813.0,627.0 813.5,627.6 814.0,627.8 814.5,627.7 815.1,627.5 815.5,627.9 815.9,628.8 816.4,628.7 816.9,628.2 817.5,628.4 818.0,628.5 818.5,628.7 819.0,629.2 819.5,628.9 820.0,628.8 820.5,629.2 821.0,629.2 821.5,629.3 822.0,629.7" fill="none" stroke="#141414" stroke-width="2.2" stroke-linejoin="round" stroke-linecap="round" />
<clipPath id="sc1"><rect x="270.2" y="52.6" width="30" height="20"/></clipPath>
<polygon points="285.2,42.1 287.4,49.5 294.1,49.7 288.7,54.4 290.7,62.0 285.2,57.5 279.6,62.0 281.6,54.4 276.2,49.7 283.0,49.5" fill="#fff" stroke="#141414" stroke-width="1.3" stroke-linejoin="miter"/>
<polygon points="285.2,42.1 287.4,49.5 294.1,49.7 288.7,54.4 290.7,62.0 285.2,57.5 279.6,62.0 281.6,54.4 276.2,49.7 283.0,49.5" fill="#141414" stroke="#141414" stroke-width="1.3" clip-path="url(#sc1)"/>
<clipPath id="sc2"><rect x="323.9" y="148.3" width="30" height="20"/></clipPath>
<polygon points="338.9,137.8 341.1,145.2 347.8,145.4 342.5,150.2 344.4,157.7 338.9,153.2 333.4,157.7 335.3,150.2 330.0,145.4 336.7,145.2" fill="#fff" stroke="#141414" stroke-width="1.3" stroke-linejoin="miter"/>
<polygon points="338.9,137.8 341.1,145.2 347.8,145.4 342.5,150.2 344.4,157.7 338.9,153.2 333.4,157.7 335.3,150.2 330.0,145.4 336.7,145.2" fill="#141414" stroke="#141414" stroke-width="1.3" clip-path="url(#sc2)"/>
<clipPath id="sc3"><rect x="377.6" y="200.3" width="30" height="20"/></clipPath>
<polygon points="392.6,189.8 394.8,197.3 401.6,197.4 396.2,202.2 398.1,209.7 392.6,205.2 387.1,209.7 389.0,202.2 383.7,197.4 390.4,197.3" fill="#fff" stroke="#141414" stroke-width="1.3" stroke-linejoin="miter"/>
<polygon points="392.6,189.8 394.8,197.3 401.6,197.4 396.2,202.2 398.1,209.7 392.6,205.2 387.1,209.7 389.0,202.2 383.7,197.4 390.4,197.3" fill="#141414" stroke="#141414" stroke-width="1.3" clip-path="url(#sc3)"/>
<clipPath id="sc4"><rect x="431.3" y="248.3" width="30" height="20"/></clipPath>
<polygon points="446.3,237.8 448.5,245.3 455.3,245.4 449.9,250.2 451.9,257.7 446.3,253.2 440.8,257.7 442.8,250.2 437.4,245.4 444.1,245.3" fill="#fff" stroke="#141414" stroke-width="1.3" stroke-linejoin="miter"/>
<polygon points="446.3,237.8 448.5,245.3 455.3,245.4 449.9,250.2 451.9,257.7 446.3,253.2 440.8,257.7 442.8,250.2 437.4,245.4 444.1,245.3" fill="#141414" stroke="#141414" stroke-width="1.3" clip-path="url(#sc4)"/>
<clipPath id="sc5"><rect x="485.1" y="328.8" width="30" height="20"/></clipPath>
<polygon points="500.1,318.3 502.3,325.8 509.0,325.9 503.6,330.7 505.6,338.2 500.1,333.7 494.5,338.2 496.5,330.7 491.1,325.9 497.9,325.8" fill="#fff" stroke="#141414" stroke-width="1.3" stroke-linejoin="miter"/>
<polygon points="500.1,318.3 502.3,325.8 509.0,325.9 503.6,330.7 505.6,338.2 500.1,333.7 494.5,338.2 496.5,330.7 491.1,325.9 497.9,325.8" fill="#141414" stroke="#141414" stroke-width="1.3" clip-path="url(#sc5)"/>
<clipPath id="sc6"><rect x="538.8" y="428.7" width="30" height="20"/></clipPath>
<polygon points="553.8,418.2 556.0,425.6 562.7,425.8 557.4,430.5 559.3,438.1 553.8,433.6 548.3,438.1 550.2,430.5 544.8,425.8 551.6,425.6" fill="#fff" stroke="#141414" stroke-width="1.3" stroke-linejoin="miter"/>
<polygon points="553.8,418.2 556.0,425.6 562.7,425.8 557.4,430.5 559.3,438.1 553.8,433.6 548.3,438.1 550.2,430.5 544.8,425.8 551.6,425.6" fill="#141414" stroke="#141414" stroke-width="1.3" clip-path="url(#sc6)"/>
<clipPath id="sc7"><rect x="592.5" y="510.8" width="30" height="20"/></clipPath>
<polygon points="607.5,500.3 609.7,507.8 616.4,507.9 611.1,512.7 613.0,520.2 607.5,515.7 602.0,520.2 603.9,512.7 598.6,507.9 605.3,507.8" fill="#fff" stroke="#141414" stroke-width="1.3" stroke-linejoin="miter"/>
<polygon points="607.5,500.3 609.7,507.8 616.4,507.9 611.1,512.7 613.0,520.2 607.5,515.7 602.0,520.2 603.9,512.7 598.6,507.9 605.3,507.8" fill="#141414" stroke="#141414" stroke-width="1.3" clip-path="url(#sc7)"/>
<clipPath id="sc8"><rect x="646.2" y="567.8" width="30" height="20"/></clipPath>
<polygon points="661.2,557.3 663.4,564.8 670.2,564.9 664.8,569.7 666.8,577.2 661.2,572.7 655.7,577.2 657.7,569.7 652.3,564.9 659.0,564.8" fill="#fff" stroke="#141414" stroke-width="1.3" stroke-linejoin="miter"/>
<polygon points="661.2,557.3 663.4,564.8 670.2,564.9 664.8,569.7 666.8,577.2 661.2,572.7 655.7,577.2 657.7,569.7 652.3,564.9 659.0,564.8" fill="#141414" stroke="#141414" stroke-width="1.3" clip-path="url(#sc8)"/>
<clipPath id="sc9"><rect x="700.0" y="603.1" width="30" height="20"/></clipPath>
<polygon points="715.0,592.6 717.2,600.1 723.9,600.2 718.5,605.0 720.5,612.5 715.0,608.0 709.4,612.5 711.4,605.0 706.0,600.2 712.7,600.1" fill="#fff" stroke="#141414" stroke-width="1.3" stroke-linejoin="miter"/>
<polygon points="715.0,592.6 717.2,600.1 723.9,600.2 718.5,605.0 720.5,612.5 715.0,608.0 709.4,612.5 711.4,605.0 706.0,600.2 712.7,600.1" fill="#141414" stroke="#141414" stroke-width="1.3" clip-path="url(#sc9)"/>
<clipPath id="sc10"><rect x="753.7" y="616.5" width="30" height="20"/></clipPath>
<polygon points="768.7,606.0 770.9,613.4 777.6,613.6 772.3,618.4 774.2,625.9 768.7,621.4 763.2,625.9 765.1,618.4 759.7,613.6 766.5,613.4" fill="#fff" stroke="#141414" stroke-width="1.3" stroke-linejoin="miter"/>
<polygon points="768.7,606.0 770.9,613.4 777.6,613.6 772.3,618.4 774.2,625.9 768.7,621.4 763.2,625.9 765.1,618.4 759.7,613.6 766.5,613.4" fill="#141414" stroke="#141414" stroke-width="1.3" clip-path="url(#sc10)"/>
<clipPath id="sc11"><rect x="807.4" y="629.0" width="30" height="20"/></clipPath>
<polygon points="822.4,618.5 824.6,625.9 831.3,626.1 826.0,630.9 827.9,638.4 822.4,633.9 816.9,638.4 818.8,630.9 813.5,626.1 820.2,625.9" fill="#fff" stroke="#141414" stroke-width="1.3" stroke-linejoin="miter"/>
<polygon points="822.4,618.5 824.6,625.9 831.3,626.1 826.0,630.9 827.9,638.4 822.4,633.9 816.9,638.4 818.8,630.9 813.5,626.1 820.2,625.9" fill="#141414" stroke="#141414" stroke-width="1.3" clip-path="url(#sc11)"/>
</g>
<rect x="124.0" y="18.4" width="698.4" height="653.9" fill="none" stroke="#141414" stroke-width="2.4"/>
<line x1="124.0" y1="672.3" x2="124.0" y2="685.7" stroke="#141414" stroke-width="2.3"/>
<line x1="177.7" y1="672.3" x2="177.7" y2="679.3" stroke="#141414" stroke-width="2.3"/>
<line x1="231.4" y1="672.3" x2="231.4" y2="685.7" stroke="#141414" stroke-width="2.3"/>
<line x1="285.2" y1="672.3" x2="285.2" y2="679.3" stroke="#141414" stroke-width="2.3"/>
<line x1="338.9" y1="672.3" x2="338.9" y2="685.7" stroke="#141414" stroke-width="2.3"/>
<line x1="392.6" y1="672.3" x2="392.6" y2="679.3" stroke="#141414" stroke-width="2.3"/>
<line x1="446.3" y1="672.3" x2="446.3" y2="685.7" stroke="#141414" stroke-width="2.3"/>
<line x1="500.1" y1="672.3" x2="500.1" y2="679.3" stroke="#141414" stroke-width="2.3"/>
<line x1="553.8" y1="672.3" x2="553.8" y2="685.7" stroke="#141414" stroke-width="2.3"/>
<line x1="607.5" y1="672.3" x2="607.5" y2="679.3" stroke="#141414" stroke-width="2.3"/>
<line x1="661.2" y1="672.3" x2="661.2" y2="685.7" stroke="#141414" stroke-width="2.3"/>
<line x1="715.0" y1="672.3" x2="715.0" y2="679.3" stroke="#141414" stroke-width="2.3"/>
<line x1="768.7" y1="672.3" x2="768.7" y2="685.7" stroke="#141414" stroke-width="2.3"/>
<line x1="822.4" y1="672.3" x2="822.4" y2="679.3" stroke="#141414" stroke-width="2.3"/>
<line x1="112.1" y1="672.3" x2="124.0" y2="672.3" stroke="#141414" stroke-width="2.3"/>
<line x1="117.2" y1="590.6" x2="124.0" y2="590.6" stroke="#141414" stroke-width="2.3"/>
<line x1="112.1" y1="508.8" x2="124.0" y2="508.8" stroke="#141414" stroke-width="2.3"/>
<line x1="117.2" y1="427.1" x2="124.0" y2="427.1" stroke="#141414" stroke-width="2.3"/>
<line x1="112.1" y1="345.3" x2="124.0" y2="345.3" stroke="#141414" stroke-width="2.3"/>
<line x1="117.2" y1="263.6" x2="124.0" y2="263.6" stroke="#141414" stroke-width="2.3"/>
<line x1="112.1" y1="181.9" x2="124.0" y2="181.9" stroke="#141414" stroke-width="2.3"/>
<line x1="117.2" y1="100.1" x2="124.0" y2="100.1" stroke="#141414" stroke-width="2.3"/>
<line x1="112.1" y1="18.4" x2="124.0" y2="18.4" stroke="#141414" stroke-width="2.3"/>
<text x="89.49" y="724.40" font-size="39.90" textLength="68.39" lengthAdjust="spacingAndGlyphs" >1200</text>
<text x="196.93" y="724.40" font-size="39.90" textLength="68.39" lengthAdjust="spacingAndGlyphs" >1400</text>
<text x="304.38" y="724.40" font-size="39.90" textLength="68.39" lengthAdjust="spacingAndGlyphs" >1600</text>
<text x="411.83" y="724.40" font-size="39.90" textLength="68.39" lengthAdjust="spacingAndGlyphs" >1800</text>
<text x="519.92" y="724.40" font-size="39.90" textLength="68.39" lengthAdjust="spacingAndGlyphs" >2000</text>
<text x="627.37" y="724.40" font-size="39.90" textLength="68.39" lengthAdjust="spacingAndGlyphs" >2200</text>
<text x="734.81" y="724.40" font-size="39.90" textLength="68.39" lengthAdjust="spacingAndGlyphs" >2400</text>
<text x="62.70" y="682.70" font-size="39.90" textLength="42.39" lengthAdjust="spacingAndGlyphs" >0.0</text>
<text x="62.83" y="519.22" font-size="39.90" textLength="42.39" lengthAdjust="spacingAndGlyphs" >0.2</text>
<text x="62.02" y="355.75" font-size="39.90" textLength="42.39" lengthAdjust="spacingAndGlyphs" >0.4</text>
<text x="62.42" y="192.27" font-size="39.90" textLength="42.39" lengthAdjust="spacingAndGlyphs" >0.6</text>
<text x="62.56" y="28.80" font-size="39.90" textLength="42.39" lengthAdjust="spacingAndGlyphs" >0.8</text>
<clipPath id="clipR"><rect x="994.7" y="19.2" width="689.1" height="655.8"/></clipPath>
<g clip-path="url(#clipR)">
<polyline points="991.7,666.7 992.7,666.7 993.7,666.7 994.7,666.7 995.7,666.7 996.7,666.7 997.7,666.7 998.7,666.7 999.7,666.7 1000.7,666.7 1001.7,666.7 1002.7,666.7 1003.7,666.7 1004.7,666.7 1005.7,666.7 1006.7,666.7 1007.7,666.7 1008.7,666.7 1009.7,666.7 1010.7,666.7 1011.7,666.7 1012.7,666.7 1013.7,666.7 1014.7,666.7 1015.7,666.7 1016.7,666.7 1017.7,666.7 1018.7,666.7 1019.7,666.7 1020.7,666.7 1021.7,666.7 1022.7,666.7 1023.7,666.7 1024.7,666.7 1025.7,666.7 1026.7,666.7 1027.7,666.7 1028.7,666.7 1029.7,666.7 1030.7,666.7 1031.7,666.7 1032.7,666.7 1033.7,666.7 1034.7,666.7 1035.7,666.7 1036.7,666.7 1037.7,666.7 1038.7,666.7 1039.7,666.7 1040.7,666.7 1041.7,666.7 1042.7,666.7 1043.7,666.7 1044.7,666.7 1045.7,666.7 1046.7,666.7 1047.7,666.7 1048.7,666.7 1049.7,666.7 1050.7,666.7 1051.7,666.7 1052.7,666.7 1053.7,666.7 1054.7,666.7 1055.7,666.7 1056.7,666.7 1057.7,666.7 1058.7,666.7 1059.7,666.7 1060.7,666.7 1061.7,666.7 1062.7,666.7 1063.7,666.6 1064.7,666.6 1065.7,666.6 1066.7,666.6 1067.7,666.6 1068.7,666.6 1069.7,666.6 1070.7,666.6 1071.7,666.6 1072.7,666.6 1073.7,666.5 1074.7,666.5 1075.7,666.5 1076.7,666.5 1077.7,666.5 1078.7,666.5 1079.7,666.4 1080.7,666.4 1081.7,666.4 1082.7,666.4 1083.7,666.3 1084.7,666.3 1085.7,666.3 1086.7,666.2 1087.7,666.2 1088.7,666.2 1089.7,666.1 1090.7,666.1 1091.7,666.1 1092.7,666.0 1093.7,666.0 1094.7,665.9 1095.7,665.9 1096.7,665.8 1097.7,665.7 1098.7,665.7 1099.7,665.6 1100.7,665.5 1101.7,665.5 1102.7,665.4 1103.7,665.3 1104.7,665.2 1105.7,665.1 1106.7,665.0 1107.7,664.9 1108.7,664.8 1109.7,664.7 1110.7,664.5 1111.7,664.4 1112.7,664.3 1113.7,664.1 1114.7,664.0 1115.7,663.8 1116.7,663.6 1117.7,663.5 1118.7,663.3 1119.7,663.1 1120.7,662.9 1121.7,662.7 1122.7,662.4 1123.7,662.2 1124.7,661.9 1125.7,661.7 1126.7,661.4 1127.7,661.1 1128.7,660.8 1129.7,660.5 1130.7,660.1 1131.7,659.8 1132.7,659.4 1133.7,659.0 1134.7,658.6 1135.7,658.2 1136.7,657.8 1137.7,657.3 1138.7,656.8 1139.7,656.3 1140.7,655.8 1141.7,655.3 1142.7,654.7 1143.7,654.1 1144.7,653.5 1145.7,652.8 1146.7,652.2 1147.7,651.5 1148.7,650.7 1149.7,650.0 1150.7,649.2 1151.7,648.4 1152.7,647.5 1153.7,646.6 1154.7,645.7 1155.7,644.7 1156.7,643.8 1157.7,642.7 1158.7,641.7 1159.7,640.5 1160.7,639.4 1161.7,638.2 1162.7,637.0 1163.7,635.7 1164.7,634.4 1165.7,633.0 1166.7,631.6 1167.7,630.1 1168.7,628.6 1169.7,627.1 1170.7,625.5 1171.7,623.8 1172.7,622.1 1173.7,620.3 1174.7,618.5 1175.7,616.6 1176.7,614.6 1177.7,612.6 1178.7,610.6 1179.7,608.5 1180.7,606.3 1181.7,604.0 1182.7,601.7 1183.7,599.4 1184.7,596.9 1185.7,594.4 1186.7,591.8 1187.7,589.2 1188.7,586.5 1189.7,583.7 1190.7,580.9 1191.7,577.9 1192.7,575.0 1193.7,571.9 1194.7,568.8 1195.7,565.6 1196.7,562.3 1197.7,558.9 1198.7,555.5 1199.7,552.0 1200.7,548.4 1201.7,544.8 1202.7,541.1 1203.7,537.3 1204.7,533.4 1205.7,529.4 1206.7,525.4 1207.7,521.3 1208.7,517.2 1209.7,512.9 1210.7,508.6 1211.7,504.3 1212.7,499.8 1213.7,495.3 1214.7,490.7 1215.7,486.1 1216.7,481.3 1217.7,476.6 1218.7,471.7 1219.7,466.8 1220.7,461.8 1221.7,456.8 1222.7,451.7 1223.7,446.6 1224.7,441.4 1225.7,436.1 1226.7,430.8 1227.7,425.5 1228.7,420.1 1229.7,414.6 1230.7,409.2 1231.7,403.6 1232.7,398.1 1233.7,392.5 1234.7,386.9 1235.7,381.2 1236.7,375.6 1237.7,369.9 1238.7,364.2 1239.7,358.4 1240.7,352.7 1241.7,346.9 1242.7,341.2 1243.7,335.4 1244.7,329.7 1245.7,323.9 1246.7,318.2 1247.7,312.4 1248.7,306.7 1249.7,301.0 1250.7,295.4 1251.7,289.7 1252.7,284.1 1253.7,278.5 1254.7,273.0 1255.7,267.5 1256.7,262.0 1257.7,256.6 1258.7,251.3 1259.7,246.0 1260.7,240.8 1261.7,235.6 1262.7,230.5 1263.7,225.5 1264.7,220.6 1265.7,215.7 1266.7,211.0 1267.7,206.3 1268.7,201.7 1269.7,197.2 1270.7,192.9 1271.7,188.6 1272.7,184.4 1273.7,180.4 1274.7,176.4 1275.7,172.6 1276.7,168.9 1277.7,165.3 1278.7,161.9 1279.7,158.6 1280.7,155.4 1281.7,152.4 1282.7,149.5 1283.7,146.7 1284.7,144.1 1285.7,141.6 1286.7,139.3 1287.7,137.2 1288.7,135.1 1289.7,133.3 1290.7,131.6 1291.7,130.1 1292.7,128.7 1293.7,127.5 1294.7,126.4 1295.7,125.5 1296.7,124.8 1297.7,124.2 1298.7,123.8 1299.7,123.6 1300.7,123.5 1301.7,123.6 1302.7,123.9 1303.7,124.3 1304.7,124.9 1305.7,125.7 1306.7,126.6 1307.7,127.7 1308.7,128.9 1309.7,130.4 1310.7,131.9 1311.7,133.7 1312.7,135.5 1313.7,137.6 1314.7,139.8 1315.7,142.1 1316.7,144.6 1317.7,147.3 1318.7,150.0 1319.7,153.0 1320.7,156.0 1321.7,159.2 1322.7,162.6 1323.7,166.0 1324.7,169.6 1325.7,173.4 1326.7,177.2 1327.7,181.2 1328.7,185.2 1329.7,189.4 1330.7,193.7 1331.7,198.1 1332.7,202.6 1333.7,207.2 1334.7,211.9 1335.7,216.7 1336.7,221.6 1337.7,226.5 1338.7,231.5 1339.7,236.6 1340.7,241.8 1341.7,247.0 1342.7,252.3 1343.7,257.7 1344.7,263.1 1345.7,268.6 1346.7,274.1 1347.7,279.6 1348.7,285.2 1349.7,290.8 1350.7,296.5 1351.7,302.2 1352.7,307.9 1353.7,313.6 1354.7,319.3 1355.7,325.1 1356.7,330.8 1357.7,336.6 1358.7,342.3 1359.7,348.1 1360.7,353.8 1361.7,359.6 1362.7,365.3 1363.7,371.0 1364.7,376.7 1365.7,382.4 1366.7,388.0 1367.7,393.6 1368.7,399.2 1369.7,404.7 1370.7,410.3 1371.7,415.7 1372.7,421.2 1373.7,426.5 1374.7,431.9 1375.7,437.2 1376.7,442.4 1377.7,447.6 1378.7,452.7 1379.7,457.8 1380.7,462.8 1381.7,467.8 1382.7,472.7 1383.7,477.5 1384.7,482.3 1385.7,487.0 1386.7,491.6 1387.7,496.2 1388.7,500.7 1389.7,505.1 1390.7,509.5 1391.7,513.8 1392.7,518.0 1393.7,522.2 1394.7,526.2 1395.7,530.2 1396.7,534.2 1397.7,538.0 1398.7,541.8 1399.7,545.5 1400.7,549.1 1401.7,552.7 1402.7,556.2 1403.7,559.6 1404.7,562.9 1405.7,566.2 1406.7,569.4 1407.7,572.5 1408.7,575.6 1409.7,578.5 1410.7,581.4 1411.7,584.3 1412.7,587.0 1413.7,589.7 1414.7,592.4 1415.7,594.9 1416.7,597.4 1417.7,599.8 1418.7,602.2 1419.7,604.5 1420.7,606.7 1421.7,608.9 1422.7,611.0 1423.7,613.1 1424.7,615.0 1425.7,617.0 1426.7,618.8 1427.7,620.7 1428.7,622.4 1429.7,624.1 1430.7,625.8 1431.7,627.4 1432.7,628.9 1433.7,630.4 1434.7,631.9 1435.7,633.3 1436.7,634.6 1437.7,636.0 1438.7,637.2 1439.7,638.5 1440.7,639.6 1441.7,640.8 1442.7,641.9 1443.7,642.9 1444.7,644.0 1445.7,644.9 1446.7,645.9 1447.7,646.8 1448.7,647.7 1449.7,648.5 1450.7,649.3 1451.7,650.1 1452.7,650.9 1453.7,651.6 1454.7,652.3 1455.7,653.0 1456.7,653.6 1457.7,654.2 1458.7,654.8 1459.7,655.4 1460.7,655.9 1461.7,656.4 1462.7,656.9 1463.7,657.4 1464.7,657.9 1465.7,658.3 1466.7,658.7 1467.7,659.1 1468.7,659.5 1469.7,659.9 1470.7,660.2 1471.7,660.5 1472.7,660.9 1473.7,661.2 1474.7,661.4 1475.7,661.7 1476.7,662.0 1477.7,662.2 1478.7,662.5 1479.7,662.7 1480.7,662.9 1481.7,663.1 1482.7,663.3 1483.7,663.5 1484.7,663.7 1485.7,663.8 1486.7,664.0 1487.7,664.2 1488.7,664.3 1489.7,664.4 1490.7,664.6 1491.7,664.7 1492.7,664.8 1493.7,664.9 1494.7,665.0 1495.7,665.1 1496.7,665.2 1497.7,665.3 1498.7,665.4 1499.7,665.5 1500.7,665.5 1501.7,665.6 1502.7,665.7 1503.7,665.7 1504.7,665.8 1505.7,665.9 1506.7,665.9 1507.7,666.0 1508.7,666.0 1509.7,666.1 1510.7,666.1 1511.7,666.1 1512.7,666.2 1513.7,666.2 1514.7,666.3 1515.7,666.3 1516.7,666.3 1517.7,666.3 1518.7,666.4 1519.7,666.4 1520.7,666.4 1521.7,666.4 1522.7,666.5 1523.7,666.5 1524.7,666.5 1525.7,666.5 1526.7,666.5 1527.7,666.5 1528.7,666.6 1529.7,666.6 1530.7,666.6 1531.7,666.6 1532.7,666.6 1533.7,666.6 1534.7,666.6 1535.7,666.6 1536.7,666.6 1537.7,666.6 1538.7,666.7 1539.7,666.7 1540.7,666.7 1541.7,666.7 1542.7,666.7 1543.7,666.7 1544.7,666.7 1545.7,666.7 1546.7,666.7 1547.7,666.7 1548.7,666.7 1549.7,666.7 1550.7,666.7 1551.7,666.7 1552.7,666.7 1553.7,666.7 1554.7,666.7 1555.7,666.7 1556.7,666.7 1557.7,666.7 1558.7,666.7 1559.7,666.7 1560.7,666.7 1561.7,666.7 1562.7,666.7 1563.7,666.7 1564.7,666.7 1565.7,666.7 1566.7,666.7 1567.7,666.7 1568.7,666.7 1569.7,666.7 1570.7,666.7 1571.7,666.7 1572.7,666.7 1573.7,666.7 1574.7,666.7 1575.7,666.7 1576.7,666.7 1577.7,666.7 1578.7,666.7 1579.7,666.7 1580.7,666.7 1581.7,666.7 1582.7,666.7 1583.7,666.7 1584.7,666.7 1585.7,666.7 1586.7,666.7 1587.7,666.7 1588.7,666.7 1589.7,666.7 1590.7,666.7 1591.7,666.7 1592.7,666.7 1593.7,666.7 1594.7,666.7 1595.7,666.7 1596.7,666.7 1597.7,666.7 1598.7,666.7 1599.7,666.7 1600.7,666.7 1601.7,666.7 1602.7,666.7 1603.7,666.7 1604.7,666.7 1605.7,666.7 1606.7,666.7 1607.7,666.7 1608.7,666.7 1609.7,666.7 1610.7,666.7 1611.7,666.7 1612.7,666.7 1613.7,666.7 1614.7,666.7 1615.7,666.7 1616.7,666.7 1617.7,666.7 1618.7,666.7 1619.7,666.7 1620.7,666.7 1621.7,666.7 1622.7,666.7 1623.7,666.7 1624.7,666.7 1625.7,666.7 1626.7,666.7 1627.7,666.7 1628.7,666.7 1629.7,666.7 1630.7,666.7 1631.7,666.7 1632.7,666.7 1633.7,666.7 1634.7,666.7 1635.7,666.7 1636.7,666.7 1637.7,666.7 1638.7,666.7 1639.7,666.7 1640.7,666.7 1641.7,666.7 1642.7,666.7 1643.7,666.7 1644.7,666.7 1645.7,666.7 1646.7,666.7 1647.7,666.7 1648.7,666.7 1649.7,666.7" fill="none" stroke="#141414" stroke-width="2.4" stroke-linejoin="round" stroke-linecap="round" />
<rect x="987.5" y="657.4" width="16.2" height="18.6" fill="#141414"/>
<rect x="1025.8" y="657.4" width="16.2" height="18.6" fill="#141414"/>
<rect x="1064.1" y="657.3" width="16.2" height="18.6" fill="#141414"/>
<rect x="1102.4" y="655.3" width="16.2" height="18.6" fill="#141414"/>
<rect x="1140.7" y="641.4" width="16.2" height="18.6" fill="#141414"/>
<rect x="1179.0" y="581.5" width="16.2" height="18.6" fill="#141414"/>
<rect x="1217.3" y="428.4" width="16.2" height="18.6" fill="#141414"/>
<rect x="1255.6" y="216.2" width="16.2" height="18.6" fill="#141414"/>
<rect x="1293.9" y="114.4" width="16.2" height="18.6" fill="#141414"/>
<rect x="1332.2" y="230.4" width="16.2" height="18.6" fill="#141414"/>
<rect x="1370.5" y="442.9" width="16.2" height="18.6" fill="#141414"/>
<rect x="1408.8" y="588.6" width="16.2" height="18.6" fill="#141414"/>
<rect x="1447.1" y="643.3" width="16.2" height="18.6" fill="#141414"/>
<rect x="1485.4" y="655.6" width="16.2" height="18.6" fill="#141414"/>
<rect x="1523.7" y="657.3" width="16.2" height="18.6" fill="#141414"/>
<rect x="1562.0" y="657.4" width="16.2" height="18.6" fill="#141414"/>
<rect x="1600.3" y="657.4" width="16.2" height="18.6" fill="#141414"/>
<polyline points="991.7,671.7 992.7,671.7 993.7,671.7 994.7,671.7 995.7,671.7 996.7,671.7 997.7,671.7 998.7,671.7 999.7,671.7 1000.7,671.7 1001.7,671.7 1002.7,671.7 1003.7,671.7 1004.7,671.7 1005.7,671.7 1006.7,671.7 1007.7,671.7 1008.7,671.7 1009.7,671.7 1010.7,671.7 1011.7,671.7 1012.7,671.7 1013.7,671.7 1014.7,671.7 1015.7,671.7 1016.7,671.7 1017.7,671.7 1018.7,671.7 1019.7,671.7 1020.7,671.7 1021.7,671.7 1022.7,671.7 1023.7,671.7 1024.7,671.7 1025.7,671.7 1026.7,671.7 1027.7,671.7 1028.7,671.7 1029.7,671.7 1030.7,671.7 1031.7,671.7 1032.7,671.7 1033.7,671.7 1034.7,671.7 1035.7,671.7 1036.7,671.7 1037.7,671.7 1038.7,671.7 1039.7,671.7 1040.7,671.7 1041.7,671.7 1042.7,671.7 1043.7,671.7 1044.7,671.7 1045.7,671.7 1046.7,671.7 1047.7,671.7 1048.7,671.7 1049.7,671.7 1050.7,671.7 1051.7,671.7 1052.7,671.7 1053.7,671.7 1054.7,671.7 1055.7,671.7 1056.7,671.7 1057.7,671.7 1058.7,671.7 1059.7,671.7 1060.7,671.7 1061.7,671.7 1062.7,671.7 1063.7,671.7 1064.7,671.7 1065.7,671.7 1066.7,671.7 1067.7,671.7 1068.7,671.7 1069.7,671.7 1070.7,671.7 1071.7,671.7 1072.7,671.7 1073.7,671.7 1074.7,671.7 1075.7,671.7 1076.7,671.7 1077.7,671.7 1078.7,671.7 1079.7,671.7 1080.7,671.7 1081.7,671.7 1082.7,671.7 1083.7,671.7 1084.7,671.7 1085.7,671.7 1086.7,671.6 1087.7,671.6 1088.7,671.6 1089.7,671.6 1090.7,671.6 1091.7,671.6 1092.7,671.6 1093.7,671.6 1094.7,671.6 1095.7,671.6 1096.7,671.6 1097.7,671.6 1098.7,671.5 1099.7,671.5 1100.7,671.5 1101.7,671.5 1102.7,671.5 1103.7,671.5 1104.7,671.4 1105.7,671.4 1106.7,671.4 1107.7,671.4 1108.7,671.4 1109.7,671.3 1110.7,671.3 1111.7,671.3 1112.7,671.3 1113.7,671.2 1114.7,671.2 1115.7,671.1 1116.7,671.1 1117.7,671.1 1118.7,671.0 1119.7,671.0 1120.7,670.9 1121.7,670.9 1122.7,670.8 1123.7,670.8 1124.7,670.7 1125.7,670.6 1126.7,670.6 1127.7,670.5 1128.7,670.4 1129.7,670.3 1130.7,670.2 1131.7,670.1 1132.7,670.0 1133.7,669.9 1134.7,669.8 1135.7,669.7 1136.7,669.6 1137.7,669.4 1138.7,669.3 1139.7,669.2 1140.7,669.0 1141.7,668.8 1142.7,668.7 1143.7,668.5 1144.7,668.3 1145.7,668.1 1146.7,667.9 1147.7,667.7 1148.7,667.4 1149.7,667.2 1150.7,666.9 1151.7,666.7 1152.7,666.4 1153.7,666.1 1154.7,665.8 1155.7,665.4 1156.7,665.1 1157.7,664.7 1158.7,664.4 1159.7,664.0 1160.7,663.5 1161.7,663.1 1162.7,662.7 1163.7,662.2 1164.7,661.7 1165.7,661.2 1166.7,660.6 1167.7,660.1 1168.7,659.5 1169.7,658.9 1170.7,658.2 1171.7,657.5 1172.7,656.8 1173.7,656.1 1174.7,655.3 1175.7,654.6 1176.7,653.7 1177.7,652.9 1178.7,652.0 1179.7,651.1 1180.7,650.1 1181.7,649.1 1182.7,648.0 1183.7,647.0 1184.7,645.8 1185.7,644.7 1186.7,643.5 1187.7,642.2 1188.7,640.9 1189.7,639.6 1190.7,638.2 1191.7,636.7 1192.7,635.3 1193.7,633.7 1194.7,632.1 1195.7,630.5 1196.7,628.8 1197.7,627.0 1198.7,625.2 1199.7,623.3 1200.7,621.4 1201.7,619.4 1202.7,617.3 1203.7,615.2 1204.7,613.0 1205.7,610.8 1206.7,608.4 1207.7,606.1 1208.7,603.6 1209.7,601.1 1210.7,598.5 1211.7,595.8 1212.7,593.1 1213.7,590.3 1214.7,587.4 1215.7,584.5 1216.7,581.5 1217.7,578.4 1218.7,575.2 1219.7,571.9 1220.7,568.6 1221.7,565.2 1222.7,561.7 1223.7,558.2 1224.7,554.5 1225.7,550.8 1226.7,547.0 1227.7,543.1 1228.7,539.2 1229.7,535.2 1230.7,531.1 1231.7,526.9 1232.7,522.6 1233.7,518.3 1234.7,513.9 1235.7,509.4 1236.7,504.9 1237.7,500.2 1238.7,495.5 1239.7,490.8 1240.7,485.9 1241.7,481.0 1242.7,476.0 1243.7,471.0 1244.7,465.9 1245.7,460.7 1246.7,455.5 1247.7,450.2 1248.7,444.8 1249.7,439.4 1250.7,434.0 1251.7,428.5 1252.7,422.9 1253.7,417.3 1254.7,411.7 1255.7,406.0 1256.7,400.3 1257.7,394.6 1258.7,388.8 1259.7,383.0 1260.7,377.1 1261.7,371.3 1262.7,365.4 1263.7,359.5 1264.7,353.6 1265.7,347.7 1266.7,341.8 1267.7,335.9 1268.7,330.0 1269.7,324.1 1270.7,318.2 1271.7,312.3 1272.7,306.5 1273.7,300.6 1274.7,294.8 1275.7,289.1 1276.7,283.3 1277.7,277.6 1278.7,272.0 1279.7,266.4 1280.7,260.8 1281.7,255.3 1282.7,249.9 1283.7,244.5 1284.7,239.2 1285.7,234.0 1286.7,228.9 1287.7,223.8 1288.7,218.8 1289.7,213.9 1290.7,209.2 1291.7,204.5 1292.7,199.9 1293.7,195.4 1294.7,191.1 1295.7,186.8 1296.7,182.7 1297.7,178.7 1298.7,174.8 1299.7,171.0 1300.7,167.4 1301.7,163.9 1302.7,160.6 1303.7,157.4 1304.7,154.3 1305.7,151.4 1306.7,148.7 1307.7,146.1 1308.7,143.6 1309.7,141.3 1310.7,139.2 1311.7,137.3 1312.7,135.5 1313.7,133.8 1314.7,132.4 1315.7,131.1 1316.7,129.9 1317.7,129.0 1318.7,128.2 1319.7,127.6 1320.7,127.2 1321.7,126.9 1322.7,126.8 1323.7,126.9 1324.7,127.2 1325.7,127.6 1326.7,128.2 1327.7,129.0 1328.7,129.9 1329.7,131.1 1330.7,132.4 1331.7,133.8 1332.7,135.5 1333.7,137.3 1334.7,139.2 1335.7,141.3 1336.7,143.6 1337.7,146.1 1338.7,148.7 1339.7,151.4 1340.7,154.3 1341.7,157.4 1342.7,160.6 1343.7,163.9 1344.7,167.4 1345.7,171.0 1346.7,174.8 1347.7,178.7 1348.7,182.7 1349.7,186.8 1350.7,191.1 1351.7,195.4 1352.7,199.9 1353.7,204.5 1354.7,209.2 1355.7,213.9 1356.7,218.8 1357.7,223.8 1358.7,228.9 1359.7,234.0 1360.7,239.2 1361.7,244.5 1362.7,249.9 1363.7,255.3 1364.7,260.8 1365.7,266.4 1366.7,272.0 1367.7,277.6 1368.7,283.3 1369.7,289.1 1370.7,294.8 1371.7,300.6 1372.7,306.5 1373.7,312.3 1374.7,318.2 1375.7,324.1 1376.7,330.0 1377.7,335.9 1378.7,341.8 1379.7,347.7 1380.7,353.6 1381.7,359.5 1382.7,365.4 1383.7,371.3 1384.7,377.1 1385.7,383.0 1386.7,388.8 1387.7,394.6 1388.7,400.3 1389.7,406.0 1390.7,411.7 1391.7,417.3 1392.7,422.9 1393.7,428.5 1394.7,434.0 1395.7,439.4 1396.7,444.8 1397.7,450.2 1398.7,455.5 1399.7,460.7 1400.7,465.9 1401.7,471.0 1402.7,476.0 1403.7,481.0 1404.7,485.9 1405.7,490.8 1406.7,495.5 1407.7,500.2 1408.7,504.9 1409.7,509.4 1410.7,513.9 1411.7,518.3 1412.7,522.6 1413.7,526.9 1414.7,531.1 1415.7,535.2 1416.7,539.2 1417.7,543.1 1418.7,547.0 1419.7,550.8 1420.7,554.5 1421.7,558.2 1422.7,561.7 1423.7,565.2 1424.7,568.6 1425.7,571.9 1426.7,575.2 1427.7,578.4 1428.7,581.5 1429.7,584.5 1430.7,587.4 1431.7,590.3 1432.7,593.1 1433.7,595.8 1434.7,598.5 1435.7,601.1 1436.7,603.6 1437.7,606.1 1438.7,608.4 1439.7,610.8 1440.7,613.0 1441.7,615.2 1442.7,617.3 1443.7,619.4 1444.7,621.4 1445.7,623.3 1446.7,625.2 1447.7,627.0 1448.7,628.8 1449.7,630.5 1450.7,632.1 1451.7,633.7 1452.7,635.3 1453.7,636.7 1454.7,638.2 1455.7,639.6 1456.7,640.9 1457.7,642.2 1458.7,643.5 1459.7,644.7 1460.7,645.8 1461.7,647.0 1462.7,648.0 1463.7,649.1 1464.7,650.1 1465.7,651.1 1466.7,652.0 1467.7,652.9 1468.7,653.7 1469.7,654.6 1470.7,655.3 1471.7,656.1 1472.7,656.8 1473.7,657.5 1474.7,658.2 1475.7,658.9 1476.7,659.5 1477.7,660.1 1478.7,660.6 1479.7,661.2 1480.7,661.7 1481.7,662.2 1482.7,662.7 1483.7,663.1 1484.7,663.5 1485.7,664.0 1486.7,664.4 1487.7,664.7 1488.7,665.1 1489.7,665.4 1490.7,665.8 1491.7,666.1 1492.7,666.4 1493.7,666.7 1494.7,666.9 1495.7,667.2 1496.7,667.4 1497.7,667.7 1498.7,667.9 1499.7,668.1 1500.7,668.3 1501.7,668.5 1502.7,668.7 1503.7,668.8 1504.7,669.0 1505.7,669.2 1506.7,669.3 1507.7,669.4 1508.7,669.6 1509.7,669.7 1510.7,669.8 1511.7,669.9 1512.7,670.0 1513.7,670.1 1514.7,670.2 1515.7,670.3 1516.7,670.4 1517.7,670.5 1518.7,670.6 1519.7,670.6 1520.7,670.7 1521.7,670.8 1522.7,670.8 1523.7,670.9 1524.7,670.9 1525.7,671.0 1526.7,671.0 1527.7,671.1 1528.7,671.1 1529.7,671.1 1530.7,671.2 1531.7,671.2 1532.7,671.3 1533.7,671.3 1534.7,671.3 1535.7,671.3 1536.7,671.4 1537.7,671.4 1538.7,671.4 1539.7,671.4 1540.7,671.4 1541.7,671.5 1542.7,671.5 1543.7,671.5 1544.7,671.5 1545.7,671.5 1546.7,671.5 1547.7,671.6 1548.7,671.6 1549.7,671.6 1550.7,671.6 1551.7,671.6 1552.7,671.6 1553.7,671.6 1554.7,671.6 1555.7,671.6 1556.7,671.6 1557.7,671.6 1558.7,671.6 1559.7,671.7 1560.7,671.7 1561.7,671.7 1562.7,671.7 1563.7,671.7 1564.7,671.7 1565.7,671.7 1566.7,671.7 1567.7,671.7 1568.7,671.7 1569.7,671.7 1570.7,671.7 1571.7,671.7 1572.7,671.7 1573.7,671.7 1574.7,671.7 1575.7,671.7 1576.7,671.7 1577.7,671.7 1578.7,671.7 1579.7,671.7 1580.7,671.7 1581.7,671.7 1582.7,671.7 1583.7,671.7 1584.7,671.7 1585.7,671.7 1586.7,671.7 1587.7,671.7 1588.7,671.7 1589.7,671.7 1590.7,671.7 1591.7,671.7 1592.7,671.7 1593.7,671.7 1594.7,671.7 1595.7,671.7 1596.7,671.7 1597.7,671.7 1598.7,671.7 1599.7,671.7 1600.7,671.7 1601.7,671.7 1602.7,671.7 1603.7,671.7 1604.7,671.7 1605.7,671.7 1606.7,671.7 1607.7,671.7 1608.7,671.7 1609.7,671.7 1610.7,671.7 1611.7,671.7 1612.7,671.7 1613.7,671.7 1614.7,671.7 1615.7,671.7 1616.7,671.7 1617.7,671.7 1618.7,671.7 1619.7,671.7 1620.7,671.7 1621.7,671.7 1622.7,671.7 1623.7,671.7 1624.7,671.7 1625.7,671.7 1626.7,671.7 1627.7,671.7 1628.7,671.7 1629.7,671.7 1630.7,671.7 1631.7,671.7 1632.7,671.7 1633.7,671.7 1634.7,671.7 1635.7,671.7 1636.7,671.7 1637.7,671.7 1638.7,671.7 1639.7,671.7 1640.7,671.7 1641.7,671.7 1642.7,671.7 1643.7,671.7 1644.7,671.7 1645.7,671.7 1646.7,671.7 1647.7,671.7 1648.7,671.7 1649.7,671.7" fill="none" stroke="#141414" stroke-width="2.4" stroke-linejoin="round" stroke-linecap="round" />
<rect x="987.6" y="663.1" width="14.8" height="17.2" fill="#fff" stroke="#141414" stroke-width="1.4"/>
<rect x="1013.2" y="663.1" width="14.8" height="17.2" fill="#fff" stroke="#141414" stroke-width="1.4"/>
<rect x="1038.8" y="663.1" width="14.8" height="17.2" fill="#fff" stroke="#141414" stroke-width="1.4"/>
<rect x="1064.4" y="663.1" width="14.8" height="17.2" fill="#fff" stroke="#141414" stroke-width="1.4"/>
<rect x="1090.0" y="663.0" width="14.8" height="17.2" fill="#fff" stroke="#141414" stroke-width="1.4"/>
<rect x="1115.6" y="662.2" width="14.8" height="17.2" fill="#fff" stroke="#141414" stroke-width="1.4"/>
<rect x="1141.2" y="658.9" width="14.8" height="17.2" fill="#fff" stroke="#141414" stroke-width="1.4"/>
<rect x="1166.8" y="647.1" width="14.8" height="17.2" fill="#fff" stroke="#141414" stroke-width="1.4"/>
<rect x="1192.4" y="614.5" width="14.8" height="17.2" fill="#fff" stroke="#141414" stroke-width="1.4"/>
<rect x="1218.0" y="543.3" width="14.8" height="17.2" fill="#fff" stroke="#141414" stroke-width="1.4"/>
<rect x="1243.6" y="423.7" width="14.8" height="17.2" fill="#fff" stroke="#141414" stroke-width="1.4"/>
<rect x="1269.2" y="275.3" width="14.8" height="17.2" fill="#fff" stroke="#141414" stroke-width="1.4"/>
<rect x="1294.8" y="153.6" width="14.8" height="17.2" fill="#fff" stroke="#141414" stroke-width="1.4"/>
<rect x="1320.4" y="120.5" width="14.8" height="17.2" fill="#fff" stroke="#141414" stroke-width="1.4"/>
<rect x="1346.0" y="194.5" width="14.8" height="17.2" fill="#fff" stroke="#141414" stroke-width="1.4"/>
<rect x="1371.6" y="335.0" width="14.8" height="17.2" fill="#fff" stroke="#141414" stroke-width="1.4"/>
<rect x="1397.2" y="476.8" width="14.8" height="17.2" fill="#fff" stroke="#141414" stroke-width="1.4"/>
<rect x="1422.8" y="577.4" width="14.8" height="17.2" fill="#fff" stroke="#141414" stroke-width="1.4"/>
<rect x="1448.4" y="631.1" width="14.8" height="17.2" fill="#fff" stroke="#141414" stroke-width="1.4"/>
<rect x="1474.0" y="653.4" width="14.8" height="17.2" fill="#fff" stroke="#141414" stroke-width="1.4"/>
<rect x="1499.6" y="660.7" width="14.8" height="17.2" fill="#fff" stroke="#141414" stroke-width="1.4"/>
<rect x="1525.2" y="662.6" width="14.8" height="17.2" fill="#fff" stroke="#141414" stroke-width="1.4"/>
<rect x="1550.8" y="663.0" width="14.8" height="17.2" fill="#fff" stroke="#141414" stroke-width="1.4"/>
<rect x="1576.4" y="663.1" width="14.8" height="17.2" fill="#fff" stroke="#141414" stroke-width="1.4"/>
<rect x="1602.0" y="663.1" width="14.8" height="17.2" fill="#fff" stroke="#141414" stroke-width="1.4"/>
<polyline points="991.7,665.3 992.7,665.3 993.7,665.3 994.7,665.3 995.7,665.3 996.7,665.3 997.7,665.3 998.7,665.3 999.7,665.3 1000.7,665.3 1001.7,665.3 1002.7,665.3 1003.7,665.3 1004.7,665.3 1005.7,665.3 1006.7,665.3 1007.7,665.3 1008.7,665.3 1009.7,665.3 1010.7,665.3 1011.7,665.3 1012.7,665.3 1013.7,665.3 1014.7,665.3 1015.7,665.3 1016.7,665.3 1017.7,665.3 1018.7,665.3 1019.7,665.3 1020.7,665.3 1021.7,665.3 1022.7,665.3 1023.7,665.3 1024.7,665.3 1025.7,665.3 1026.7,665.3 1027.7,665.3 1028.7,665.3 1029.7,665.3 1030.7,665.3 1031.7,665.3 1032.7,665.3 1033.7,665.3 1034.7,665.3 1035.7,665.3 1036.7,665.3 1037.7,665.3 1038.7,665.3 1039.7,665.3 1040.7,665.3 1041.7,665.3 1042.7,665.3 1043.7,665.3 1044.7,665.3 1045.7,665.3 1046.7,665.3 1047.7,665.3 1048.7,665.3 1049.7,665.3 1050.7,665.3 1051.7,665.3 1052.7,665.3 1053.7,665.3 1054.7,665.3 1055.7,665.3 1056.7,665.3 1057.7,665.3 1058.7,665.3 1059.7,665.3 1060.7,665.3 1061.7,665.3 1062.7,665.3 1063.7,665.3 1064.7,665.3 1065.7,665.3 1066.7,665.3 1067.7,665.3 1068.7,665.3 1069.7,665.3 1070.7,665.3 1071.7,665.3 1072.7,665.3 1073.7,665.3 1074.7,665.3 1075.7,665.3 1076.7,665.3 1077.7,665.3 1078.7,665.3 1079.7,665.3 1080.7,665.3 1081.7,665.3 1082.7,665.3 1083.7,665.3 1084.7,665.3 1085.7,665.3 1086.7,665.3 1087.7,665.3 1088.7,665.3 1089.7,665.3 1090.7,665.3 1091.7,665.3 1092.7,665.3 1093.7,665.3 1094.7,665.3 1095.7,665.3 1096.7,665.3 1097.7,665.3 1098.7,665.3 1099.7,665.3 1100.7,665.3 1101.7,665.3 1102.7,665.3 1103.7,665.3 1104.7,665.3 1105.7,665.3 1106.7,665.3 1107.7,665.3 1108.7,665.3 1109.7,665.3 1110.7,665.3 1111.7,665.3 1112.7,665.3 1113.7,665.3 1114.7,665.3 1115.7,665.3 1116.7,665.3 1117.7,665.3 1118.7,665.3 1119.7,665.3 1120.7,665.3 1121.7,665.3 1122.7,665.2 1123.7,665.2 1124.7,665.2 1125.7,665.2 1126.7,665.2 1127.7,665.2 1128.7,665.2 1129.7,665.2 1130.7,665.2 1131.7,665.2 1132.7,665.2 1133.7,665.2 1134.7,665.2 1135.7,665.2 1136.7,665.2 1137.7,665.2 1138.7,665.2 1139.7,665.2 1140.7,665.2 1141.7,665.2 1142.7,665.2 1143.7,665.1 1144.7,665.1 1145.7,665.1 1146.7,665.1 1147.7,665.1 1148.7,665.1 1149.7,665.1 1150.7,665.1 1151.7,665.0 1152.7,665.0 1153.7,665.0 1154.7,665.0 1155.7,665.0 1156.7,664.9 1157.7,664.9 1158.7,664.9 1159.7,664.9 1160.7,664.8 1161.7,664.8 1162.7,664.8 1163.7,664.7 1164.7,664.7 1165.7,664.6 1166.7,664.6 1167.7,664.5 1168.7,664.5 1169.7,664.4 1170.7,664.4 1171.7,664.3 1172.7,664.3 1173.7,664.2 1174.7,664.1 1175.7,664.0 1176.7,663.9 1177.7,663.8 1178.7,663.8 1179.7,663.7 1180.7,663.5 1181.7,663.4 1182.7,663.3 1183.7,663.2 1184.7,663.0 1185.7,662.9 1186.7,662.7 1187.7,662.6 1188.7,662.4 1189.7,662.2 1190.7,662.0 1191.7,661.8 1192.7,661.6 1193.7,661.4 1194.7,661.2 1195.7,660.9 1196.7,660.7 1197.7,660.4 1198.7,660.1 1199.7,659.8 1200.7,659.5 1201.7,659.1 1202.7,658.8 1203.7,658.4 1204.7,658.0 1205.7,657.6 1206.7,657.1 1207.7,656.7 1208.7,656.2 1209.7,655.7 1210.7,655.2 1211.7,654.6 1212.7,654.0 1213.7,653.4 1214.7,652.8 1215.7,652.1 1216.7,651.4 1217.7,650.7 1218.7,650.0 1219.7,649.2 1220.7,648.3 1221.7,647.5 1222.7,646.6 1223.7,645.6 1224.7,644.7 1225.7,643.6 1226.7,642.6 1227.7,641.5 1228.7,640.3 1229.7,639.1 1230.7,637.9 1231.7,636.6 1232.7,635.3 1233.7,633.9 1234.7,632.4 1235.7,630.9 1236.7,629.4 1237.7,627.8 1238.7,626.1 1239.7,624.4 1240.7,622.6 1241.7,620.7 1242.7,618.8 1243.7,616.8 1244.7,614.8 1245.7,612.7 1246.7,610.5 1247.7,608.2 1248.7,605.9 1249.7,603.5 1250.7,601.0 1251.7,598.5 1252.7,595.9 1253.7,593.2 1254.7,590.4 1255.7,587.5 1256.7,584.6 1257.7,581.6 1258.7,578.5 1259.7,575.3 1260.7,572.0 1261.7,568.7 1262.7,565.3 1263.7,561.7 1264.7,558.1 1265.7,554.5 1266.7,550.7 1267.7,546.8 1268.7,542.9 1269.7,538.8 1270.7,534.7 1271.7,530.5 1272.7,526.2 1273.7,521.9 1274.7,517.4 1275.7,512.9 1276.7,508.3 1277.7,503.6 1278.7,498.8 1279.7,493.9 1280.7,489.0 1281.7,483.9 1282.7,478.9 1283.7,473.7 1284.7,468.4 1285.7,463.1 1286.7,457.7 1287.7,452.3 1288.7,446.8 1289.7,441.2 1290.7,435.6 1291.7,429.9 1292.7,424.1 1293.7,418.3 1294.7,412.5 1295.7,406.6 1296.7,400.7 1297.7,394.7 1298.7,388.7 1299.7,382.7 1300.7,376.6 1301.7,370.5 1302.7,364.4 1303.7,358.3 1304.7,352.1 1305.7,346.0 1306.7,339.8 1307.7,333.7 1308.7,327.5 1309.7,321.4 1310.7,315.3 1311.7,309.2 1312.7,303.1 1313.7,297.1 1314.7,291.1 1315.7,285.1 1316.7,279.2 1317.7,273.3 1318.7,267.5 1319.7,261.7 1320.7,256.0 1321.7,250.3 1322.7,244.8 1323.7,239.3 1324.7,233.9 1325.7,228.6 1326.7,223.4 1327.7,218.2 1328.7,213.2 1329.7,208.3 1330.7,203.5 1331.7,198.9 1332.7,194.3 1333.7,189.9 1334.7,185.6 1335.7,181.4 1336.7,177.4 1337.7,173.5 1338.7,169.8 1339.7,166.2 1340.7,162.8 1341.7,159.5 1342.7,156.4 1343.7,153.5 1344.7,150.7 1345.7,148.1 1346.7,145.7 1347.7,143.4 1348.7,141.3 1349.7,139.5 1350.7,137.8 1351.7,136.2 1352.7,134.9 1353.7,133.8 1354.7,132.8 1355.7,132.0 1356.7,131.5 1357.7,131.1 1358.7,130.9 1359.7,130.9 1360.7,131.1 1361.7,131.5 1362.7,132.0 1363.7,132.8 1364.7,133.8 1365.7,134.9 1366.7,136.2 1367.7,137.8 1368.7,139.5 1369.7,141.3 1370.7,143.4 1371.7,145.7 1372.7,148.1 1373.7,150.7 1374.7,153.5 1375.7,156.4 1376.7,159.5 1377.7,162.8 1378.7,166.2 1379.7,169.8 1380.7,173.5 1381.7,177.4 1382.7,181.4 1383.7,185.6 1384.7,189.9 1385.7,194.3 1386.7,198.9 1387.7,203.5 1388.7,208.3 1389.7,213.2 1390.7,218.2 1391.7,223.4 1392.7,228.6 1393.7,233.9 1394.7,239.3 1395.7,244.8 1396.7,250.3 1397.7,256.0 1398.7,261.7 1399.7,267.5 1400.7,273.3 1401.7,279.2 1402.7,285.1 1403.7,291.1 1404.7,297.1 1405.7,303.1 1406.7,309.2 1407.7,315.3 1408.7,321.4 1409.7,327.5 1410.7,333.7 1411.7,339.8 1412.7,346.0 1413.7,352.1 1414.7,358.3 1415.7,364.4 1416.7,370.5 1417.7,376.6 1418.7,382.7 1419.7,388.7 1420.7,394.7 1421.7,400.7 1422.7,406.6 1423.7,412.5 1424.7,418.3 1425.7,424.1 1426.7,429.9 1427.7,435.6 1428.7,441.2 1429.7,446.8 1430.7,452.3 1431.7,457.7 1432.7,463.1 1433.7,468.4 1434.7,473.7 1435.7,478.9 1436.7,483.9 1437.7,489.0 1438.7,493.9 1439.7,498.8 1440.7,503.6 1441.7,508.3 1442.7,512.9 1443.7,517.4 1444.7,521.9 1445.7,526.2 1446.7,530.5 1447.7,534.7 1448.7,538.8 1449.7,542.9 1450.7,546.8 1451.7,550.7 1452.7,554.5 1453.7,558.1 1454.7,561.7 1455.7,565.3 1456.7,568.7 1457.7,572.0 1458.7,575.3 1459.7,578.5 1460.7,581.6 1461.7,584.6 1462.7,587.5 1463.7,590.4 1464.7,593.2 1465.7,595.9 1466.7,598.5 1467.7,601.0 1468.7,603.5 1469.7,605.9 1470.7,608.2 1471.7,610.5 1472.7,612.7 1473.7,614.8 1474.7,616.8 1475.7,618.8 1476.7,620.7 1477.7,622.6 1478.7,624.4 1479.7,626.1 1480.7,627.8 1481.7,629.4 1482.7,630.9 1483.7,632.4 1484.7,633.9 1485.7,635.3 1486.7,636.6 1487.7,637.9 1488.7,639.1 1489.7,640.3 1490.7,641.5 1491.7,642.6 1492.7,643.6 1493.7,644.7 1494.7,645.6 1495.7,646.6 1496.7,647.5 1497.7,648.3 1498.7,649.2 1499.7,650.0 1500.7,650.7 1501.7,651.4 1502.7,652.1 1503.7,652.8 1504.7,653.4 1505.7,654.0 1506.7,654.6 1507.7,655.2 1508.7,655.7 1509.7,656.2 1510.7,656.7 1511.7,657.1 1512.7,657.6 1513.7,658.0 1514.7,658.4 1515.7,658.8 1516.7,659.1 1517.7,659.5 1518.7,659.8 1519.7,660.1 1520.7,660.4 1521.7,660.7 1522.7,660.9 1523.7,661.2 1524.7,661.4 1525.7,661.6 1526.7,661.8 1527.7,662.0 1528.7,662.2 1529.7,662.4 1530.7,662.6 1531.7,662.7 1532.7,662.9 1533.7,663.0 1534.7,663.2 1535.7,663.3 1536.7,663.4 1537.7,663.5 1538.7,663.7 1539.7,663.8 1540.7,663.8 1541.7,663.9 1542.7,664.0 1543.7,664.1 1544.7,664.2 1545.7,664.3 1546.7,664.3 1547.7,664.4 1548.7,664.4 1549.7,664.5 1550.7,664.5 1551.7,664.6 1552.7,664.6 1553.7,664.7 1554.7,664.7 1555.7,664.8 1556.7,664.8 1557.7,664.8 1558.7,664.9 1559.7,664.9 1560.7,664.9 1561.7,664.9 1562.7,665.0 1563.7,665.0 1564.7,665.0 1565.7,665.0 1566.7,665.0 1567.7,665.1 1568.7,665.1 1569.7,665.1 1570.7,665.1 1571.7,665.1 1572.7,665.1 1573.7,665.1 1574.7,665.1 1575.7,665.2 1576.7,665.2 1577.7,665.2 1578.7,665.2 1579.7,665.2 1580.7,665.2 1581.7,665.2 1582.7,665.2 1583.7,665.2 1584.7,665.2 1585.7,665.2 1586.7,665.2 1587.7,665.2 1588.7,665.2 1589.7,665.2 1590.7,665.2 1591.7,665.2 1592.7,665.2 1593.7,665.2 1594.7,665.2 1595.7,665.2 1596.7,665.3 1597.7,665.3 1598.7,665.3 1599.7,665.3 1600.7,665.3 1601.7,665.3 1602.7,665.3 1603.7,665.3 1604.7,665.3 1605.7,665.3 1606.7,665.3 1607.7,665.3 1608.7,665.3 1609.7,665.3 1610.7,665.3 1611.7,665.3 1612.7,665.3 1613.7,665.3 1614.7,665.3 1615.7,665.3 1616.7,665.3 1617.7,665.3 1618.7,665.3 1619.7,665.3 1620.7,665.3 1621.7,665.3 1622.7,665.3 1623.7,665.3 1624.7,665.3 1625.7,665.3 1626.7,665.3 1627.7,665.3 1628.7,665.3 1629.7,665.3 1630.7,665.3 1631.7,665.3 1632.7,665.3 1633.7,665.3 1634.7,665.3 1635.7,665.3 1636.7,665.3 1637.7,665.3 1638.7,665.3 1639.7,665.3 1640.7,665.3 1641.7,665.3 1642.7,665.3 1643.7,665.3 1644.7,665.3 1645.7,665.3 1646.7,665.3 1647.7,665.3 1648.7,665.3 1649.7,665.3" fill="none" stroke="#141414" stroke-width="2.4" stroke-linejoin="round" stroke-linecap="round" />
<ellipse cx="1117.2" cy="665.3" rx="9" ry="10.3" fill="#141414"/>
<ellipse cx="1144.4" cy="665.1" rx="9" ry="10.3" fill="#141414"/>
<ellipse cx="1171.6" cy="664.3" rx="9" ry="10.3" fill="#141414"/>
<ellipse cx="1198.8" cy="660.1" rx="9" ry="10.3" fill="#141414"/>
<ellipse cx="1226.0" cy="643.3" rx="9" ry="10.3" fill="#141414"/>
<ellipse cx="1253.2" cy="594.5" rx="9" ry="10.3" fill="#141414"/>
<ellipse cx="1280.4" cy="490.5" rx="9" ry="10.3" fill="#141414"/>
<ellipse cx="1307.6" cy="334.3" rx="9" ry="10.3" fill="#141414"/>
<ellipse cx="1334.8" cy="185.1" rx="9" ry="10.3" fill="#141414"/>
<ellipse cx="1362.0" cy="131.6" rx="9" ry="10.3" fill="#141414"/>
<ellipse cx="1389.2" cy="210.8" rx="9" ry="10.3" fill="#141414"/>
<ellipse cx="1416.4" cy="368.7" rx="9" ry="10.3" fill="#141414"/>
<ellipse cx="1443.6" cy="517.0" rx="9" ry="10.3" fill="#141414"/>
<ellipse cx="1470.8" cy="608.5" rx="9" ry="10.3" fill="#141414"/>
<ellipse cx="1498.0" cy="648.6" rx="9" ry="10.3" fill="#141414"/>
<ellipse cx="1525.2" cy="661.5" rx="9" ry="10.3" fill="#141414"/>
<ellipse cx="1552.4" cy="664.6" rx="9" ry="10.3" fill="#141414"/>
<ellipse cx="1579.6" cy="665.2" rx="9" ry="10.3" fill="#141414"/>
<ellipse cx="1606.8" cy="665.3" rx="9" ry="10.3" fill="#141414"/>
<polyline points="991.7,665.9 992.7,665.9 993.7,665.9 994.7,665.9 995.7,665.9 996.7,665.9 997.7,665.9 998.7,665.9 999.7,665.9 1000.7,665.9 1001.7,665.9 1002.7,665.9 1003.7,665.9 1004.7,665.9 1005.7,665.9 1006.7,665.9 1007.7,665.9 1008.7,665.9 1009.7,665.9 1010.7,665.9 1011.7,665.9 1012.7,665.9 1013.7,665.9 1014.7,665.9 1015.7,665.9 1016.7,665.9 1017.7,665.9 1018.7,665.9 1019.7,665.9 1020.7,665.9 1021.7,665.9 1022.7,665.9 1023.7,665.9 1024.7,665.9 1025.7,665.9 1026.7,665.9 1027.7,665.9 1028.7,665.9 1029.7,665.9 1030.7,665.9 1031.7,665.9 1032.7,665.9 1033.7,665.9 1034.7,665.9 1035.7,665.9 1036.7,665.9 1037.7,665.9 1038.7,665.9 1039.7,665.9 1040.7,665.9 1041.7,665.9 1042.7,665.9 1043.7,665.9 1044.7,665.9 1045.7,665.9 1046.7,665.9 1047.7,665.9 1048.7,665.9 1049.7,665.9 1050.7,665.9 1051.7,665.9 1052.7,665.9 1053.7,665.9 1054.7,665.9 1055.7,665.9 1056.7,665.9 1057.7,665.9 1058.7,665.9 1059.7,665.9 1060.7,665.9 1061.7,665.9 1062.7,665.9 1063.7,665.9 1064.7,665.9 1065.7,665.9 1066.7,665.9 1067.7,665.9 1068.7,665.9 1069.7,665.9 1070.7,665.9 1071.7,665.9 1072.7,665.9 1073.7,665.9 1074.7,665.9 1075.7,665.9 1076.7,665.9 1077.7,665.9 1078.7,665.9 1079.7,665.9 1080.7,665.9 1081.7,665.9 1082.7,665.9 1083.7,665.9 1084.7,665.9 1085.7,665.9 1086.7,665.9 1087.7,665.9 1088.7,665.9 1089.7,665.9 1090.7,665.9 1091.7,665.9 1092.7,665.9 1093.7,665.9 1094.7,665.9 1095.7,665.8 1096.7,665.8 1097.7,665.8 1098.7,665.8 1099.7,665.8 1100.7,665.8 1101.7,665.8 1102.7,665.8 1103.7,665.8 1104.7,665.8 1105.7,665.8 1106.7,665.8 1107.7,665.8 1108.7,665.8 1109.7,665.8 1110.7,665.8 1111.7,665.8 1112.7,665.8 1113.7,665.8 1114.7,665.8 1115.7,665.8 1116.7,665.8 1117.7,665.8 1118.7,665.8 1119.7,665.8 1120.7,665.7 1121.7,665.7 1122.7,665.7 1123.7,665.7 1124.7,665.7 1125.7,665.7 1126.7,665.7 1127.7,665.7 1128.7,665.7 1129.7,665.7 1130.7,665.6 1131.7,665.6 1132.7,665.6 1133.7,665.6 1134.7,665.6 1135.7,665.6 1136.7,665.5 1137.7,665.5 1138.7,665.5 1139.7,665.5 1140.7,665.4 1141.7,665.4 1142.7,665.4 1143.7,665.4 1144.7,665.3 1145.7,665.3 1146.7,665.3 1147.7,665.2 1148.7,665.2 1149.7,665.2 1150.7,665.1 1151.7,665.1 1152.7,665.0 1153.7,665.0 1154.7,664.9 1155.7,664.9 1156.7,664.8 1157.7,664.7 1158.7,664.7 1159.7,664.6 1160.7,664.5 1161.7,664.5 1162.7,664.4 1163.7,664.3 1164.7,664.2 1165.7,664.1 1166.7,664.0 1167.7,663.9 1168.7,663.8 1169.7,663.7 1170.7,663.6 1171.7,663.5 1172.7,663.4 1173.7,663.2 1174.7,663.1 1175.7,663.0 1176.7,662.8 1177.7,662.7 1178.7,662.5 1179.7,662.3 1180.7,662.1 1181.7,661.9 1182.7,661.8 1183.7,661.5 1184.7,661.3 1185.7,661.1 1186.7,660.9 1187.7,660.6 1188.7,660.4 1189.7,660.1 1190.7,659.8 1191.7,659.5 1192.7,659.2 1193.7,658.9 1194.7,658.6 1195.7,658.3 1196.7,657.9 1197.7,657.5 1198.7,657.2 1199.7,656.8 1200.7,656.3 1201.7,655.9 1202.7,655.5 1203.7,655.0 1204.7,654.5 1205.7,654.0 1206.7,653.5 1207.7,652.9 1208.7,652.4 1209.7,651.8 1210.7,651.2 1211.7,650.6 1212.7,649.9 1213.7,649.2 1214.7,648.5 1215.7,647.8 1216.7,647.1 1217.7,646.3 1218.7,645.5 1219.7,644.7 1220.7,643.8 1221.7,642.9 1222.7,642.0 1223.7,641.0 1224.7,640.1 1225.7,639.1 1226.7,638.0 1227.7,636.9 1228.7,635.8 1229.7,634.7 1230.7,633.5 1231.7,632.3 1232.7,631.0 1233.7,629.7 1234.7,628.4 1235.7,627.0 1236.7,625.6 1237.7,624.1 1238.7,622.6 1239.7,621.1 1240.7,619.5 1241.7,617.9 1242.7,616.2 1243.7,614.5 1244.7,612.7 1245.7,610.9 1246.7,609.1 1247.7,607.1 1248.7,605.2 1249.7,603.2 1250.7,601.1 1251.7,599.0 1252.7,596.8 1253.7,594.6 1254.7,592.4 1255.7,590.0 1256.7,587.7 1257.7,585.2 1258.7,582.7 1259.7,580.2 1260.7,577.6 1261.7,574.9 1262.7,572.2 1263.7,569.5 1264.7,566.6 1265.7,563.7 1266.7,560.8 1267.7,557.8 1268.7,554.7 1269.7,551.6 1270.7,548.4 1271.7,545.2 1272.7,541.9 1273.7,538.5 1274.7,535.1 1275.7,531.7 1276.7,528.1 1277.7,524.5 1278.7,520.9 1279.7,517.2 1280.7,513.4 1281.7,509.6 1282.7,505.7 1283.7,501.8 1284.7,497.8 1285.7,493.7 1286.7,489.6 1287.7,485.5 1288.7,481.3 1289.7,477.0 1290.7,472.7 1291.7,468.3 1292.7,463.9 1293.7,459.5 1294.7,455.0 1295.7,450.4 1296.7,445.8 1297.7,441.2 1298.7,436.5 1299.7,431.8 1300.7,427.0 1301.7,422.2 1302.7,417.4 1303.7,412.5 1304.7,407.6 1305.7,402.7 1306.7,397.7 1307.7,392.7 1308.7,387.7 1309.7,382.7 1310.7,377.6 1311.7,372.6 1312.7,367.5 1313.7,362.4 1314.7,357.3 1315.7,352.1 1316.7,347.0 1317.7,341.9 1318.7,336.7 1319.7,331.6 1320.7,326.4 1321.7,321.3 1322.7,316.2 1323.7,311.1 1324.7,306.0 1325.7,300.9 1326.7,295.8 1327.7,290.8 1328.7,285.8 1329.7,280.8 1330.7,275.8 1331.7,270.9 1332.7,266.0 1333.7,261.1 1334.7,256.3 1335.7,251.5 1336.7,246.8 1337.7,242.1 1338.7,237.5 1339.7,232.9 1340.7,228.4 1341.7,224.0 1342.7,219.6 1343.7,215.2 1344.7,211.0 1345.7,206.8 1346.7,202.7 1347.7,198.7 1348.7,194.7 1349.7,190.9 1350.7,187.1 1351.7,183.4 1352.7,179.8 1353.7,176.3 1354.7,172.8 1355.7,169.5 1356.7,166.3 1357.7,163.2 1358.7,160.2 1359.7,157.3 1360.7,154.5 1361.7,151.8 1362.7,149.2 1363.7,146.7 1364.7,144.4 1365.7,142.2 1366.7,140.0 1367.7,138.1 1368.7,136.2 1369.7,134.4 1370.7,132.8 1371.7,131.3 1372.7,129.9 1373.7,128.7 1374.7,127.6 1375.7,126.6 1376.7,125.7 1377.7,125.0 1378.7,124.4 1379.7,124.0 1380.7,123.6 1381.7,123.4 1382.7,123.4 1383.7,123.4 1384.7,123.6 1385.7,124.0 1386.7,124.4 1387.7,125.0 1388.7,125.7 1389.7,126.6 1390.7,127.6 1391.7,128.7 1392.7,129.9 1393.7,131.3 1394.7,132.8 1395.7,134.4 1396.7,136.2 1397.7,138.1 1398.7,140.0 1399.7,142.2 1400.7,144.4 1401.7,146.7 1402.7,149.2 1403.7,151.8 1404.7,154.5 1405.7,157.3 1406.7,160.2 1407.7,163.2 1408.7,166.3 1409.7,169.5 1410.7,172.8 1411.7,176.3 1412.7,179.8 1413.7,183.4 1414.7,187.1 1415.7,190.9 1416.7,194.7 1417.7,198.7 1418.7,202.7 1419.7,206.8 1420.7,211.0 1421.7,215.2 1422.7,219.6 1423.7,224.0 1424.7,228.4 1425.7,232.9 1426.7,237.5 1427.7,242.1 1428.7,246.8 1429.7,251.5 1430.7,256.3 1431.7,261.1 1432.7,266.0 1433.7,270.9 1434.7,275.8 1435.7,280.8 1436.7,285.8 1437.7,290.8 1438.7,295.8 1439.7,300.9 1440.7,306.0 1441.7,311.1 1442.7,316.2 1443.7,321.3 1444.7,326.4 1445.7,331.6 1446.7,336.7 1447.7,341.9 1448.7,347.0 1449.7,352.1 1450.7,357.3 1451.7,362.4 1452.7,367.5 1453.7,372.6 1454.7,377.6 1455.7,382.7 1456.7,387.7 1457.7,392.7 1458.7,397.7 1459.7,402.7 1460.7,407.6 1461.7,412.5 1462.7,417.4 1463.7,422.2 1464.7,427.0 1465.7,431.8 1466.7,436.5 1467.7,441.2 1468.7,445.8 1469.7,450.4 1470.7,455.0 1471.7,459.5 1472.7,463.9 1473.7,468.3 1474.7,472.7 1475.7,477.0 1476.7,481.3 1477.7,485.5 1478.7,489.6 1479.7,493.7 1480.7,497.8 1481.7,501.8 1482.7,505.7 1483.7,509.6 1484.7,513.4 1485.7,517.2 1486.7,520.9 1487.7,524.5 1488.7,528.1 1489.7,531.7 1490.7,535.1 1491.7,538.5 1492.7,541.9 1493.7,545.2 1494.7,548.4 1495.7,551.6 1496.7,554.7 1497.7,557.8 1498.7,560.8 1499.7,563.7 1500.7,566.6 1501.7,569.5 1502.7,572.2 1503.7,574.9 1504.7,577.6 1505.7,580.2 1506.7,582.7 1507.7,585.2 1508.7,587.7 1509.7,590.0 1510.7,592.4 1511.7,594.6 1512.7,596.8 1513.7,599.0 1514.7,601.1 1515.7,603.2 1516.7,605.2 1517.7,607.1 1518.7,609.1 1519.7,610.9 1520.7,612.7 1521.7,614.5 1522.7,616.2 1523.7,617.9 1524.7,619.5 1525.7,621.1 1526.7,622.6 1527.7,624.1 1528.7,625.6 1529.7,627.0 1530.7,628.4 1531.7,629.7 1532.7,631.0 1533.7,632.3 1534.7,633.5 1535.7,634.7 1536.7,635.8 1537.7,636.9 1538.7,638.0 1539.7,639.1 1540.7,640.1 1541.7,641.0 1542.7,642.0 1543.7,642.9 1544.7,643.8 1545.7,644.7 1546.7,645.5 1547.7,646.3 1548.7,647.1 1549.7,647.8 1550.7,648.5 1551.7,649.2 1552.7,649.9 1553.7,650.6 1554.7,651.2 1555.7,651.8 1556.7,652.4 1557.7,652.9 1558.7,653.5 1559.7,654.0 1560.7,654.5 1561.7,655.0 1562.7,655.5 1563.7,655.9 1564.7,656.3 1565.7,656.8 1566.7,657.2 1567.7,657.5 1568.7,657.9 1569.7,658.3 1570.7,658.6 1571.7,658.9 1572.7,659.2 1573.7,659.5 1574.7,659.8 1575.7,660.1 1576.7,660.4 1577.7,660.6 1578.7,660.9 1579.7,661.1 1580.7,661.3 1581.7,661.5 1582.7,661.8 1583.7,661.9 1584.7,662.1 1585.7,662.3 1586.7,662.5 1587.7,662.7 1588.7,662.8 1589.7,663.0 1590.7,663.1 1591.7,663.2 1592.7,663.4 1593.7,663.5 1594.7,663.6 1595.7,663.7 1596.7,663.8 1597.7,663.9 1598.7,664.0 1599.7,664.1 1600.7,664.2 1601.7,664.3 1602.7,664.4 1603.7,664.5 1604.7,664.5 1605.7,664.6 1606.7,664.7 1607.7,664.7 1608.7,664.8 1609.7,664.9 1610.7,664.9 1611.7,665.0 1612.7,665.0 1613.7,665.1 1614.7,665.1 1615.7,665.2 1616.7,665.2 1617.7,665.2 1618.7,665.3 1619.7,665.3 1620.7,665.3 1621.7,665.4 1622.7,665.4 1623.7,665.4 1624.7,665.4 1625.7,665.5 1626.7,665.5 1627.7,665.5 1628.7,665.5 1629.7,665.6 1630.7,665.6 1631.7,665.6 1632.7,665.6 1633.7,665.6 1634.7,665.6 1635.7,665.7 1636.7,665.7 1637.7,665.7 1638.7,665.7 1639.7,665.7 1640.7,665.7 1641.7,665.7 1642.7,665.7 1643.7,665.7 1644.7,665.7 1645.7,665.8 1646.7,665.8 1647.7,665.8 1648.7,665.8 1649.7,665.8 1650.7,665.8 1651.7,665.8 1652.7,665.8 1653.7,665.8 1654.7,665.8" fill="none" stroke="#141414" stroke-width="2.4" stroke-linejoin="round" stroke-linecap="round" />
<ellipse cx="1187.7" cy="660.6" rx="8.4" ry="9.7" fill="none" stroke="#141414" stroke-width="1.3"/>
<line x1="1179.3" y1="660.6" x2="1196.1" y2="660.6" stroke="#141414" stroke-width="1.3"/>
<ellipse cx="1226.0" cy="638.7" rx="8.4" ry="9.7" fill="none" stroke="#141414" stroke-width="1.3"/>
<line x1="1217.6" y1="638.7" x2="1234.4" y2="638.7" stroke="#141414" stroke-width="1.3"/>
<ellipse cx="1264.3" cy="567.8" rx="8.4" ry="9.7" fill="none" stroke="#141414" stroke-width="1.3"/>
<line x1="1255.9" y1="567.8" x2="1272.7" y2="567.8" stroke="#141414" stroke-width="1.3"/>
<ellipse cx="1302.6" cy="417.9" rx="8.4" ry="9.7" fill="none" stroke="#141414" stroke-width="1.3"/>
<line x1="1294.2" y1="417.9" x2="1311.0" y2="417.9" stroke="#141414" stroke-width="1.3"/>
<ellipse cx="1340.9" cy="227.5" rx="8.4" ry="9.7" fill="none" stroke="#141414" stroke-width="1.3"/>
<line x1="1332.5" y1="227.5" x2="1349.3" y2="227.5" stroke="#141414" stroke-width="1.3"/>
<ellipse cx="1379.2" cy="124.2" rx="8.4" ry="9.7" fill="none" stroke="#141414" stroke-width="1.3"/>
<line x1="1370.8" y1="124.2" x2="1387.6" y2="124.2" stroke="#141414" stroke-width="1.3"/>
<ellipse cx="1417.5" cy="197.9" rx="8.4" ry="9.7" fill="none" stroke="#141414" stroke-width="1.3"/>
<line x1="1409.1" y1="197.9" x2="1425.9" y2="197.9" stroke="#141414" stroke-width="1.3"/>
<ellipse cx="1455.8" cy="383.2" rx="8.4" ry="9.7" fill="none" stroke="#141414" stroke-width="1.3"/>
<line x1="1447.4" y1="383.2" x2="1464.2" y2="383.2" stroke="#141414" stroke-width="1.3"/>
<ellipse cx="1494.1" cy="546.5" rx="8.4" ry="9.7" fill="none" stroke="#141414" stroke-width="1.3"/>
<line x1="1485.7" y1="546.5" x2="1502.5" y2="546.5" stroke="#141414" stroke-width="1.3"/>
<ellipse cx="1532.4" cy="630.6" rx="8.4" ry="9.7" fill="none" stroke="#141414" stroke-width="1.3"/>
<line x1="1524.0" y1="630.6" x2="1540.8" y2="630.6" stroke="#141414" stroke-width="1.3"/>
<ellipse cx="1570.7" cy="658.6" rx="8.4" ry="9.7" fill="none" stroke="#141414" stroke-width="1.3"/>
<line x1="1562.3" y1="658.6" x2="1579.1" y2="658.6" stroke="#141414" stroke-width="1.3"/>
<ellipse cx="1609.0" cy="664.8" rx="8.4" ry="9.7" fill="none" stroke="#141414" stroke-width="1.3"/>
<line x1="1600.6" y1="664.8" x2="1617.4" y2="664.8" stroke="#141414" stroke-width="1.3"/>
<ellipse cx="1647.3" cy="665.8" rx="8.4" ry="9.7" fill="none" stroke="#141414" stroke-width="1.3"/>
<line x1="1638.9" y1="665.8" x2="1655.7" y2="665.8" stroke="#141414" stroke-width="1.3"/>
<polyline points="991.7,667.1 992.7,667.1 993.7,667.1 994.7,667.1 995.7,667.1 996.7,667.1 997.7,667.1 998.7,667.1 999.7,667.1 1000.7,667.1 1001.7,667.1 1002.7,667.1 1003.7,667.1 1004.7,667.1 1005.7,667.1 1006.7,667.1 1007.7,667.1 1008.7,667.1 1009.7,667.1 1010.7,667.1 1011.7,667.1 1012.7,667.1 1013.7,667.1 1014.7,667.1 1015.7,667.1 1016.7,667.1 1017.7,667.1 1018.7,667.1 1019.7,667.1 1020.7,667.1 1021.7,667.1 1022.7,667.1 1023.7,667.1 1024.7,667.1 1025.7,667.1 1026.7,667.1 1027.7,667.1 1028.7,667.1 1029.7,667.1 1030.7,667.1 1031.7,667.1 1032.7,667.1 1033.7,667.1 1034.7,667.1 1035.7,667.1 1036.7,667.1 1037.7,667.1 1038.7,667.1 1039.7,667.1 1040.7,667.1 1041.7,667.1 1042.7,667.1 1043.7,667.1 1044.7,667.1 1045.7,667.1 1046.7,667.1 1047.7,667.1 1048.7,667.1 1049.7,667.1 1050.7,667.1 1051.7,667.1 1052.7,667.1 1053.7,667.1 1054.7,667.1 1055.7,667.1 1056.7,667.1 1057.7,667.1 1058.7,667.1 1059.7,667.1 1060.7,667.1 1061.7,667.1 1062.7,667.1 1063.7,667.1 1064.7,667.1 1065.7,667.1 1066.7,667.1 1067.7,667.1 1068.7,667.1 1069.7,667.1 1070.7,667.1 1071.7,667.1 1072.7,667.1 1073.7,667.1 1074.7,667.1 1075.7,667.1 1076.7,667.1 1077.7,667.1 1078.7,667.1 1079.7,667.1 1080.7,667.1 1081.7,667.1 1082.7,667.1 1083.7,667.1 1084.7,667.1 1085.7,667.1 1086.7,667.1 1087.7,667.1 1088.7,667.1 1089.7,667.1 1090.7,667.1 1091.7,667.1 1092.7,667.1 1093.7,667.1 1094.7,667.1 1095.7,667.1 1096.7,667.1 1097.7,667.1 1098.7,667.1 1099.7,667.1 1100.7,667.1 1101.7,667.1 1102.7,667.1 1103.7,667.1 1104.7,667.1 1105.7,667.1 1106.7,667.1 1107.7,667.1 1108.7,667.1 1109.7,667.1 1110.7,667.1 1111.7,667.1 1112.7,667.1 1113.7,667.1 1114.7,667.1 1115.7,667.1 1116.7,667.1 1117.7,667.1 1118.7,667.1 1119.7,667.1 1120.7,667.1 1121.7,667.1 1122.7,667.1 1123.7,667.1 1124.7,667.1 1125.7,667.1 1126.7,667.1 1127.7,667.1 1128.7,667.1 1129.7,667.1 1130.7,667.1 1131.7,667.0 1132.7,667.0 1133.7,667.0 1134.7,667.0 1135.7,667.0 1136.7,667.0 1137.7,667.0 1138.7,667.0 1139.7,667.0 1140.7,667.0 1141.7,667.0 1142.7,667.0 1143.7,667.0 1144.7,666.9 1145.7,666.9 1146.7,666.9 1147.7,666.9 1148.7,666.9 1149.7,666.9 1150.7,666.9 1151.7,666.9 1152.7,666.8 1153.7,666.8 1154.7,666.8 1155.7,666.8 1156.7,666.8 1157.7,666.7 1158.7,666.7 1159.7,666.7 1160.7,666.7 1161.7,666.6 1162.7,666.6 1163.7,666.6 1164.7,666.6 1165.7,666.5 1166.7,666.5 1167.7,666.5 1168.7,666.4 1169.7,666.4 1170.7,666.3 1171.7,666.3 1172.7,666.2 1173.7,666.2 1174.7,666.1 1175.7,666.1 1176.7,666.0 1177.7,666.0 1178.7,665.9 1179.7,665.8 1180.7,665.8 1181.7,665.7 1182.7,665.6 1183.7,665.5 1184.7,665.5 1185.7,665.4 1186.7,665.3 1187.7,665.2 1188.7,665.1 1189.7,665.0 1190.7,664.9 1191.7,664.8 1192.7,664.6 1193.7,664.5 1194.7,664.4 1195.7,664.2 1196.7,664.1 1197.7,663.9 1198.7,663.8 1199.7,663.6 1200.7,663.5 1201.7,663.3 1202.7,663.1 1203.7,662.9 1204.7,662.7 1205.7,662.5 1206.7,662.3 1207.7,662.0 1208.7,661.8 1209.7,661.6 1210.7,661.3 1211.7,661.0 1212.7,660.7 1213.7,660.5 1214.7,660.2 1215.7,659.8 1216.7,659.5 1217.7,659.2 1218.7,658.8 1219.7,658.5 1220.7,658.1 1221.7,657.7 1222.7,657.3 1223.7,656.8 1224.7,656.4 1225.7,655.9 1226.7,655.5 1227.7,655.0 1228.7,654.5 1229.7,653.9 1230.7,653.4 1231.7,652.8 1232.7,652.2 1233.7,651.6 1234.7,651.0 1235.7,650.3 1236.7,649.6 1237.7,648.9 1238.7,648.2 1239.7,647.5 1240.7,646.7 1241.7,645.9 1242.7,645.1 1243.7,644.2 1244.7,643.4 1245.7,642.5 1246.7,641.5 1247.7,640.6 1248.7,639.6 1249.7,638.5 1250.7,637.5 1251.7,636.4 1252.7,635.3 1253.7,634.1 1254.7,632.9 1255.7,631.7 1256.7,630.4 1257.7,629.1 1258.7,627.8 1259.7,626.4 1260.7,625.0 1261.7,623.6 1262.7,622.1 1263.7,620.6 1264.7,619.0 1265.7,617.4 1266.7,615.7 1267.7,614.1 1268.7,612.3 1269.7,610.5 1270.7,608.7 1271.7,606.8 1272.7,604.9 1273.7,603.0 1274.7,600.9 1275.7,598.9 1276.7,596.8 1277.7,594.6 1278.7,592.4 1279.7,590.2 1280.7,587.8 1281.7,585.5 1282.7,583.1 1283.7,580.6 1284.7,578.1 1285.7,575.5 1286.7,572.9 1287.7,570.3 1288.7,567.5 1289.7,564.8 1290.7,561.9 1291.7,559.0 1292.7,556.1 1293.7,553.1 1294.7,550.1 1295.7,547.0 1296.7,543.8 1297.7,540.6 1298.7,537.3 1299.7,534.0 1300.7,530.6 1301.7,527.2 1302.7,523.7 1303.7,520.2 1304.7,516.6 1305.7,513.0 1306.7,509.3 1307.7,505.5 1308.7,501.7 1309.7,497.9 1310.7,494.0 1311.7,490.0 1312.7,486.0 1313.7,482.0 1314.7,477.9 1315.7,473.8 1316.7,469.6 1317.7,465.3 1318.7,461.1 1319.7,456.7 1320.7,452.4 1321.7,448.0 1322.7,443.5 1323.7,439.0 1324.7,434.5 1325.7,430.0 1326.7,425.4 1327.7,420.7 1328.7,416.1 1329.7,411.4 1330.7,406.7 1331.7,401.9 1332.7,397.2 1333.7,392.4 1334.7,387.5 1335.7,382.7 1336.7,377.8 1337.7,373.0 1338.7,368.1 1339.7,363.2 1340.7,358.3 1341.7,353.4 1342.7,348.4 1343.7,343.5 1344.7,338.6 1345.7,333.6 1346.7,328.7 1347.7,323.8 1348.7,318.8 1349.7,313.9 1350.7,309.0 1351.7,304.1 1352.7,299.3 1353.7,294.4 1354.7,289.6 1355.7,284.8 1356.7,280.0 1357.7,275.2 1358.7,270.5 1359.7,265.8 1360.7,261.2 1361.7,256.5 1362.7,252.0 1363.7,247.4 1364.7,242.9 1365.7,238.5 1366.7,234.1 1367.7,229.8 1368.7,225.5 1369.7,221.3 1370.7,217.1 1371.7,213.0 1372.7,209.0 1373.7,205.0 1374.7,201.1 1375.7,197.3 1376.7,193.6 1377.7,189.9 1378.7,186.3 1379.7,182.8 1380.7,179.4 1381.7,176.1 1382.7,172.8 1383.7,169.7 1384.7,166.6 1385.7,163.6 1386.7,160.8 1387.7,158.0 1388.7,155.3 1389.7,152.7 1390.7,150.3 1391.7,147.9 1392.7,145.6 1393.7,143.5 1394.7,141.5 1395.7,139.5 1396.7,137.7 1397.7,136.0 1398.7,134.4 1399.7,132.9 1400.7,131.6 1401.7,130.3 1402.7,129.2 1403.7,128.2 1404.7,127.3 1405.7,126.6 1406.7,125.9 1407.7,125.4 1408.7,125.0 1409.7,124.7 1410.7,124.5 1411.7,124.5 1412.7,124.6 1413.7,124.8 1414.7,125.1 1415.7,125.6 1416.7,126.2 1417.7,126.9 1418.7,127.7 1419.7,128.6 1420.7,129.6 1421.7,130.8 1422.7,132.1 1423.7,133.5 1424.7,135.0 1425.7,136.7 1426.7,138.4 1427.7,140.3 1428.7,142.3 1429.7,144.3 1430.7,146.5 1431.7,148.8 1432.7,151.2 1433.7,153.8 1434.7,156.4 1435.7,159.1 1436.7,161.9 1437.7,164.8 1438.7,167.8 1439.7,170.9 1440.7,174.1 1441.7,177.4 1442.7,180.8 1443.7,184.2 1444.7,187.8 1445.7,191.4 1446.7,195.1 1447.7,198.8 1448.7,202.7 1449.7,206.6 1450.7,210.6 1451.7,214.7 1452.7,218.8 1453.7,223.0 1454.7,227.2 1455.7,231.5 1456.7,235.9 1457.7,240.3 1458.7,244.7 1459.7,249.2 1460.7,253.8 1461.7,258.4 1462.7,263.0 1463.7,267.7 1464.7,272.4 1465.7,277.1 1466.7,281.9 1467.7,286.7 1468.7,291.5 1469.7,296.3 1470.7,301.2 1471.7,306.1 1472.7,311.0 1473.7,315.9 1474.7,320.8 1475.7,325.7 1476.7,330.7 1477.7,335.6 1478.7,340.5 1479.7,345.5 1480.7,350.4 1481.7,355.3 1482.7,360.2 1483.7,365.1 1484.7,370.0 1485.7,374.9 1486.7,379.8 1487.7,384.6 1488.7,389.5 1489.7,394.3 1490.7,399.1 1491.7,403.8 1492.7,408.6 1493.7,413.3 1494.7,417.9 1495.7,422.6 1496.7,427.2 1497.7,431.8 1498.7,436.3 1499.7,440.8 1500.7,445.3 1501.7,449.7 1502.7,454.1 1503.7,458.5 1504.7,462.8 1505.7,467.0 1506.7,471.2 1507.7,475.4 1508.7,479.5 1509.7,483.6 1510.7,487.6 1511.7,491.6 1512.7,495.5 1513.7,499.4 1514.7,503.3 1515.7,507.0 1516.7,510.8 1517.7,514.4 1518.7,518.1 1519.7,521.6 1520.7,525.1 1521.7,528.6 1522.7,532.0 1523.7,535.3 1524.7,538.6 1525.7,541.9 1526.7,545.1 1527.7,548.2 1528.7,551.3 1529.7,554.3 1530.7,557.3 1531.7,560.2 1532.7,563.1 1533.7,565.9 1534.7,568.6 1535.7,571.3 1536.7,574.0 1537.7,576.6 1538.7,579.1 1539.7,581.6 1540.7,584.1 1541.7,586.4 1542.7,588.8 1543.7,591.1 1544.7,593.3 1545.7,595.5 1546.7,597.6 1547.7,599.7 1548.7,601.8 1549.7,603.7 1550.7,605.7 1551.7,607.6 1552.7,609.4 1553.7,611.3 1554.7,613.0 1555.7,614.7 1556.7,616.4 1557.7,618.0 1558.7,619.6 1559.7,621.2 1560.7,622.7 1561.7,624.2 1562.7,625.6 1563.7,627.0 1564.7,628.4 1565.7,629.7 1566.7,631.0 1567.7,632.2 1568.7,633.4 1569.7,634.6 1570.7,635.7 1571.7,636.8 1572.7,637.9 1573.7,638.9 1574.7,640.0 1575.7,640.9 1576.7,641.9 1577.7,642.8 1578.7,643.7 1579.7,644.6 1580.7,645.4 1581.7,646.2 1582.7,647.0 1583.7,647.8 1584.7,648.5 1585.7,649.2 1586.7,649.9 1587.7,650.6 1588.7,651.2 1589.7,651.9 1590.7,652.5 1591.7,653.0 1592.7,653.6 1593.7,654.1 1594.7,654.7 1595.7,655.2 1596.7,655.7 1597.7,656.1 1598.7,656.6 1599.7,657.0 1600.7,657.4 1601.7,657.8 1602.7,658.2 1603.7,658.6 1604.7,659.0 1605.7,659.3 1606.7,659.6 1607.7,660.0 1608.7,660.3 1609.7,660.6 1610.7,660.9 1611.7,661.1 1612.7,661.4 1613.7,661.7 1614.7,661.9 1615.7,662.1 1616.7,662.4 1617.7,662.6 1618.7,662.8 1619.7,663.0 1620.7,663.2 1621.7,663.4 1622.7,663.5 1623.7,663.7 1624.7,663.9 1625.7,664.0 1626.7,664.2 1627.7,664.3 1628.7,664.4 1629.7,664.6 1630.7,664.7 1631.7,664.8 1632.7,664.9 1633.7,665.0 1634.7,665.1 1635.7,665.2 1636.7,665.3 1637.7,665.4 1638.7,665.5 1639.7,665.6 1640.7,665.7 1641.7,665.7 1642.7,665.8 1643.7,665.9 1644.7,665.9 1645.7,666.0 1646.7,666.0 1647.7,666.1 1648.7,666.2 1649.7,666.2 1650.7,666.3 1651.7,666.3 1652.7,666.3 1653.7,666.4 1654.7,666.4 1655.7,666.5 1656.7,666.5 1657.7,666.5 1658.7,666.6 1659.7,666.6 1660.7,666.6 1661.7,666.7 1662.7,666.7 1663.7,666.7 1664.7,666.7 1665.7,666.8 1666.7,666.8 1667.7,666.8 1668.7,666.8 1669.7,666.8 1670.7,666.8 1671.7,666.9 1672.7,666.9 1673.7,666.9 1674.7,666.9 1675.7,666.9 1676.7,666.9 1677.7,666.9 1678.7,667.0 1679.7,667.0 1680.7,667.0 1681.7,667.0 1682.7,667.0 1683.7,667.0 1684.7,667.0 1685.7,667.0 1686.7,667.0" fill="none" stroke="#141414" stroke-width="2.4" stroke-linejoin="round" stroke-linecap="round" />
<polygon points="1084.0,660.0 1105.5,660.0 1094.8,681.5" fill="#141414"/>
<polygon points="1119.3,659.9 1140.8,659.9 1130.1,681.4" fill="#141414"/>
<polygon points="1154.7,659.4 1176.2,659.4 1165.4,680.9" fill="#141414"/>
<polygon points="1190.0,656.3 1211.5,656.3 1200.7,677.8" fill="#141414"/>
<polygon points="1225.2,643.0 1246.8,643.0 1236.0,664.5" fill="#141414"/>
<polygon points="1260.5,600.4 1282.0,600.4 1271.3,621.9" fill="#141414"/>
<polygon points="1295.8,502.5 1317.3,502.5 1306.6,524.0" fill="#141414"/>
<polygon points="1331.2,345.2 1352.7,345.2 1341.9,366.7" fill="#141414"/>
<polygon points="1366.5,184.6 1388.0,184.6 1377.2,206.1" fill="#141414"/>
<polygon points="1401.8,117.4 1423.2,117.4 1412.5,138.9" fill="#141414"/>
<polygon points="1437.0,192.1 1458.5,192.1 1447.8,213.6" fill="#141414"/>
<polygon points="1472.3,355.0 1493.8,355.0 1483.1,376.5" fill="#141414"/>
<polygon points="1507.7,509.8 1529.2,509.8 1518.4,531.3" fill="#141414"/>
<polygon points="1543.0,604.1 1564.5,604.1 1553.7,625.6" fill="#141414"/>
<polygon points="1578.2,644.3 1599.8,644.3 1589.0,665.8" fill="#141414"/>
<polygon points="1613.5,656.6 1635.0,656.6 1624.3,678.1" fill="#141414"/>
<polygon points="1648.8,659.4 1670.3,659.4 1659.6,680.9" fill="#141414"/>
<polyline points="991.7,667.7 992.7,667.7 993.7,667.7 994.7,667.7 995.7,667.7 996.7,667.7 997.7,667.7 998.7,667.7 999.7,667.7 1000.7,667.7 1001.7,667.7 1002.7,667.7 1003.7,667.7 1004.7,667.7 1005.7,667.7 1006.7,667.7 1007.7,667.7 1008.7,667.7 1009.7,667.7 1010.7,667.7 1011.7,667.7 1012.7,667.7 1013.7,667.7 1014.7,667.7 1015.7,667.7 1016.7,667.7 1017.7,667.7 1018.7,667.7 1019.7,667.7 1020.7,667.7 1021.7,667.7 1022.7,667.7 1023.7,667.7 1024.7,667.7 1025.7,667.7 1026.7,667.7 1027.7,667.7 1028.7,667.7 1029.7,667.7 1030.7,667.7 1031.7,667.7 1032.7,667.7 1033.7,667.7 1034.7,667.7 1035.7,667.7 1036.7,667.7 1037.7,667.7 1038.7,667.7 1039.7,667.7 1040.7,667.7 1041.7,667.7 1042.7,667.7 1043.7,667.7 1044.7,667.7 1045.7,667.7 1046.7,667.7 1047.7,667.7 1048.7,667.7 1049.7,667.7 1050.7,667.7 1051.7,667.7 1052.7,667.7 1053.7,667.7 1054.7,667.7 1055.7,667.7 1056.7,667.7 1057.7,667.7 1058.7,667.7 1059.7,667.7 1060.7,667.7 1061.7,667.7 1062.7,667.7 1063.7,667.7 1064.7,667.7 1065.7,667.7 1066.7,667.7 1067.7,667.7 1068.7,667.7 1069.7,667.7 1070.7,667.7 1071.7,667.7 1072.7,667.7 1073.7,667.7 1074.7,667.7 1075.7,667.7 1076.7,667.7 1077.7,667.7 1078.7,667.7 1079.7,667.7 1080.7,667.7 1081.7,667.7 1082.7,667.7 1083.7,667.7 1084.7,667.7 1085.7,667.7 1086.7,667.7 1087.7,667.7 1088.7,667.7 1089.7,667.7 1090.7,667.7 1091.7,667.7 1092.7,667.7 1093.7,667.7 1094.7,667.7 1095.7,667.7 1096.7,667.7 1097.7,667.7 1098.7,667.7 1099.7,667.7 1100.7,667.7 1101.7,667.7 1102.7,667.7 1103.7,667.7 1104.7,667.7 1105.7,667.7 1106.7,667.7 1107.7,667.7 1108.7,667.7 1109.7,667.7 1110.7,667.7 1111.7,667.7 1112.7,667.7 1113.7,667.7 1114.7,667.7 1115.7,667.7 1116.7,667.7 1117.7,667.7 1118.7,667.7 1119.7,667.7 1120.7,667.7 1121.7,667.7 1122.7,667.7 1123.7,667.7 1124.7,667.7 1125.7,667.7 1126.7,667.7 1127.7,667.7 1128.7,667.7 1129.7,667.7 1130.7,667.7 1131.7,667.7 1132.7,667.7 1133.7,667.7 1134.7,667.7 1135.7,667.7 1136.7,667.7 1137.7,667.7 1138.7,667.7 1139.7,667.7 1140.7,667.7 1141.7,667.7 1142.7,667.7 1143.7,667.7 1144.7,667.7 1145.7,667.7 1146.7,667.7 1147.7,667.7 1148.7,667.7 1149.7,667.7 1150.7,667.7 1151.7,667.7 1152.7,667.7 1153.7,667.7 1154.7,667.6 1155.7,667.6 1156.7,667.6 1157.7,667.6 1158.7,667.6 1159.7,667.6 1160.7,667.6 1161.7,667.6 1162.7,667.6 1163.7,667.6 1164.7,667.6 1165.7,667.6 1166.7,667.5 1167.7,667.5 1168.7,667.5 1169.7,667.5 1170.7,667.5 1171.7,667.5 1172.7,667.5 1173.7,667.5 1174.7,667.4 1175.7,667.4 1176.7,667.4 1177.7,667.4 1178.7,667.4 1179.7,667.3 1180.7,667.3 1181.7,667.3 1182.7,667.3 1183.7,667.2 1184.7,667.2 1185.7,667.2 1186.7,667.1 1187.7,667.1 1188.7,667.1 1189.7,667.0 1190.7,667.0 1191.7,667.0 1192.7,666.9 1193.7,666.9 1194.7,666.8 1195.7,666.8 1196.7,666.7 1197.7,666.7 1198.7,666.6 1199.7,666.5 1200.7,666.5 1201.7,666.4 1202.7,666.3 1203.7,666.3 1204.7,666.2 1205.7,666.1 1206.7,666.0 1207.7,665.9 1208.7,665.8 1209.7,665.7 1210.7,665.6 1211.7,665.5 1212.7,665.4 1213.7,665.3 1214.7,665.2 1215.7,665.0 1216.7,664.9 1217.7,664.8 1218.7,664.6 1219.7,664.5 1220.7,664.3 1221.7,664.1 1222.7,664.0 1223.7,663.8 1224.7,663.6 1225.7,663.4 1226.7,663.2 1227.7,662.9 1228.7,662.7 1229.7,662.5 1230.7,662.2 1231.7,662.0 1232.7,661.7 1233.7,661.4 1234.7,661.1 1235.7,660.8 1236.7,660.5 1237.7,660.2 1238.7,659.9 1239.7,659.5 1240.7,659.1 1241.7,658.7 1242.7,658.3 1243.7,657.9 1244.7,657.5 1245.7,657.1 1246.7,656.6 1247.7,656.1 1248.7,655.6 1249.7,655.1 1250.7,654.6 1251.7,654.0 1252.7,653.5 1253.7,652.9 1254.7,652.2 1255.7,651.6 1256.7,650.9 1257.7,650.3 1258.7,649.6 1259.7,648.8 1260.7,648.1 1261.7,647.3 1262.7,646.5 1263.7,645.7 1264.7,644.8 1265.7,643.9 1266.7,643.0 1267.7,642.0 1268.7,641.1 1269.7,640.1 1270.7,639.0 1271.7,637.9 1272.7,636.8 1273.7,635.7 1274.7,634.5 1275.7,633.3 1276.7,632.1 1277.7,630.8 1278.7,629.5 1279.7,628.1 1280.7,626.7 1281.7,625.3 1282.7,623.8 1283.7,622.3 1284.7,620.7 1285.7,619.1 1286.7,617.5 1287.7,615.8 1288.7,614.1 1289.7,612.3 1290.7,610.5 1291.7,608.6 1292.7,606.7 1293.7,604.8 1294.7,602.8 1295.7,600.7 1296.7,598.6 1297.7,596.4 1298.7,594.2 1299.7,592.0 1300.7,589.7 1301.7,587.3 1302.7,584.9 1303.7,582.4 1304.7,579.9 1305.7,577.3 1306.7,574.7 1307.7,572.0 1308.7,569.3 1309.7,566.5 1310.7,563.6 1311.7,560.7 1312.7,557.8 1313.7,554.8 1314.7,551.7 1315.7,548.6 1316.7,545.4 1317.7,542.2 1318.7,538.9 1319.7,535.5 1320.7,532.1 1321.7,528.6 1322.7,525.1 1323.7,521.5 1324.7,517.9 1325.7,514.2 1326.7,510.5 1327.7,506.7 1328.7,502.8 1329.7,498.9 1330.7,495.0 1331.7,491.0 1332.7,486.9 1333.7,482.8 1334.7,478.6 1335.7,474.4 1336.7,470.2 1337.7,465.8 1338.7,461.5 1339.7,457.1 1340.7,452.7 1341.7,448.2 1342.7,443.6 1343.7,439.1 1344.7,434.4 1345.7,429.8 1346.7,425.1 1347.7,420.4 1348.7,415.6 1349.7,410.8 1350.7,406.0 1351.7,401.2 1352.7,396.3 1353.7,391.4 1354.7,386.4 1355.7,381.5 1356.7,376.5 1357.7,371.5 1358.7,366.5 1359.7,361.5 1360.7,356.5 1361.7,351.4 1362.7,346.4 1363.7,341.3 1364.7,336.2 1365.7,331.2 1366.7,326.1 1367.7,321.0 1368.7,316.0 1369.7,310.9 1370.7,305.9 1371.7,300.9 1372.7,295.8 1373.7,290.9 1374.7,285.9 1375.7,280.9 1376.7,276.0 1377.7,271.1 1378.7,266.2 1379.7,261.4 1380.7,256.6 1381.7,251.8 1382.7,247.1 1383.7,242.4 1384.7,237.8 1385.7,233.2 1386.7,228.7 1387.7,224.2 1388.7,219.8 1389.7,215.4 1390.7,211.1 1391.7,206.9 1392.7,202.7 1393.7,198.6 1394.7,194.6 1395.7,190.7 1396.7,186.8 1397.7,183.0 1398.7,179.3 1399.7,175.7 1400.7,172.1 1401.7,168.7 1402.7,165.3 1403.7,162.0 1404.7,158.9 1405.7,155.8 1406.7,152.8 1407.7,149.9 1408.7,147.1 1409.7,144.5 1410.7,141.9 1411.7,139.4 1412.7,137.1 1413.7,134.9 1414.7,132.7 1415.7,130.7 1416.7,128.8 1417.7,127.1 1418.7,125.4 1419.7,123.9 1420.7,122.5 1421.7,121.2 1422.7,120.0 1423.7,118.9 1424.7,118.0 1425.7,117.2 1426.7,116.5 1427.7,116.0 1428.7,115.5 1429.7,115.2 1430.7,115.1 1431.7,115.0 1432.7,115.1 1433.7,115.3 1434.7,115.6 1435.7,116.1 1436.7,116.6 1437.7,117.3 1438.7,118.2 1439.7,119.1 1440.7,120.2 1441.7,121.4 1442.7,122.7 1443.7,124.2 1444.7,125.7 1445.7,127.4 1446.7,129.2 1447.7,131.1 1448.7,133.2 1449.7,135.3 1450.7,137.6 1451.7,139.9 1452.7,142.4 1453.7,145.0 1454.7,147.7 1455.7,150.5 1456.7,153.4 1457.7,156.4 1458.7,159.5 1459.7,162.7 1460.7,166.0 1461.7,169.3 1462.7,172.8 1463.7,176.4 1464.7,180.0 1465.7,183.8 1466.7,187.6 1467.7,191.5 1468.7,195.4 1469.7,199.5 1470.7,203.6 1471.7,207.7 1472.7,212.0 1473.7,216.3 1474.7,220.7 1475.7,225.1 1476.7,229.6 1477.7,234.1 1478.7,238.7 1479.7,243.4 1480.7,248.1 1481.7,252.8 1482.7,257.6 1483.7,262.4 1484.7,267.2 1485.7,272.1 1486.7,277.0 1487.7,281.9 1488.7,286.9 1489.7,291.8 1490.7,296.8 1491.7,301.9 1492.7,306.9 1493.7,311.9 1494.7,317.0 1495.7,322.0 1496.7,327.1 1497.7,332.2 1498.7,337.2 1499.7,342.3 1500.7,347.4 1501.7,352.4 1502.7,357.5 1503.7,362.5 1504.7,367.5 1505.7,372.5 1506.7,377.5 1507.7,382.5 1508.7,387.4 1509.7,392.4 1510.7,397.3 1511.7,402.1 1512.7,407.0 1513.7,411.8 1514.7,416.6 1515.7,421.3 1516.7,426.1 1517.7,430.7 1518.7,435.4 1519.7,440.0 1520.7,444.5 1521.7,449.1 1522.7,453.5 1523.7,458.0 1524.7,462.4 1525.7,466.7 1526.7,471.0 1527.7,475.3 1528.7,479.5 1529.7,483.6 1530.7,487.7 1531.7,491.8 1532.7,495.8 1533.7,499.7 1534.7,503.6 1535.7,507.4 1536.7,511.2 1537.7,515.0 1538.7,518.6 1539.7,522.3 1540.7,525.8 1541.7,529.3 1542.7,532.8 1543.7,536.2 1544.7,539.5 1545.7,542.8 1546.7,546.0 1547.7,549.2 1548.7,552.3 1549.7,555.4 1550.7,558.4 1551.7,561.3 1552.7,564.2 1553.7,567.1 1554.7,569.8 1555.7,572.6 1556.7,575.2 1557.7,577.9 1558.7,580.4 1559.7,582.9 1560.7,585.4 1561.7,587.8 1562.7,590.1 1563.7,592.4 1564.7,594.7 1565.7,596.9 1566.7,599.0 1567.7,601.1 1568.7,603.2 1569.7,605.2 1570.7,607.1 1571.7,609.0 1572.7,610.9 1573.7,612.7 1574.7,614.4 1575.7,616.2 1576.7,617.8 1577.7,619.5 1578.7,621.1 1579.7,622.6 1580.7,624.1 1581.7,625.6 1582.7,627.0 1583.7,628.4 1584.7,629.7 1585.7,631.0 1586.7,632.3 1587.7,633.6 1588.7,634.8 1589.7,635.9 1590.7,637.1 1591.7,638.2 1592.7,639.2 1593.7,640.3 1594.7,641.3 1595.7,642.2 1596.7,643.2 1597.7,644.1 1598.7,645.0 1599.7,645.8 1600.7,646.6 1601.7,647.4 1602.7,648.2 1603.7,649.0 1604.7,649.7 1605.7,650.4 1606.7,651.1 1607.7,651.7 1608.7,652.4 1609.7,653.0 1610.7,653.6 1611.7,654.1 1612.7,654.7 1613.7,655.2 1614.7,655.7 1615.7,656.2 1616.7,656.7 1617.7,657.2 1618.7,657.6 1619.7,658.0 1620.7,658.4 1621.7,658.8 1622.7,659.2 1623.7,659.6 1624.7,659.9 1625.7,660.3 1626.7,660.6 1627.7,660.9 1628.7,661.2 1629.7,661.5 1630.7,661.8 1631.7,662.0 1632.7,662.3 1633.7,662.5 1634.7,662.8 1635.7,663.0 1636.7,663.2 1637.7,663.4 1638.7,663.6 1639.7,663.8 1640.7,664.0 1641.7,664.2 1642.7,664.3 1643.7,664.5 1644.7,664.6 1645.7,664.8 1646.7,664.9 1647.7,665.1 1648.7,665.2 1649.7,665.3" fill="none" stroke="#141414" stroke-width="2.4" stroke-linejoin="round" stroke-linecap="round" />
<clipPath id="sc12"><rect x="1102.5" y="667.2" width="30" height="20"/></clipPath>
<polygon points="1117.5,656.7 1119.7,664.2 1126.4,664.3 1121.1,669.1 1123.0,676.6 1117.5,672.1 1112.0,676.6 1113.9,669.1 1108.6,664.3 1115.3,664.2" fill="#fff" stroke="#141414" stroke-width="1.3" stroke-linejoin="miter"/>
<polygon points="1117.5,656.7 1119.7,664.2 1126.4,664.3 1121.1,669.1 1123.0,676.6 1117.5,672.1 1112.0,676.6 1113.9,669.1 1108.6,664.3 1115.3,664.2" fill="#141414" stroke="#141414" stroke-width="1.3" clip-path="url(#sc12)"/>
<clipPath id="sc13"><rect x="1135.1" y="667.2" width="30" height="20"/></clipPath>
<polygon points="1150.1,656.7 1152.3,664.1 1159.0,664.3 1153.7,669.0 1155.6,676.6 1150.1,672.1 1144.6,676.6 1146.5,669.0 1141.2,664.3 1147.9,664.1" fill="#fff" stroke="#141414" stroke-width="1.3" stroke-linejoin="miter"/>
<polygon points="1150.1,656.7 1152.3,664.1 1159.0,664.3 1153.7,669.0 1155.6,676.6 1150.1,672.1 1144.6,676.6 1146.5,669.0 1141.2,664.3 1147.9,664.1" fill="#141414" stroke="#141414" stroke-width="1.3" clip-path="url(#sc13)"/>
<clipPath id="sc14"><rect x="1167.7" y="666.8" width="30" height="20"/></clipPath>
<polygon points="1182.7,656.3 1184.9,663.7 1191.6,663.9 1186.3,668.6 1188.2,676.2 1182.7,671.7 1177.2,676.2 1179.1,668.6 1173.8,663.9 1180.5,663.7" fill="#fff" stroke="#141414" stroke-width="1.3" stroke-linejoin="miter"/>
<polygon points="1182.7,656.3 1184.9,663.7 1191.6,663.9 1186.3,668.6 1188.2,676.2 1182.7,671.7 1177.2,676.2 1179.1,668.6 1173.8,663.9 1180.5,663.7" fill="#141414" stroke="#141414" stroke-width="1.3" clip-path="url(#sc14)"/>
<clipPath id="sc15"><rect x="1200.3" y="664.6" width="30" height="20"/></clipPath>
<polygon points="1215.3,654.1 1217.5,661.5 1224.2,661.7 1218.9,666.5 1220.8,674.0 1215.3,669.5 1209.8,674.0 1211.7,666.5 1206.4,661.7 1213.1,661.5" fill="#fff" stroke="#141414" stroke-width="1.3" stroke-linejoin="miter"/>
<polygon points="1215.3,654.1 1217.5,661.5 1224.2,661.7 1218.9,666.5 1220.8,674.0 1215.3,669.5 1209.8,674.0 1211.7,666.5 1206.4,661.7 1213.1,661.5" fill="#141414" stroke="#141414" stroke-width="1.3" clip-path="url(#sc15)"/>
<clipPath id="sc16"><rect x="1232.9" y="655.5" width="30" height="20"/></clipPath>
<polygon points="1247.9,645.0 1250.1,652.5 1256.8,652.6 1251.5,657.4 1253.4,664.9 1247.9,660.4 1242.4,664.9 1244.3,657.4 1239.0,652.6 1245.7,652.5" fill="#fff" stroke="#141414" stroke-width="1.3" stroke-linejoin="miter"/>
<polygon points="1247.9,645.0 1250.1,652.5 1256.8,652.6 1251.5,657.4 1253.4,664.9 1247.9,660.4 1242.4,664.9 1244.3,657.4 1239.0,652.6 1245.7,652.5" fill="#141414" stroke="#141414" stroke-width="1.3" clip-path="url(#sc16)"/>
<clipPath id="sc17"><rect x="1265.5" y="626.5" width="30" height="20"/></clipPath>
<polygon points="1280.5,616.0 1282.7,623.4 1289.4,623.6 1284.1,628.4 1286.0,635.9 1280.5,631.4 1275.0,635.9 1276.9,628.4 1271.6,623.6 1278.3,623.4" fill="#fff" stroke="#141414" stroke-width="1.3" stroke-linejoin="miter"/>
<polygon points="1280.5,616.0 1282.7,623.4 1289.4,623.6 1284.1,628.4 1286.0,635.9 1280.5,631.4 1275.0,635.9 1276.9,628.4 1271.6,623.6 1278.3,623.4" fill="#141414" stroke="#141414" stroke-width="1.3" clip-path="url(#sc17)"/>
<clipPath id="sc18"><rect x="1298.1" y="556.1" width="30" height="20"/></clipPath>
<polygon points="1313.1,545.6 1315.3,553.0 1322.0,553.2 1316.7,557.9 1318.6,565.5 1313.1,561.0 1307.6,565.5 1309.5,557.9 1304.2,553.2 1310.9,553.0" fill="#fff" stroke="#141414" stroke-width="1.3" stroke-linejoin="miter"/>
<polygon points="1313.1,545.6 1315.3,553.0 1322.0,553.2 1316.7,557.9 1318.6,565.5 1313.1,561.0 1307.6,565.5 1309.5,557.9 1304.2,553.2 1310.9,553.0" fill="#141414" stroke="#141414" stroke-width="1.3" clip-path="url(#sc18)"/>
<clipPath id="sc19"><rect x="1330.7" y="429.3" width="30" height="20"/></clipPath>
<polygon points="1345.7,418.8 1347.9,426.2 1354.6,426.4 1349.3,431.2 1351.2,438.7 1345.7,434.2 1340.2,438.7 1342.1,431.2 1336.8,426.4 1343.5,426.2" fill="#fff" stroke="#141414" stroke-width="1.3" stroke-linejoin="miter"/>
<polygon points="1345.7,418.8 1347.9,426.2 1354.6,426.4 1349.3,431.2 1351.2,438.7 1345.7,434.2 1340.2,438.7 1342.1,431.2 1336.8,426.4 1343.5,426.2" fill="#141414" stroke="#141414" stroke-width="1.3" clip-path="url(#sc19)"/>
<clipPath id="sc20"><rect x="1363.3" y="267.7" width="30" height="20"/></clipPath>
<polygon points="1378.3,257.2 1380.5,264.6 1387.2,264.8 1381.9,269.5 1383.8,277.1 1378.3,272.6 1372.8,277.1 1374.7,269.5 1369.4,264.8 1376.1,264.6" fill="#fff" stroke="#141414" stroke-width="1.3" stroke-linejoin="miter"/>
<polygon points="1378.3,257.2 1380.5,264.6 1387.2,264.8 1381.9,269.5 1383.8,277.1 1378.3,272.6 1372.8,277.1 1374.7,269.5 1369.4,264.8 1376.1,264.6" fill="#141414" stroke="#141414" stroke-width="1.3" clip-path="url(#sc20)"/>
<clipPath id="sc21"><rect x="1395.9" y="140.9" width="30" height="20"/></clipPath>
<polygon points="1410.9,130.4 1413.1,137.8 1419.8,138.0 1414.5,142.8 1416.4,150.3 1410.9,145.8 1405.4,150.3 1407.3,142.8 1402.0,138.0 1408.7,137.8" fill="#fff" stroke="#141414" stroke-width="1.3" stroke-linejoin="miter"/>
<polygon points="1410.9,130.4 1413.1,137.8 1419.8,138.0 1414.5,142.8 1416.4,150.3 1410.9,145.8 1405.4,150.3 1407.3,142.8 1402.0,138.0 1408.7,137.8" fill="#141414" stroke="#141414" stroke-width="1.3" clip-path="url(#sc21)"/>
<clipPath id="sc22"><rect x="1428.5" y="123.4" width="30" height="20"/></clipPath>
<polygon points="1443.5,112.9 1445.7,120.3 1452.4,120.5 1447.1,125.2 1449.0,132.8 1443.5,128.3 1438.0,132.8 1439.9,125.2 1434.6,120.5 1441.3,120.3" fill="#fff" stroke="#141414" stroke-width="1.3" stroke-linejoin="miter"/>
<polygon points="1443.5,112.9 1445.7,120.3 1452.4,120.5 1447.1,125.2 1449.0,132.8 1443.5,128.3 1438.0,132.8 1439.9,125.2 1434.6,120.5 1441.3,120.3" fill="#141414" stroke="#141414" stroke-width="1.3" clip-path="url(#sc22)"/>
<clipPath id="sc23"><rect x="1461.1" y="226.4" width="30" height="20"/></clipPath>
<polygon points="1476.1,215.9 1478.3,223.3 1485.0,223.5 1479.7,228.3 1481.6,235.8 1476.1,231.3 1470.6,235.8 1472.5,228.3 1467.2,223.5 1473.9,223.3" fill="#fff" stroke="#141414" stroke-width="1.3" stroke-linejoin="miter"/>
<polygon points="1476.1,215.9 1478.3,223.3 1485.0,223.5 1479.7,228.3 1481.6,235.8 1476.1,231.3 1470.6,235.8 1472.5,228.3 1467.2,223.5 1473.9,223.3" fill="#141414" stroke="#141414" stroke-width="1.3" clip-path="url(#sc23)"/>
<clipPath id="sc24"><rect x="1493.7" y="386.9" width="30" height="20"/></clipPath>
<polygon points="1508.7,376.4 1510.9,383.9 1517.6,384.0 1512.3,388.8 1514.2,396.3 1508.7,391.8 1503.2,396.3 1505.1,388.8 1499.8,384.0 1506.5,383.9" fill="#fff" stroke="#141414" stroke-width="1.3" stroke-linejoin="miter"/>
<polygon points="1508.7,376.4 1510.9,383.9 1517.6,384.0 1512.3,388.8 1514.2,396.3 1508.7,391.8 1503.2,396.3 1505.1,388.8 1499.8,384.0 1506.5,383.9" fill="#141414" stroke="#141414" stroke-width="1.3" clip-path="url(#sc24)"/>
<clipPath id="sc25"><rect x="1526.3" y="527.4" width="30" height="20"/></clipPath>
<polygon points="1541.3,516.9 1543.5,524.4 1550.2,524.5 1544.9,529.3 1546.8,536.8 1541.3,532.3 1535.8,536.8 1537.7,529.3 1532.4,524.5 1539.1,524.4" fill="#fff" stroke="#141414" stroke-width="1.3" stroke-linejoin="miter"/>
<polygon points="1541.3,516.9 1543.5,524.4 1550.2,524.5 1544.9,529.3 1546.8,536.8 1541.3,532.3 1535.8,536.8 1537.7,529.3 1532.4,524.5 1539.1,524.4" fill="#141414" stroke="#141414" stroke-width="1.3" clip-path="url(#sc25)"/>
<clipPath id="sc26"><rect x="1558.9" y="612.5" width="30" height="20"/></clipPath>
<polygon points="1573.9,602.0 1576.1,609.5 1582.8,609.6 1577.5,614.4 1579.4,621.9 1573.9,617.4 1568.4,621.9 1570.3,614.4 1565.0,609.6 1571.7,609.5" fill="#fff" stroke="#141414" stroke-width="1.3" stroke-linejoin="miter"/>
<polygon points="1573.9,602.0 1576.1,609.5 1582.8,609.6 1577.5,614.4 1579.4,621.9 1573.9,617.4 1568.4,621.9 1570.3,614.4 1565.0,609.6 1571.7,609.5" fill="#141414" stroke="#141414" stroke-width="1.3" clip-path="url(#sc26)"/>
<clipPath id="sc27"><rect x="1591.5" y="650.4" width="30" height="20"/></clipPath>
<polygon points="1606.5,639.9 1608.7,647.4 1615.4,647.5 1610.1,652.3 1612.0,659.8 1606.5,655.3 1601.0,659.8 1602.9,652.3 1597.6,647.5 1604.3,647.4" fill="#fff" stroke="#141414" stroke-width="1.3" stroke-linejoin="miter"/>
<polygon points="1606.5,639.9 1608.7,647.4 1615.4,647.5 1610.1,652.3 1612.0,659.8 1606.5,655.3 1601.0,659.8 1602.9,652.3 1597.6,647.5 1604.3,647.4" fill="#141414" stroke="#141414" stroke-width="1.3" clip-path="url(#sc27)"/>
<clipPath id="sc28"><rect x="1624.1" y="663.2" width="30" height="20"/></clipPath>
<polygon points="1639.1,652.7 1641.3,660.1 1648.0,660.3 1642.7,665.0 1644.6,672.6 1639.1,668.1 1633.6,672.6 1635.5,665.0 1630.2,660.3 1636.9,660.1" fill="#fff" stroke="#141414" stroke-width="1.3" stroke-linejoin="miter"/>
<polygon points="1639.1,652.7 1641.3,660.1 1648.0,660.3 1642.7,665.0 1644.6,672.6 1639.1,668.1 1633.6,672.6 1635.5,665.0 1630.2,660.3 1636.9,660.1" fill="#141414" stroke="#141414" stroke-width="1.3" clip-path="url(#sc28)"/>
<polyline points="994.7,669.3 1100.0,669.3" fill="none" stroke="#141414" stroke-width="2.6" stroke-linejoin="round" stroke-linecap="round" />
</g>
<rect x="994.7" y="19.2" width="689.1" height="655.8" fill="none" stroke="#141414" stroke-width="2.6"/>
<line x1="994.7" y1="675.0" x2="994.7" y2="688.8" stroke="#141414" stroke-width="2.4"/>
<line x1="1043.9" y1="675.0" x2="1043.9" y2="682.3" stroke="#141414" stroke-width="2.4"/>
<line x1="1093.1" y1="675.0" x2="1093.1" y2="688.8" stroke="#141414" stroke-width="2.4"/>
<line x1="1142.4" y1="675.0" x2="1142.4" y2="682.3" stroke="#141414" stroke-width="2.4"/>
<line x1="1191.6" y1="675.0" x2="1191.6" y2="688.8" stroke="#141414" stroke-width="2.4"/>
<line x1="1240.8" y1="675.0" x2="1240.8" y2="682.3" stroke="#141414" stroke-width="2.4"/>
<line x1="1290.0" y1="675.0" x2="1290.0" y2="688.8" stroke="#141414" stroke-width="2.4"/>
<line x1="1339.2" y1="675.0" x2="1339.2" y2="682.3" stroke="#141414" stroke-width="2.4"/>
<line x1="1388.5" y1="675.0" x2="1388.5" y2="688.8" stroke="#141414" stroke-width="2.4"/>
<line x1="1437.7" y1="675.0" x2="1437.7" y2="682.3" stroke="#141414" stroke-width="2.4"/>
<line x1="1486.9" y1="675.0" x2="1486.9" y2="688.8" stroke="#141414" stroke-width="2.4"/>
<line x1="1536.1" y1="675.0" x2="1536.1" y2="682.3" stroke="#141414" stroke-width="2.4"/>
<line x1="1585.4" y1="675.0" x2="1585.4" y2="688.8" stroke="#141414" stroke-width="2.4"/>
<line x1="1634.6" y1="675.0" x2="1634.6" y2="682.3" stroke="#141414" stroke-width="2.4"/>
<line x1="1683.8" y1="675.0" x2="1683.8" y2="688.8" stroke="#141414" stroke-width="2.4"/>
<line x1="982.8" y1="675.0" x2="994.7" y2="675.0" stroke="#141414" stroke-width="2.3"/>
<line x1="988.3" y1="620.4" x2="994.7" y2="620.4" stroke="#141414" stroke-width="2.3"/>
<line x1="982.8" y1="565.7" x2="994.7" y2="565.7" stroke="#141414" stroke-width="2.3"/>
<line x1="988.3" y1="511.0" x2="994.7" y2="511.0" stroke="#141414" stroke-width="2.3"/>
<line x1="982.8" y1="456.4" x2="994.7" y2="456.4" stroke="#141414" stroke-width="2.3"/>
<line x1="988.3" y1="401.8" x2="994.7" y2="401.8" stroke="#141414" stroke-width="2.3"/>
<line x1="982.8" y1="347.1" x2="994.7" y2="347.1" stroke="#141414" stroke-width="2.3"/>
<line x1="988.3" y1="292.4" x2="994.7" y2="292.4" stroke="#141414" stroke-width="2.3"/>
<line x1="982.8" y1="237.8" x2="994.7" y2="237.8" stroke="#141414" stroke-width="2.3"/>
<line x1="988.3" y1="183.1" x2="994.7" y2="183.1" stroke="#141414" stroke-width="2.3"/>
<line x1="982.8" y1="128.5" x2="994.7" y2="128.5" stroke="#141414" stroke-width="2.3"/>
<line x1="988.3" y1="73.9" x2="994.7" y2="73.9" stroke="#141414" stroke-width="2.3"/>
<line x1="982.8" y1="19.2" x2="994.7" y2="19.2" stroke="#141414" stroke-width="2.3"/>
<text x="959.42" y="728.90" font-size="41.00" textLength="69.70" lengthAdjust="spacingAndGlyphs" >1000</text>
<text x="1057.86" y="728.90" font-size="41.00" textLength="69.70" lengthAdjust="spacingAndGlyphs" >1200</text>
<text x="1156.30" y="728.90" font-size="41.00" textLength="69.70" lengthAdjust="spacingAndGlyphs" >1400</text>
<text x="1254.75" y="728.90" font-size="41.00" textLength="69.70" lengthAdjust="spacingAndGlyphs" >1600</text>
<text x="1353.19" y="728.90" font-size="41.00" textLength="69.70" lengthAdjust="spacingAndGlyphs" >1800</text>
<text x="1452.29" y="728.90" font-size="41.00" textLength="69.70" lengthAdjust="spacingAndGlyphs" >2000</text>
<text x="1550.74" y="728.90" font-size="41.00" textLength="69.70" lengthAdjust="spacingAndGlyphs" >2200</text>
<text x="1649.18" y="728.90" font-size="41.00" textLength="69.70" lengthAdjust="spacingAndGlyphs" >2400</text>
<text x="930.96" y="685.50" font-size="41.20" textLength="44.08" lengthAdjust="spacingAndGlyphs" >0.0</text>
<text x="931.10" y="576.37" font-size="41.20" textLength="44.08" lengthAdjust="spacingAndGlyphs" >0.2</text>
<text x="930.25" y="467.23" font-size="41.20" textLength="44.08" lengthAdjust="spacingAndGlyphs" >0.4</text>
<text x="930.67" y="358.10" font-size="41.20" textLength="44.08" lengthAdjust="spacingAndGlyphs" >0.6</text>
<text x="930.82" y="248.97" font-size="41.20" textLength="44.08" lengthAdjust="spacingAndGlyphs" >0.8</text>
<text x="930.96" y="139.83" font-size="41.20" textLength="44.08" lengthAdjust="spacingAndGlyphs" >1.0</text>
<text x="931.10" y="30.70" font-size="41.20" textLength="44.08" lengthAdjust="spacingAndGlyphs" >1.2</text>
<rect x="550.7" y="76.4" width="265.8" height="271.8" fill="#fff" stroke="#6a6a6a" stroke-width="1.2"/>
<line x1="560.2" y1="103.0" x2="622.2" y2="103.0" stroke="#141414" stroke-width="2.6" stroke-linecap="round"/>
<rect x="582.9" y="93.7" width="16.2" height="18.6" fill="#141414"/>
<text x="628.70" y="113.20" font-size="35.70" textLength="182.96" lengthAdjust="spacingAndGlyphs" >0.5mol% TiO</text>
<line x1="560.2" y1="148.2" x2="622.2" y2="148.2" stroke="#141414" stroke-width="2.6" stroke-linecap="round"/>
<rect x="583.6" y="139.6" width="14.8" height="17.2" fill="#fff" stroke="#141414" stroke-width="1.4"/>
<text x="628.70" y="158.40" font-size="35.70" textLength="182.96" lengthAdjust="spacingAndGlyphs" >0.4mol% TiO</text>
<line x1="560.2" y1="193.4" x2="622.2" y2="193.4" stroke="#141414" stroke-width="2.6" stroke-linecap="round"/>
<ellipse cx="591.0" cy="193.4" rx="9" ry="10.3" fill="#141414"/>
<text x="628.70" y="203.60" font-size="35.70" textLength="182.96" lengthAdjust="spacingAndGlyphs" >0.3mol% TiO</text>
<line x1="560.2" y1="238.7" x2="622.2" y2="238.7" stroke="#141414" stroke-width="2.6" stroke-linecap="round"/>
<ellipse cx="591.0" cy="238.7" rx="8.4" ry="9.7" fill="none" stroke="#141414" stroke-width="1.3"/>
<text x="628.70" y="248.90" font-size="35.70" textLength="182.96" lengthAdjust="spacingAndGlyphs" >0.2mol% TiO</text>
<line x1="560.2" y1="284.0" x2="622.2" y2="284.0" stroke="#141414" stroke-width="2.6" stroke-linecap="round"/>
<polygon points="580.2,276.8 601.8,276.8 591.0,298.3" fill="#141414"/>
<text x="628.70" y="294.20" font-size="35.70" textLength="182.96" lengthAdjust="spacingAndGlyphs" >0.1mol% TiO</text>
<line x1="560.2" y1="329.2" x2="622.2" y2="329.2" stroke="#141414" stroke-width="2.6" stroke-linecap="round"/>
<clipPath id="sc29"><rect x="576.0" y="328.7" width="30" height="20"/></clipPath>
<polygon points="591.0,318.2 593.2,325.6 599.9,325.8 594.6,330.6 596.5,338.1 591.0,333.6 585.5,338.1 587.4,330.6 582.1,325.8 588.8,325.6" fill="#fff" stroke="#141414" stroke-width="1.3" stroke-linejoin="miter"/>
<polygon points="591.0,318.2 593.2,325.6 599.9,325.8 594.6,330.6 596.5,338.1 591.0,333.6 585.5,338.1 587.4,330.6 582.1,325.8 588.8,325.6" fill="#141414" stroke="#141414" stroke-width="1.3" clip-path="url(#sc29)"/>
<text x="628.70" y="339.40" font-size="35.70" textLength="182.96" lengthAdjust="spacingAndGlyphs" >0.0mol% TiO</text>
<rect x="994.7" y="19.2" width="253.9" height="283.2" fill="#fff" stroke="#6a6a6a" stroke-width="1.2"/>
<line x1="996.0" y1="45.8" x2="1057.6" y2="45.8" stroke="#141414" stroke-width="2.6" stroke-linecap="round"/>
<rect x="1017.7" y="36.5" width="16.2" height="18.6" fill="#141414"/>
<text x="1064.80" y="56.60" font-size="35.50" textLength="183.06" lengthAdjust="spacingAndGlyphs" >0.5mol% TiO</text>
<line x1="996.0" y1="93.1" x2="1057.6" y2="93.1" stroke="#141414" stroke-width="2.6" stroke-linecap="round"/>
<rect x="1018.4" y="84.5" width="14.8" height="17.2" fill="#fff" stroke="#141414" stroke-width="1.4"/>
<text x="1064.80" y="103.90" font-size="35.50" textLength="183.06" lengthAdjust="spacingAndGlyphs" >0.4mol% TiO</text>
<line x1="996.0" y1="140.2" x2="1057.6" y2="140.2" stroke="#141414" stroke-width="2.6" stroke-linecap="round"/>
<ellipse cx="1025.8" cy="140.2" rx="9" ry="10.3" fill="#141414"/>
<text x="1064.80" y="151.00" font-size="35.50" textLength="183.06" lengthAdjust="spacingAndGlyphs" >0.3mol% TiO</text>
<line x1="996.0" y1="187.7" x2="1057.6" y2="187.7" stroke="#141414" stroke-width="2.6" stroke-linecap="round"/>
<ellipse cx="1025.8" cy="187.7" rx="8.4" ry="9.7" fill="none" stroke="#141414" stroke-width="1.3"/>
<text x="1064.80" y="198.50" font-size="35.50" textLength="183.06" lengthAdjust="spacingAndGlyphs" >0.2mol% TiO</text>
<line x1="996.0" y1="234.7" x2="1057.6" y2="234.7" stroke="#141414" stroke-width="2.6" stroke-linecap="round"/>
<polygon points="1015.0,227.5 1036.5,227.5 1025.8,249.0" fill="#141414"/>
<text x="1064.80" y="245.50" font-size="35.50" textLength="183.06" lengthAdjust="spacingAndGlyphs" >0.1mol% TiO</text>
<line x1="996.0" y1="282.4" x2="1057.6" y2="282.4" stroke="#141414" stroke-width="2.6" stroke-linecap="round"/>
<clipPath id="sc30"><rect x="1010.8" y="281.9" width="30" height="20"/></clipPath>
<polygon points="1025.8,271.4 1028.0,278.8 1034.7,279.0 1029.4,283.8 1031.3,291.3 1025.8,286.8 1020.3,291.3 1022.2,283.8 1016.9,279.0 1023.6,278.8" fill="#fff" stroke="#141414" stroke-width="1.3" stroke-linejoin="miter"/>
<polygon points="1025.8,271.4 1028.0,278.8 1034.7,279.0 1029.4,283.8 1031.3,291.3 1025.8,286.8 1020.3,291.3 1022.2,283.8 1016.9,279.0 1023.6,278.8" fill="#141414" stroke="#141414" stroke-width="1.3" clip-path="url(#sc30)"/>
<text x="1064.80" y="293.20" font-size="35.50" textLength="183.06" lengthAdjust="spacingAndGlyphs" >0.0mol% TiO</text>
<line x1="993.4" y1="19.2" x2="1683.8" y2="19.2" stroke="#141414" stroke-width="2.6"/>
<line x1="994.7" y1="19.2" x2="994.7" y2="675.0" stroke="#141414" stroke-width="2.4"/>
<text x="363.84" y="54.20" font-size="37.31" textLength="44.61" lengthAdjust="spacingAndGlyphs" >HT</text>
<text x="415.70" y="52.31" font-size="29.63" textLength="20.51" lengthAdjust="spacingAndGlyphs" >=</text>
<text x="442.03" y="54.33" font-size="37.13" textLength="47.57" lengthAdjust="spacingAndGlyphs" >530</text>
<text x="495.95" y="37.91" font-size="18.67" textLength="8.61" lengthAdjust="spacingAndGlyphs" >o</text>
<text x="504.32" y="54.44" font-size="36.08" textLength="79.02" lengthAdjust="spacingAndGlyphs" >C/10h</text>
<text x="339.09" y="785.30" font-size="40.60" textLength="268.27" lengthAdjust="spacingAndGlyphs" >Wavelength (nm)</text>
<text x="1209.30" y="790.70" font-size="40.60" textLength="261.01" lengthAdjust="spacingAndGlyphs" >Wavelength (nm)</text>
<g transform="translate(38.30,596.60) scale(0.869,1) rotate(-90)"><text x="-0.42" y="0" font-size="41.70" textLength="462.31" lengthAdjust="spacingAndGlyphs" >Absorption coefficient(cm</text></g>
<g transform="translate(38.3,0) scale(0.869,1) rotate(-90)"><text x="-133.2" y="-22.6" font-size="26" textLength="8" lengthAdjust="spacingAndGlyphs">-</text><text x="-122.6" y="-23.3" font-size="25.5" textLength="10" lengthAdjust="spacingAndGlyphs">1</text><text x="-111" y="0.1" font-size="31" textLength="9.5" lengthAdjust="spacingAndGlyphs">)</text></g>
<g transform="translate(900.80,695.40) scale(0.877,1) rotate(-90)"><text x="-0.83" y="0" font-size="41.50" textLength="648.98" lengthAdjust="spacingAndGlyphs" >Normalized Photoluminescence (a.u)</text></g>
</svg></body></html>
